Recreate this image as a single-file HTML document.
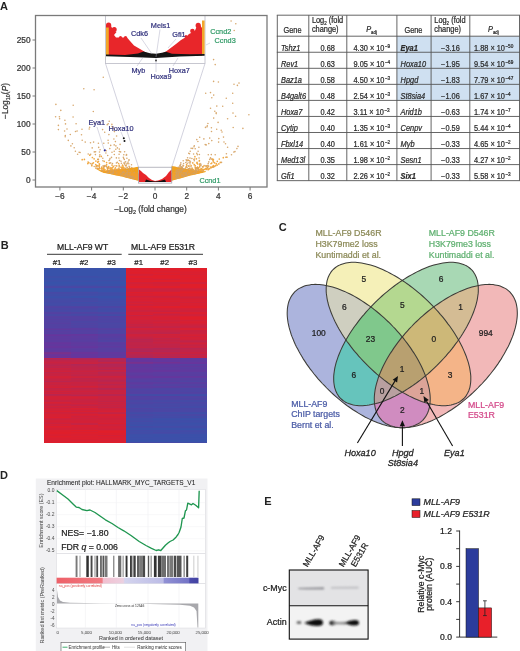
<!DOCTYPE html><html><head><meta charset="utf-8"><style>html,body{margin:0;padding:0;background:#fff;width:520px;height:651px;overflow:hidden}svg{display:block}#w{will-change:transform;width:520px;height:651px}text{font-family:"Liberation Sans",sans-serif}</style></head><body><div id="w"><svg width="520" height="651" viewBox="0 0 520 651"><text x="0.0" y="9.8" font-size="11" text-anchor="start" fill="#222" font-weight="bold">A</text>
<path d="M138.4 180.8L136.3 180.3L134.3 179.8L132.3 179.2L130.3 178.7L128.3 178.2L126.2 177.7L124.2 177.2L122.2 176.6L120.2 176.2L118.1 175.8L116.1 175.4L114.1 175.0L112.1 174.5L110.1 174.1L108.0 173.7L106.0 173.3L104.0 172.9L102.0 172.2L100.0 171.2L97.9 170.1L97.9 169.1L100.0 169.9L102.0 170.6L104.0 170.8L106.0 170.7L108.0 170.6L110.1 170.4L112.1 170.2L114.1 170.0L116.1 169.8L118.1 169.5L120.2 169.2L122.2 169.0L124.2 168.7L126.2 168.5L128.3 168.3L130.3 168.0L132.3 167.7L134.3 167.4L136.3 167.1L138.4 166.8ZM171.6 180.8L173.3 180.3L175.1 179.8L176.8 179.3L178.5 178.8L180.2 178.4L181.9 177.9L183.6 177.4L185.3 176.9L187.0 176.4L188.7 176.0L190.4 175.6L192.1 175.2L193.8 174.8L195.5 174.4L197.2 174.1L198.9 173.7L200.6 173.3L202.3 172.9L204.0 172.5L205.7 172.1L205.7 171.1L204.0 171.2L202.3 171.2L200.6 171.1L198.9 170.9L197.2 170.7L195.5 170.5L193.8 170.2L192.1 170.0L190.4 169.6L188.7 169.3L187.0 169.0L185.3 168.7L183.6 168.4L181.9 168.1L180.2 167.7L178.5 167.4L176.8 167.0L175.1 166.6L173.3 166.2L171.6 165.8Z" fill="#f0a21c"/>
<path d="M182.2 175.7h0M136.5 174.9h0M103.5 169.7h0M132.3 177.7h0M125.5 172.6h0M205.7 168.5h0M127.9 177.0h0M123.6 174.3h0M176.1 177.7h0M132.5 178.2h0M126.3 175.4h0M139.0 179.0h0M134.6 174.4h0M213.0 160.4h0M172.5 179.2h0M183.6 173.9h0M175.1 177.3h0M137.9 178.6h0M105.0 169.6h0M179.3 176.0h0M107.5 169.6h0M138.8 178.7h0M125.7 175.4h0M188.3 173.5h0M189.7 173.1h0M172.1 179.4h0M178.9 177.7h0M176.3 174.0h0M126.8 176.0h0M172.5 176.2h0M128.3 177.0h0M119.0 168.2h0M120.7 172.7h0M110.9 167.5h0M130.0 175.6h0M171.8 173.5h0M121.3 172.4h0M130.5 177.1h0M128.9 175.2h0M220.3 162.4h0M131.7 177.7h0M103.7 167.0h0M129.7 167.1h0M124.8 172.3h0M184.3 172.8h0M177.6 175.9h0M111.1 173.0h0M134.8 177.3h0M93.4 162.8h0M189.6 171.9h0M131.6 177.5h0M137.7 176.8h0M174.2 177.3h0M127.5 172.2h0M128.0 176.9h0M177.8 177.6h0M134.8 176.4h0M177.0 177.9h0M185.9 167.1h0M195.0 173.4h0M138.8 179.8h0M138.4 178.0h0M132.8 178.0h0M171.2 179.3h0M183.3 175.7h0M178.7 177.5h0M171.7 177.9h0M181.9 176.2h0M137.7 179.1h0M181.7 175.3h0M179.4 177.2h0M187.5 175.0h0M202.1 169.1h0M135.5 178.5h0M223.3 157.7h0M191.9 171.7h0M138.8 179.6h0M120.2 174.3h0M127.3 174.7h0M171.1 178.9h0M127.7 174.0h0M135.0 177.0h0M136.2 178.6h0M137.9 178.6h0M176.2 178.4h0M173.4 179.2h0M138.9 179.4h0M135.7 177.2h0M175.0 177.8h0M174.6 178.1h0M135.1 172.8h0M178.4 173.6h0M115.4 167.9h0M121.2 170.7h0M182.6 176.5h0M95.9 161.1h0M180.7 174.2h0M123.6 175.1h0M172.2 176.7h0M131.4 177.0h0M103.3 169.5h0M134.6 176.4h0M135.7 174.1h0M136.4 177.5h0M173.2 178.7h0M226.9 157.2h0M99.9 168.5h0M110.9 171.0h0M176.1 176.0h0M115.6 173.6h0M138.7 177.7h0M110.5 172.2h0M117.0 173.2h0M133.0 177.6h0M119.5 174.1h0M124.2 174.7h0M115.8 173.2h0M174.1 177.3h0M187.1 174.2h0M182.3 176.4h0M136.9 177.3h0M177.0 175.6h0M128.6 172.9h0M171.2 179.5h0M172.8 179.0h0M123.6 174.5h0M195.7 171.7h0M174.9 178.6h0M138.4 179.0h0M131.5 176.6h0M116.7 172.9h0M172.7 178.4h0M194.8 173.3h0M185.7 171.6h0M182.9 174.9h0M186.1 174.8h0M175.4 177.0h0M174.8 178.3h0M114.4 172.2h0M131.1 175.7h0M175.5 177.1h0M197.6 172.7h0M128.2 174.8h0M134.7 178.6h0M112.5 173.0h0M110.1 170.1h0M199.7 167.0h0M192.0 172.5h0M182.9 173.4h0M123.1 174.0h0M114.4 173.4h0M123.9 174.3h0M181.7 172.8h0M171.3 178.6h0M176.7 173.3h0M177.8 177.1h0M137.3 178.8h0M133.6 176.9h0M113.1 170.1h0M177.2 177.4h0M188.9 165.9h0M120.8 174.6h0M124.4 175.1h0M192.7 173.0h0M181.0 172.4h0M181.6 175.8h0M191.6 173.9h0M175.9 177.3h0M96.4 165.8h0M195.4 171.0h0M134.7 176.1h0M173.6 176.6h0M120.8 174.4h0M112.0 165.1h0M177.0 178.1h0M132.2 175.3h0M175.6 178.1h0M184.0 175.2h0M134.1 176.0h0M127.3 176.8h0M136.6 179.0h0M121.6 175.3h0M133.5 176.9h0M129.4 176.6h0M116.1 173.8h0M176.1 176.8h0M176.2 175.2h0M174.2 179.0h0M187.4 173.0h0M125.5 175.5h0M126.4 176.7h0M181.5 175.9h0M174.8 176.7h0M175.5 177.1h0M131.9 177.3h0M134.5 178.7h0M136.5 178.1h0M136.9 178.1h0M185.6 175.3h0M128.9 175.2h0M124.3 169.0h0M130.4 175.9h0M127.0 176.3h0M173.0 179.0h0M125.7 175.6h0M128.3 176.4h0M178.6 173.5h0M117.2 172.9h0M179.6 173.6h0M135.0 174.3h0M138.4 176.6h0M174.5 175.0h0M116.7 172.6h0M127.8 176.9h0M136.1 178.4h0M135.3 176.4h0M104.2 161.3h0M133.4 177.7h0M134.2 174.2h0M124.3 175.6h0M190.5 171.9h0M132.2 177.5h0M174.6 177.9h0M178.1 177.3h0M177.2 177.8h0M135.8 178.9h0M181.2 175.5h0M179.6 175.6h0M179.8 176.6h0M171.4 179.2h0M130.7 175.6h0M177.2 177.2h0M180.8 176.4h0M118.2 169.5h0M171.5 177.8h0M172.8 179.0h0M138.1 179.0h0M133.9 177.3h0M136.2 178.9h0M192.4 171.8h0M125.8 174.1h0M171.9 178.2h0M87.8 163.6h0M174.0 177.5h0M179.4 177.2h0M136.1 179.2h0M135.6 177.8h0M135.7 178.6h0M124.9 175.2h0M135.5 178.5h0M131.9 174.2h0M127.4 175.7h0M123.3 172.2h0M174.5 176.1h0M138.3 177.5h0M173.8 178.1h0M131.5 175.9h0M171.3 177.8h0M171.5 178.6h0M134.0 175.7h0M188.4 160.3h0M109.4 163.1h0M173.1 178.4h0M179.1 175.1h0M178.2 175.1h0M179.4 176.2h0M138.4 179.5h0M111.5 171.2h0M179.8 176.4h0M131.5 176.2h0M173.9 178.6h0M174.2 178.9h0M210.6 167.1h0M171.5 178.9h0M172.9 179.3h0M186.1 175.4h0M171.8 174.7h0M134.7 178.6h0M178.5 176.9h0M184.7 175.8h0M188.0 174.1h0M138.5 179.8h0M136.5 179.2h0M122.1 175.3h0M97.7 162.2h0M127.0 176.8h0M107.9 170.0h0M138.8 179.7h0M138.5 179.5h0M137.0 177.1h0M126.7 176.4h0M183.5 175.4h0M172.4 179.3h0M195.4 171.2h0M123.6 175.8h0M111.9 171.4h0M172.0 179.1h0M131.4 176.2h0M102.3 170.4h0M125.8 176.5h0M132.7 177.1h0M200.3 169.4h0M132.8 177.9h0M171.0 179.7h0M190.1 174.5h0M173.6 177.3h0M185.6 175.1h0M128.1 174.1h0M195.1 167.1h0M103.7 171.8h0M175.5 178.5h0M196.0 172.9h0M125.7 176.5h0M137.4 176.5h0M137.8 179.1h0M177.6 176.6h0M180.8 175.8h0M179.3 173.1h0M107.6 168.7h0M197.4 172.8h0M183.0 175.4h0M138.9 178.8h0M178.4 177.4h0M182.1 174.2h0M176.3 175.2h0M112.6 171.8h0M183.5 176.3h0M177.6 177.7h0M108.7 166.6h0M138.2 178.4h0M127.6 173.6h0M123.7 175.4h0M180.2 173.4h0M117.6 172.6h0M175.8 170.5h0M127.2 175.9h0M177.3 177.8h0M171.9 178.0h0M171.0 179.5h0M137.4 177.0h0M176.2 178.4h0M198.1 171.3h0M129.9 176.7h0M117.6 172.7h0M175.8 178.4h0M185.0 175.7h0M183.9 175.2h0M131.6 177.3h0M190.5 172.3h0M180.6 173.5h0M123.0 174.4h0M175.0 177.3h0M171.6 177.1h0M122.9 175.4h0M171.3 179.0h0M133.5 174.7h0M175.9 176.5h0M127.9 176.2h0M131.4 177.2h0M137.8 175.1h0M135.3 174.2h0M137.3 177.4h0M107.4 168.3h0M172.4 177.0h0M198.8 169.9h0M101.8 167.2h0M171.2 176.8h0M136.0 178.2h0M181.9 167.7h0M134.3 174.2h0M187.8 174.1h0M136.5 177.4h0M196.2 173.2h0M123.0 172.9h0M214.6 162.8h0M132.3 176.4h0M179.8 168.2h0M123.9 175.4h0M99.8 168.6h0M173.4 177.1h0M134.1 178.6h0M176.5 175.8h0M127.5 175.1h0M134.3 177.4h0M127.5 176.4h0M172.3 178.8h0M111.5 172.7h0M173.3 178.6h0M126.5 176.5h0M173.0 179.1h0M195.9 172.3h0M132.6 178.2h0M173.2 175.3h0M175.1 178.4h0M173.1 178.9h0M214.0 166.4h0M175.4 178.3h0M136.8 177.9h0M138.9 175.4h0M184.0 175.4h0M138.0 179.0h0M114.7 169.0h0M201.5 171.9h0M118.7 173.5h0M172.8 178.7h0M131.9 177.3h0M206.4 166.1h0M137.2 177.0h0M171.1 178.9h0M121.8 174.5h0M191.5 169.1h0M136.4 177.4h0M109.1 170.8h0M132.3 178.0h0M133.8 176.8h0M184.8 175.1h0M171.1 179.7h0M186.1 174.7h0M208.2 169.7h0M183.1 175.6h0M181.4 175.6h0M177.6 178.0h0M177.3 175.6h0M128.9 176.8h0M191.1 172.7h0M136.8 178.7h0M128.4 176.8h0M117.4 169.4h0M192.6 173.9h0M174.3 178.4h0M136.8 177.9h0M206.0 168.4h0M186.8 172.5h0M116.5 171.7h0M170.9 176.4h0M133.0 178.2h0M189.9 170.6h0M113.8 173.7h0M171.9 178.5h0M135.0 178.7h0M126.1 174.5h0M131.1 175.9h0M119.4 169.7h0M185.3 171.3h0M177.6 177.0h0M136.8 175.9h0M177.6 177.6h0M127.8 175.3h0M182.3 176.4h0M196.9 172.7h0M138.5 179.7h0M131.6 176.3h0M177.8 175.8h0M174.7 174.9h0M188.0 173.8h0M182.6 174.0h0M176.5 177.5h0M128.9 177.0h0M117.3 173.1h0M206.1 169.5h0M172.4 178.9h0M173.3 178.9h0M204.1 165.7h0M130.7 177.3h0M129.7 176.9h0M176.6 177.6h0M175.2 176.0h0M183.9 174.9h0M133.3 178.3h0M122.5 165.2h0M173.4 178.4h0M139.1 178.9h0M134.0 178.4h0M198.1 172.8h0M172.2 177.8h0M128.0 175.9h0M183.8 175.5h0M127.4 176.6h0M137.4 179.0h0M196.8 162.9h0M178.2 176.1h0M129.8 177.4h0M171.3 179.6h0M98.5 161.5h0M176.0 178.2h0M134.8 177.3h0M180.9 176.8h0M106.6 162.5h0M173.5 178.8h0M173.3 179.1h0M139.0 179.7h0M181.8 176.1h0M125.3 170.4h0M134.9 174.2h0M181.2 177.0h0M180.0 176.8h0M172.4 178.9h0M131.0 177.7h0M137.8 179.5h0M171.1 179.5h0M186.2 172.2h0M118.7 173.5h0M181.8 175.1h0M123.9 175.9h0M194.7 172.5h0M199.7 164.5h0M134.6 177.5h0M110.7 170.0h0M134.3 178.1h0M97.2 165.7h0M207.1 168.0h0M106.4 172.3h0M175.7 178.4h0M132.9 177.9h0M129.7 176.8h0M177.0 175.2h0M136.1 178.7h0M131.1 176.0h0M112.5 169.6h0M114.5 173.4h0M132.7 177.8h0M131.8 177.6h0M123.5 173.0h0M197.8 168.4h0M171.5 177.9h0M136.1 178.8h0M138.9 176.3h0M212.4 167.1h0M193.3 173.6h0M134.1 178.4h0M133.7 178.0h0M194.9 156.7h0M124.3 175.1h0M174.9 177.8h0M180.4 176.1h0M182.8 174.8h0M124.3 174.4h0M138.9 178.7h0M139.1 178.8h0M130.2 177.0h0M107.2 167.5h0M135.1 178.7h0M118.6 163.5h0M194.1 173.7h0M126.4 176.0h0M123.1 166.0h0M137.1 179.0h0M175.3 178.5h0M133.2 178.0h0M172.8 178.8h0M132.8 177.9h0M183.8 175.9h0M133.4 177.7h0M131.0 176.5h0M133.9 175.1h0M136.3 178.7h0M136.4 177.3h0M133.4 177.8h0M132.0 177.8h0M193.7 172.1h0M137.4 178.8h0M171.3 178.9h0M190.6 173.2h0M172.8 178.7h0M138.0 178.6h0M178.0 176.6h0M137.7 179.6h0M171.3 178.8h0M139.0 176.5h0M128.4 176.7h0M137.1 175.8h0M131.6 176.9h0M176.2 168.1h0M173.6 179.1h0M212.6 166.9h0M182.5 173.1h0M133.3 178.4h0M109.3 172.8h0M113.5 173.8h0M107.9 172.0h0M215.6 165.7h0M195.3 168.9h0M123.3 175.2h0M137.3 176.2h0M175.1 177.0h0M128.0 177.0h0M182.2 175.3h0M175.0 172.4h0M112.2 171.6h0M197.1 162.4h0M173.3 178.5h0M138.1 178.4h0M175.9 178.5h0M172.1 178.7h0M188.8 173.0h0M128.3 170.9h0M130.9 176.0h0M125.8 174.2h0M177.1 177.1h0M175.2 176.1h0M138.7 178.4h0M171.6 178.3h0M130.8 172.6h0M172.0 178.7h0M204.4 169.3h0M212.2 166.9h0M136.0 179.2h0M134.4 178.6h0M183.3 174.3h0M134.3 175.8h0M125.7 173.7h0M191.0 173.2h0M174.5 178.8h0M185.7 173.4h0M200.0 169.3h0M172.9 178.9h0M187.0 174.1h0M179.4 176.5h0M201.2 171.5h0M196.0 173.1h0M178.3 177.0h0M129.3 177.2h0M136.4 177.8h0M176.6 174.4h0M133.7 178.2h0M178.4 175.5h0M129.3 177.0h0M116.5 169.6h0M122.1 175.4h0M117.6 173.5h0M187.2 175.2h0M199.0 172.4h0M129.2 175.8h0M183.6 176.0h0M132.1 176.4h0M137.7 179.3h0M120.5 173.8h0M187.2 173.1h0M195.6 170.5h0M192.8 172.3h0M211.7 163.1h0M171.6 177.5h0M127.1 176.8h0M123.6 175.9h0M120.0 172.2h0M174.7 178.4h0M173.9 179.1h0M136.8 178.5h0M175.3 176.8h0M174.7 178.5h0M136.3 177.6h0M181.0 177.0h0M178.1 170.1h0M173.5 178.3h0M185.3 175.8h0M178.3 177.4h0M124.8 174.4h0M171.6 179.8h0M178.9 176.8h0M135.4 178.6h0M171.4 177.6h0M175.1 176.9h0M128.4 176.6h0M170.9 178.2h0M170.9 179.8h0M186.4 174.4h0M181.3 174.3h0M113.0 172.9h0M125.0 175.4h0M183.2 173.1h0M125.3 175.9h0M135.2 178.6h0M138.3 179.2h0M135.5 177.9h0M179.0 177.7h0M211.0 163.6h0M174.9 178.4h0M211.2 167.7h0M138.7 175.2h0M171.0 178.4h0M170.9 178.2h0M126.6 175.1h0M180.9 177.1h0M88.1 162.1h0M178.9 176.7h0M189.5 173.9h0M134.9 177.6h0M139.0 179.8h0M123.4 174.1h0M135.2 177.9h0M216.3 163.7h0M128.3 174.7h0M134.7 176.9h0M129.6 177.1h0M175.5 178.2h0M179.9 176.4h0M107.5 169.7h0M212.6 159.2h0M181.2 173.2h0M91.8 165.7h0M125.9 173.7h0M115.9 171.6h0M174.8 177.9h0M136.6 179.3h0M190.6 172.1h0M97.6 165.8h0M193.3 169.5h0M197.5 167.2h0M123.3 173.5h0M126.6 176.5h0M132.2 177.9h0M137.7 179.3h0M97.9 169.0h0M132.4 178.2h0M101.4 170.3h0M182.1 176.3h0M138.4 177.4h0M173.3 179.2h0M175.5 177.6h0M131.5 177.1h0M137.9 175.2h0M121.4 170.7h0M134.0 177.7h0M182.7 175.5h0M105.8 166.0h0M174.6 177.8h0M176.6 172.4h0M123.8 175.9h0M172.0 179.2h0M172.2 178.6h0M109.2 172.5h0M116.7 173.6h0M219.3 159.0h0M186.1 173.6h0M136.7 178.1h0M183.9 176.3h0M174.7 178.4h0M112.7 172.5h0M137.6 179.3h0M172.4 178.2h0M183.4 173.2h0M135.9 177.6h0M136.1 177.7h0M137.1 179.4h0M135.9 177.8h0M131.6 177.9h0M112.8 167.4h0M182.7 175.4h0M135.5 178.1h0M138.9 178.6h0M180.9 176.7h0M180.5 176.8h0M200.9 170.5h0M179.6 176.8h0M173.5 177.5h0M139.1 178.8h0M111.2 169.4h0M196.4 172.4h0M196.4 158.8h0M138.0 179.5h0M134.0 176.5h0M135.3 177.9h0M132.3 177.7h0M134.8 177.4h0M192.3 173.7h0M181.2 174.7h0M137.2 179.5h0M128.2 175.2h0M201.8 171.2h0M130.4 175.0h0M195.7 171.8h0M134.2 178.3h0M92.2 163.5h0M178.2 177.0h0M176.4 176.9h0M129.1 170.1h0M186.4 170.8h0M128.0 176.4h0M184.5 175.8h0M123.9 167.7h0M118.2 173.7h0M131.3 176.3h0M136.4 179.2h0M173.9 177.6h0M133.8 173.4h0M115.5 173.6h0M190.7 171.7h0M107.8 171.0h0M172.8 178.9h0M183.5 172.4h0M120.4 170.2h0M183.2 175.7h0M191.6 172.1h0M103.5 171.2h0M176.5 178.1h0M192.8 173.4h0M182.0 176.0h0M128.1 175.5h0M179.8 176.3h0M171.8 179.7h0M189.5 173.0h0M137.6 179.5h0M133.7 178.5h0M138.2 177.1h0M177.0 177.4h0M171.8 179.0h0M181.9 176.2h0M132.5 173.7h0M181.6 173.9h0M173.6 177.9h0M176.2 177.8h0M89.8 155.2h0M122.9 169.9h0M171.6 179.1h0M177.8 177.7h0M171.6 176.0h0M173.4 178.3h0M173.0 179.0h0M136.7 178.2h0M139.1 179.2h0M178.4 174.4h0M175.6 178.2h0M137.8 178.0h0M117.8 174.0h0M173.1 177.3h0M123.9 174.9h0M178.3 177.7h0M181.7 176.3h0M183.6 175.6h0M180.5 175.0h0M131.8 171.2h0M181.9 175.4h0M213.3 165.6h0M196.2 172.5h0M132.0 177.9h0M131.1 177.0h0M137.5 178.8h0M136.8 177.3h0M194.7 171.4h0M171.6 177.7h0M176.4 174.3h0M138.2 178.1h0M131.6 176.8h0M113.2 171.0h0M135.7 175.8h0M132.3 178.2h0M138.6 179.0h0M183.3 176.0h0M171.0 177.8h0M172.0 176.3h0M135.7 179.1h0M133.4 177.6h0M119.5 172.2h0M134.3 177.8h0M133.6 174.9h0M183.7 173.0h0M191.3 173.5h0M138.5 178.5h0M137.2 178.9h0M183.1 176.4h0M137.2 179.4h0M183.4 176.3h0M178.6 176.6h0M117.3 173.2h0M177.9 177.2h0M131.8 178.1h0M136.5 179.0h0M118.5 174.4h0M130.3 177.2h0M198.2 169.3h0M176.5 178.1h0M135.5 179.0h0M176.6 177.4h0M174.8 177.2h0M133.7 178.1h0M94.1 158.8h0M176.7 177.5h0M179.4 177.3h0M133.4 178.3h0M181.1 173.8h0M116.7 165.9h0M114.7 173.1h0M136.0 178.5h0M134.8 173.5h0M171.7 179.7h0M124.6 175.8h0M181.2 174.8h0M128.3 177.2h0M181.5 175.9h0M128.5 175.8h0M134.5 177.2h0M179.7 171.6h0M186.5 173.4h0M181.8 173.7h0M135.6 174.1h0M137.1 177.5h0M172.4 177.7h0M174.6 175.9h0M137.0 179.3h0M138.7 179.4h0M132.0 175.3h0M191.8 171.9h0M137.4 175.4h0M174.2 178.5h0M121.9 174.9h0M135.0 178.7h0M178.3 177.1h0M179.9 177.0h0M172.4 178.2h0M180.9 175.9h0M171.5 178.8h0M130.1 177.3h0M174.7 177.2h0M130.2 176.8h0M185.4 170.6h0M174.0 174.8h0M202.9 166.9h0M124.7 171.6h0M127.3 176.7h0M131.0 177.7h0M133.9 176.4h0M119.2 173.9h0M173.6 179.2h0M172.7 179.0h0M192.4 172.6h0M181.9 176.7h0M133.0 177.4h0M136.6 178.6h0M218.8 163.9h0M188.5 174.3h0M178.2 174.5h0M134.4 175.6h0M174.6 175.4h0M138.8 179.3h0M121.1 175.0h0M199.7 166.6h0M176.0 178.4h0M137.2 179.2h0M125.8 172.9h0M183.5 171.2h0M184.5 173.2h0M181.8 174.1h0M136.2 179.0h0M99.3 166.1h0M117.5 174.5h0M182.7 174.6h0M116.6 174.4h0M132.2 177.7h0M128.0 177.0h0M203.4 171.0h0M209.2 168.8h0M209.7 168.5h0M133.2 176.5h0M172.6 177.9h0M101.5 170.7h0M134.7 178.0h0M98.1 168.6h0M120.6 175.2h0M134.6 178.3h0M138.1 179.6h0M198.8 172.2h0M138.9 179.3h0M188.1 171.0h0M95.8 164.5h0M177.1 177.1h0M189.1 168.5h0M172.5 178.9h0M110.2 173.0h0M126.1 165.7h0M172.7 178.8h0M172.5 177.5h0M130.3 173.6h0M128.1 175.0h0M174.7 178.1h0M137.4 178.2h0M129.2 177.3h0M124.6 171.6h0M214.6 166.3h0M131.0 176.9h0M199.2 169.8h0M178.2 176.9h0M131.0 172.8h0M193.9 172.2h0M184.0 175.0h0M179.9 177.1h0M183.0 172.4h0M99.2 163.8h0M137.6 177.1h0M137.1 173.5h0M111.7 168.6h0M179.4 177.1h0M181.3 173.2h0M188.7 172.6h0M184.2 176.1h0M134.8 178.0h0M136.1 178.9h0M181.7 175.8h0M181.0 171.0h0M121.5 175.3h0M118.9 174.7h0M135.5 178.8h0M114.5 172.4h0M132.5 177.7h0M123.6 174.1h0M189.7 174.6h0M104.7 171.1h0M114.2 173.5h0M171.6 179.7h0M139.0 179.9h0M179.2 177.6h0M173.0 178.6h0M172.5 178.6h0M191.6 173.7h0M177.1 176.3h0M174.1 178.5h0M174.9 176.5h0M178.3 176.9h0M189.3 174.6h0M101.7 168.3h0M130.5 177.1h0M135.4 178.8h0M171.7 179.3h0M132.8 178.2h0M177.8 177.5h0M189.6 168.3h0M172.9 179.0h0M117.9 172.6h0M97.8 159.4h0M173.2 178.9h0M181.4 175.2h0M129.9 177.4h0M171.0 178.8h0M172.8 177.9h0M174.4 177.5h0M130.2 173.5h0M175.5 177.7h0M171.0 179.4h0M132.7 178.2h0M184.4 174.9h0M178.6 175.0h0M170.9 178.9h0M132.5 176.9h0M191.9 173.0h0M198.9 171.3h0M137.5 179.6h0M179.8 176.6h0M138.5 177.9h0M84.4 159.4h0M199.2 172.4h0M174.5 178.1h0M181.3 177.0h0M172.0 179.7h0M134.9 177.2h0M137.5 176.0h0M175.6 177.3h0M172.5 178.8h0M170.9 177.3h0M174.9 178.0h0M199.4 160.6h0M185.8 172.9h0M176.1 176.8h0M99.4 168.7h0M112.4 171.6h0M173.6 178.7h0M110.8 172.8h0M133.1 177.9h0M132.7 177.6h0M134.5 177.8h0M116.4 174.2h0M179.5 174.5h0M176.4 173.4h0M192.8 162.9h0M136.3 178.9h0M185.7 175.5h0M123.3 175.6h0M200.0 165.2h0M177.5 177.5h0M132.6 178.1h0M176.7 176.3h0M130.3 174.7h0M206.6 168.9h0M172.9 179.3h0M197.7 164.0h0M195.2 165.6h0M172.6 178.8h0M113.9 172.0h0M186.7 171.2h0M196.2 171.1h0M181.5 170.7h0M137.2 178.9h0M184.8 172.1h0M196.8 172.8h0M120.6 172.4h0M173.9 174.4h0M121.6 167.9h0M97.5 168.9h0M175.1 177.3h0M137.2 173.7h0M138.2 179.3h0M188.5 168.9h0M171.0 179.6h0M187.8 174.2h0M137.2 177.5h0M137.4 178.5h0M184.9 174.2h0M135.8 175.8h0M175.4 177.7h0M132.0 172.9h0M112.4 173.5h0M132.2 177.2h0M203.2 170.8h0M177.5 178.0h0M133.2 177.5h0M170.9 179.8h0M181.3 176.1h0M111.0 171.8h0M172.0 178.1h0M136.0 177.5h0M183.4 175.8h0M137.2 178.7h0M110.6 170.3h0M136.7 178.3h0M131.1 177.1h0M176.7 178.1h0M175.2 178.2h0M186.6 164.7h0M121.0 167.2h0M116.9 174.4h0M175.1 178.6h0M99.5 168.7h0M173.5 177.8h0M119.0 174.4h0M175.4 177.5h0M174.8 177.2h0M127.5 177.0h0M179.9 176.3h0M97.6 168.3h0M138.8 179.6h0M118.5 173.2h0M88.8 162.6h0M132.3 177.3h0M171.4 179.7h0M131.5 170.6h0M129.9 176.8h0M174.5 176.8h0M172.6 179.3h0M184.8 175.3h0M98.8 165.9h0M177.8 176.1h0M178.6 172.0h0M178.3 175.1h0M137.4 179.2h0M173.3 178.9h0M132.4 177.6h0M135.9 175.8h0M130.7 177.0h0M203.3 169.7h0M175.0 178.7h0M213.4 161.8h0M137.1 178.9h0M172.6 178.9h0M108.6 172.5h0M194.8 171.7h0M175.1 178.1h0M137.0 173.2h0M179.0 175.5h0M177.5 176.9h0M192.3 171.7h0M135.9 177.6h0M187.1 173.9h0M129.3 176.7h0M125.4 173.2h0M176.1 178.4h0M172.3 179.3h0M118.9 174.6h0M131.6 176.6h0M171.1 177.4h0M135.1 177.3h0M178.9 175.8h0M187.5 174.4h0M133.9 177.7h0M180.5 175.4h0M186.2 174.9h0M107.2 170.9h0M173.9 176.7h0M182.5 174.1h0M172.8 179.2h0M173.1 177.7h0M175.5 178.4h0M132.2 176.2h0M132.2 176.8h0M171.5 179.8h0M174.0 172.7h0M127.0 175.1h0M134.1 178.0h0M138.0 178.8h0M116.5 172.8h0M132.9 176.5h0M95.9 168.1h0M138.1 174.5h0M134.2 176.5h0M130.5 177.3h0M128.2 176.8h0M188.4 173.0h0M175.2 176.7h0M129.8 177.2h0M101.8 169.9h0M117.0 170.8h0M131.0 176.2h0M134.4 176.2h0M174.1 177.4h0M172.4 179.3h0M180.0 176.5h0M195.1 170.5h0M192.5 172.1h0M179.3 177.1h0M173.7 174.4h0M199.1 171.5h0M172.1 179.6h0M129.0 176.5h0M137.8 178.8h0M134.6 176.8h0M182.1 176.2h0M135.2 177.7h0M137.8 178.4h0M137.0 175.5h0M174.1 178.8h0M129.1 176.0h0M138.2 179.1h0M92.4 157.5h0M185.1 173.8h0M115.3 170.0h0M131.8 177.2h0M176.6 177.5h0M132.1 177.1h0M124.9 175.2h0M133.6 176.4h0M125.8 172.7h0M175.1 178.7h0M179.9 177.4h0M171.0 177.4h0M125.0 170.5h0M172.7 179.4h0M131.2 177.7h0M110.6 170.1h0M175.8 176.6h0M171.9 179.2h0M116.0 174.2h0M173.1 178.5h0M135.8 175.9h0M126.8 176.0h0M135.4 179.0h0M171.0 179.6h0M116.0 172.1h0M136.6 178.7h0M188.2 174.9h0M196.3 170.9h0M101.8 171.0h0M113.3 166.3h0M138.9 179.9h0M175.9 177.0h0M172.4 177.9h0M124.5 175.8h0M132.6 178.3h0M134.3 177.9h0M137.7 177.6h0M181.2 169.3h0M171.2 179.9h0M173.6 178.9h0M196.9 171.7h0M174.3 178.6h0M120.6 172.9h0M132.1 178.0h0M137.5 178.3h0M127.2 174.9h0M88.6 162.7h0M181.0 176.5h0M120.0 171.0h0M128.6 176.4h0M174.6 175.0h0M172.5 178.7h0M208.6 166.1h0M138.3 179.3h0M132.9 177.6h0M181.3 168.5h0M127.5 175.4h0M130.9 177.4h0M134.1 172.8h0M119.0 171.4h0M133.3 177.8h0M126.8 173.8h0M180.1 177.2h0M184.7 170.7h0M136.1 177.5h0M137.9 179.4h0M172.3 179.1h0M181.7 174.4h0M173.1 178.1h0M172.5 179.4h0M137.1 177.5h0M172.2 177.5h0M172.4 179.1h0M133.2 178.2h0M119.2 165.3h0M176.3 177.9h0M118.6 174.9h0M111.4 172.1h0M178.9 177.2h0M130.0 174.5h0M126.5 176.5h0M171.6 179.5h0M186.6 174.8h0M174.6 177.3h0M133.4 173.1h0M138.9 178.4h0M107.8 171.3h0M137.1 178.6h0M177.3 177.9h0M203.3 171.0h0M137.0 179.4h0M130.0 172.5h0M127.7 174.7h0M121.8 175.1h0M138.1 178.1h0M138.3 177.6h0M133.1 178.3h0M118.7 174.0h0M132.2 177.8h0M173.6 178.5h0M180.6 176.4h0M132.5 176.1h0M129.1 175.4h0M136.8 179.1h0M184.8 169.7h0M177.5 177.1h0M134.4 177.7h0M110.7 169.4h0M175.8 177.9h0M130.9 177.9h0M132.2 177.9h0M186.8 172.6h0M134.1 175.2h0M137.6 178.9h0M107.8 167.9h0M191.1 165.5h0M129.2 176.2h0M136.8 179.4h0M136.4 176.6h0M134.6 178.6h0M113.0 173.3h0M174.3 177.7h0M192.6 172.0h0M136.6 179.3h0M183.5 175.9h0M120.9 175.2h0M119.7 172.7h0M137.2 178.8h0M171.1 179.4h0M188.8 174.8h0M126.0 176.0h0M132.2 178.1h0M171.3 179.6h0M135.3 175.3h0M183.0 174.6h0M130.6 177.1h0M172.4 174.4h0M171.9 178.7h0M127.1 176.9h0M116.3 174.4h0M125.7 176.5h0M186.7 171.9h0M196.2 168.3h0M130.5 176.7h0M133.7 178.0h0M189.4 173.5h0M187.6 174.5h0M172.3 178.9h0M129.1 173.7h0M102.9 170.1h0M136.3 178.7h0M174.1 178.7h0M174.9 177.9h0M128.2 176.4h0M171.6 177.6h0M131.5 174.9h0M129.1 172.8h0M133.3 177.7h0M110.3 168.8h0M180.7 176.0h0M101.3 156.4h0M193.0 170.8h0M108.8 172.2h0M134.0 178.2h0M175.7 178.4h0M192.1 168.2h0M181.3 175.8h0M136.0 178.3h0M185.7 175.0h0M122.9 172.0h0M122.5 167.1h0M176.6 177.4h0M134.1 174.9h0M135.7 178.2h0M136.9 174.1h0M122.0 169.1h0M217.2 165.1h0M133.5 177.2h0M127.1 171.2h0M173.7 177.1h0M176.7 177.5h0M136.3 175.3h0M135.4 177.8h0M172.4 178.0h0M196.9 172.5h0M138.1 179.2h0M114.4 173.8h0M129.6 174.3h0M179.4 177.5h0M175.0 177.2h0M138.8 174.0h0M190.2 172.6h0M172.1 179.4h0M134.4 178.2h0M128.1 176.0h0M125.7 175.3h0M131.9 177.4h0M138.8 179.8h0M138.4 179.0h0M115.1 171.2h0M108.5 171.2h0M136.0 179.0h0M117.3 173.2h0M119.6 170.8h0M132.3 173.2h0M173.6 177.1h0M122.0 174.4h0M129.8 176.2h0M176.6 177.9h0M132.6 177.5h0M129.3 174.0h0M178.4 175.8h0M136.1 178.3h0M138.4 179.0h0M134.3 176.3h0M174.5 178.4h0M125.0 175.8h0M117.7 174.7h0M180.2 176.5h0M126.6 176.4h0M137.9 179.4h0M130.9 175.3h0M201.5 170.6h0M178.2 177.0h0M137.1 179.0h0M138.2 177.0h0M119.7 174.8h0M183.1 176.1h0M172.9 179.2h0M179.4 176.2h0M131.3 177.6h0M186.5 173.7h0M175.7 177.3h0M134.0 178.0h0M135.7 178.5h0M176.7 177.2h0M178.9 176.7h0M139.1 179.8h0M188.6 168.8h0M199.6 171.1h0M175.9 177.8h0M138.6 176.3h0M110.2 172.6h0M109.2 170.9h0M177.5 176.7h0M190.7 173.3h0M178.2 176.0h0M207.8 167.8h0M187.3 170.4h0M171.1 179.9h0M177.4 174.7h0M132.8 176.7h0M179.6 173.5h0M123.0 174.3h0M128.5 175.1h0M176.6 172.0h0M171.7 179.1h0M190.6 174.2h0M175.8 177.1h0M134.4 174.5h0M197.9 170.9h0M138.5 179.4h0M130.7 176.8h0M186.2 175.1h0M172.5 179.1h0M178.9 174.7h0M173.2 179.1h0M185.8 175.2h0M138.6 179.1h0M132.0 177.9h0M131.3 177.8h0M133.2 176.4h0M176.4 177.6h0M126.4 175.5h0M174.6 177.7h0M172.0 179.0h0M132.7 175.0h0M138.4 178.4h0M128.8 174.1h0M179.6 175.0h0M134.7 178.5h0M104.3 169.1h0M124.0 170.5h0M125.1 175.3h0M131.9 177.4h0M178.9 175.3h0M130.8 177.8h0M178.5 177.6h0M183.8 175.2h0M106.3 171.1h0M178.1 175.6h0M136.1 178.2h0M173.8 178.9h0M177.7 176.1h0M119.3 170.1h0M128.4 177.0h0M137.4 179.5h0M129.3 177.3h0M172.7 179.4h0M173.2 178.9h0M174.4 177.4h0M178.7 177.0h0M134.0 178.5h0M99.5 164.6h0M130.2 176.0h0M138.4 177.0h0M175.8 177.0h0M136.6 179.3h0M124.7 173.8h0M199.3 161.0h0M173.1 178.6h0M174.7 177.6h0M107.6 171.0h0M176.3 177.8h0M174.4 177.7h0M130.7 176.6h0M126.2 176.1h0M190.8 171.4h0M182.8 176.3h0M130.7 174.3h0M123.1 174.3h0M113.1 171.3h0M183.4 171.7h0M129.6 175.2h0M118.4 173.3h0M217.3 161.3h0M181.7 176.2h0M135.1 178.2h0M177.6 174.5h0M138.5 179.7h0M174.8 177.5h0M122.3 168.4h0M126.4 174.6h0M109.4 171.9h0M178.6 175.5h0M131.2 175.8h0M122.7 174.2h0M201.5 168.6h0M116.7 170.8h0M175.2 176.1h0M124.0 175.4h0M183.7 176.1h0M178.0 177.1h0M117.9 171.6h0M170.9 179.1h0M135.2 178.5h0M133.2 177.4h0M177.9 177.7h0M125.4 176.0h0M125.8 173.6h0M138.2 176.6h0M178.8 177.2h0M82.2 159.7h0M176.6 177.7h0M130.6 174.8h0M178.0 177.4h0M124.4 169.7h0M129.3 177.2h0M173.7 179.1h0M174.2 176.7h0M203.0 167.0h0M132.0 177.0h0M175.7 177.5h0M179.6 173.2h0M137.6 178.9h0M182.5 176.2h0M136.1 177.9h0M182.2 176.2h0M186.6 166.9h0M124.9 175.5h0M172.1 179.4h0M139.1 179.9h0M175.2 177.9h0M128.0 174.0h0M137.7 178.3h0M174.0 178.8h0M192.7 173.6h0M173.6 178.1h0M192.1 173.8h0M123.2 173.4h0M176.1 178.0h0M138.5 178.3h0M124.9 172.5h0M136.0 178.0h0M183.8 176.1h0M136.3 179.1h0M172.3 178.6h0M104.2 170.0h0M184.7 175.8h0M173.9 175.4h0M138.6 178.8h0M198.4 167.9h0M181.3 176.5h0M137.7 177.8h0M174.9 178.1h0M171.7 179.3h0M201.4 172.0h0M172.6 177.4h0M171.8 177.5h0M119.2 170.1h0M133.7 173.8h0M125.8 176.3h0M133.6 176.3h0M175.4 175.4h0M104.3 166.2h0M201.1 170.1h0M180.8 173.6h0M171.8 176.3h0M179.6 177.5h0M185.4 170.0h0M109.0 167.8h0M172.2 178.1h0M179.8 174.7h0M139.1 179.6h0M131.4 175.0h0M134.4 177.6h0M194.2 164.7h0M112.3 173.5h0M174.3 177.5h0M172.7 178.0h0M138.5 178.6h0M132.9 177.6h0M138.4 178.6h0M139.1 179.4h0M128.2 176.4h0M134.0 178.1h0M133.5 177.1h0M127.2 174.0h0M177.3 177.2h0M183.6 174.3h0M135.3 178.2h0M194.8 172.7h0M171.4 179.6h0M198.2 172.5h0M184.5 175.9h0M123.5 175.8h0M171.1 179.1h0M138.4 175.4h0M180.5 176.5h0M187.1 172.9h0M174.4 179.0h0M192.4 169.9h0M137.1 178.1h0M138.5 179.8h0M128.2 176.4h0M191.5 170.3h0M114.2 171.0h0M171.9 179.2h0M131.2 175.3h0M178.7 175.8h0M174.8 178.5h0M206.2 165.8h0M172.5 178.2h0M111.0 173.1h0M171.6 179.8h0M172.9 178.0h0M121.2 175.4h0M178.7 176.0h0M138.3 179.6h0M177.2 171.4h0M188.3 173.5h0M106.6 164.7h0M127.8 171.5h0M137.2 176.3h0M176.5 178.2h0M136.6 177.2h0M131.0 177.3h0M178.1 172.2h0M185.5 175.6h0M133.2 174.6h0M188.2 174.8h0M134.4 176.7h0M182.4 176.5h0M186.3 171.4h0M126.7 173.3h0M175.5 175.8h0M135.3 177.1h0M183.5 175.5h0M174.6 178.6h0M175.1 178.6h0M175.8 178.2h0M123.6 169.0h0M172.1 178.4h0M184.8 174.0h0M135.1 177.8h0M111.2 172.4h0M127.6 174.4h0M180.5 173.5h0M176.8 175.7h0M175.5 177.8h0M129.5 176.6h0M180.1 175.8h0M186.8 173.5h0M182.4 176.5h0M203.1 170.1h0M175.1 177.9h0M139.1 179.7h0M103.3 168.4h0M172.7 178.7h0M181.8 176.3h0M171.0 179.1h0M128.4 176.5h0M116.7 172.3h0M173.0 177.6h0M128.3 175.6h0M111.2 173.3h0M177.2 178.2h0M113.7 170.1h0M131.5 176.3h0M134.1 178.5h0M188.5 173.4h0M135.8 178.1h0M132.3 175.7h0M179.5 177.5h0M133.5 176.6h0M138.1 175.5h0M175.5 177.4h0M130.3 175.0h0M180.1 172.2h0M136.4 179.2h0M176.1 175.9h0M103.9 170.1h0M172.5 179.1h0M128.9 174.9h0M129.8 177.2h0M175.7 177.6h0M178.2 176.1h0M117.3 173.3h0M127.0 171.8h0M195.8 171.9h0M177.2 170.2h0M176.4 176.9h0M175.7 178.4h0M171.1 176.9h0M124.7 176.2h0M108.1 171.7h0M175.4 178.3h0M172.5 176.6h0M190.5 172.5h0M135.4 178.8h0M111.2 172.8h0M134.8 178.8h0M173.0 177.4h0M184.4 174.5h0M213.4 159.7h0M174.8 176.2h0M125.9 175.6h0M178.9 175.1h0M137.8 176.3h0M172.4 179.5h0" stroke="#f0a030" stroke-width="1.7" stroke-linecap="round" opacity="0.9"/>
<path d="M70.9 145.9h0M248.9 114.8h0M95.4 154.6h0M236.9 148.6h0M89.2 129.0h0M90.7 154.2h0M242.9 128.4h0M231.5 154.8h0M100.1 149.7h0M235.0 151.6h0M233.9 152.1h0M55.6 116.7h0M58.4 129.6h0M82.2 140.2h0M64.9 120.3h0M226.4 153.7h0M90.5 142.8h0M80.1 152.5h0M211.3 154.6h0M132.9 178.3h0M120.4 175.2h0M132.9 176.3h0M208.8 143.6h0M108.2 172.5h0M181.5 166.7h0M208.2 163.5h0M114.4 131.6h0M182.1 176.5h0M132.7 178.0h0M188.8 166.3h0M74.2 147.8h0M110.0 158.5h0M116.7 173.0h0M178.8 176.5h0M130.1 176.5h0M125.5 168.4h0M115.8 149.3h0M121.0 161.2h0M131.1 177.9h0M186.4 174.3h0M183.0 165.4h0M128.2 177.0h0M75.5 131.5h0M125.6 161.8h0M175.8 175.4h0M125.7 176.2h0M183.8 168.8h0M124.6 164.1h0M194.7 171.0h0M125.8 173.6h0M192.4 169.2h0M181.2 174.8h0M113.1 172.8h0M191.0 172.1h0M190.7 169.8h0M128.3 176.8h0M120.1 144.4h0M123.3 175.9h0M177.9 175.7h0M128.7 160.1h0M134.2 178.5h0M178.2 177.9h0M123.9 163.0h0M111.9 124.4h0M180.9 162.8h0M207.3 125.8h0M195.9 167.9h0M134.2 178.0h0M207.9 123.5h0M198.9 147.2h0M116.4 163.0h0M102.2 170.8h0M189.9 168.6h0M113.4 170.7h0M191.0 166.7h0M195.2 148.7h0M211.8 97.7h0M218.6 142.1h0M128.8 163.7h0M113.1 172.0h0M177.8 171.8h0M113.5 172.3h0M102.6 129.6h0M227.6 118.7h0M238.0 146.4h0M134.3 178.6h0M127.3 167.8h0M193.7 172.7h0M191.1 148.2h0M59.6 118.8h0M180.4 165.5h0M178.7 176.0h0M181.1 167.8h0M122.2 172.3h0M65.3 135.5h0M208.2 163.8h0M130.8 176.7h0M182.4 167.7h0M128.0 176.0h0M199.4 154.5h0M100.3 122.7h0M180.8 173.0h0M104.5 166.8h0M94.2 166.5h0M184.4 172.8h0M183.6 176.2h0M110.7 173.3h0M125.4 165.6h0M183.0 166.2h0M205.2 144.6h0M121.4 163.2h0M112.0 152.2h0M221.2 130.2h0M129.3 160.0h0M90.4 163.6h0M183.5 165.6h0M198.0 168.4h0M109.0 160.5h0M218.1 122.4h0M176.0 177.9h0M178.3 177.5h0M225.8 157.2h0M99.9 154.9h0M77.1 131.0h0M176.8 172.4h0M127.5 170.9h0M133.0 178.2h0M127.3 163.3h0M108.2 123.7h0M190.1 164.0h0M119.3 151.5h0M202.6 166.7h0M128.4 176.3h0M124.8 175.3h0M124.3 159.5h0M206.2 144.9h0M126.8 170.3h0M179.1 172.2h0M196.6 172.4h0M124.8 163.9h0M210.5 157.9h0M176.5 170.3h0M176.7 175.0h0M195.0 173.5h0M97.3 168.8h0M108.3 172.5h0M183.7 173.1h0M131.8 167.5h0M187.8 174.7h0M176.5 176.9h0M91.9 164.8h0M125.1 162.1h0M189.1 162.8h0M123.4 171.9h0M115.0 165.8h0M133.4 169.7h0M185.5 173.9h0M116.4 157.9h0M196.8 139.6h0M180.9 173.0h0M176.7 178.3h0M134.3 172.4h0M193.6 154.0h0M112.5 163.6h0M222.0 132.0h0M180.9 171.5h0M213.7 118.1h0M183.7 169.0h0M122.0 174.3h0M233.0 113.1h0M124.5 175.4h0M196.9 169.8h0M95.6 151.8h0M196.5 171.0h0M196.2 172.0h0M189.5 153.8h0M190.2 151.2h0M102.8 158.3h0M108.1 140.2h0M129.8 172.2h0M107.9 168.1h0M198.1 151.2h0M223.5 137.1h0M123.3 157.3h0M205.5 127.4h0M183.6 163.5h0M237.4 85.4h0M127.2 174.5h0M73.2 105.3h0M207.1 126.8h0M207.6 165.8h0M76.1 123.7h0M190.5 162.1h0M193.8 159.3h0M129.3 169.6h0M189.1 174.3h0M187.8 160.0h0M58.4 125.4h0M186.0 175.0h0M185.7 172.7h0M68.3 140.4h0M104.9 165.5h0M60.8 110.4h0M113.2 173.4h0M186.5 173.1h0M178.1 169.5h0M106.7 166.6h0M222.7 106.2h0M129.7 172.8h0M175.9 172.0h0M119.3 149.1h0M177.4 178.1h0M119.1 154.2h0M92.2 147.9h0M225.5 143.8h0M99.6 156.6h0M107.2 124.8h0M183.2 172.9h0M131.5 164.7h0M177.0 174.9h0M125.8 174.2h0M88.2 154.0h0M211.8 140.6h0M118.9 158.0h0M184.6 175.6h0M178.1 172.0h0M192.8 173.6h0M208.8 161.9h0M211.4 127.7h0M180.5 166.8h0M187.5 171.4h0M113.6 128.3h0M115.9 145.9h0M129.0 166.3h0M120.6 151.9h0M177.5 177.5h0M235.6 116.3h0M215.2 154.7h0M176.4 176.6h0M179.4 171.8h0M177.9 169.9h0M72.4 143.7h0M185.6 174.8h0M191.1 174.2h0M107.7 155.5h0M64.6 131.0h0M213.5 167.1h0M126.3 155.3h0M126.5 154.6h0M93.3 111.5h0M178.2 175.1h0M130.8 176.4h0M103.1 165.9h0M126.6 172.8h0M110.7 145.4h0M119.1 169.5h0M126.9 158.3h0M123.8 154.7h0M131.8 176.8h0M180.7 164.4h0M123.7 158.3h0M200.0 163.6h0M65.5 123.9h0M207.8 165.6h0M70.3 134.5h0M185.8 162.5h0M221.5 162.4h0M178.1 169.6h0M81.5 134.7h0M98.7 147.4h0M106.2 150.8h0M77.6 154.3h0M108.3 170.7h0M203.9 138.9h0M93.6 142.1h0M109.8 148.6h0M104.7 132.3h0M102.9 160.8h0M211.5 159.1h0M181.8 168.6h0M180.8 172.0h0M192.5 170.8h0M96.1 166.6h0M209.7 159.4h0M178.8 176.8h0M98.4 143.2h0M65.2 136.8h0M216.7 129.3h0M183.2 160.7h0M129.7 175.9h0M199.1 158.0h0M184.7 176.1h0M183.2 169.3h0M175.7 177.7h0M128.2 162.0h0M227.6 147.2h0M120.8 174.0h0M110.9 170.9h0M89.6 127.2h0M218.8 138.6h0M129.6 175.4h0M181.9 169.0h0M105.9 153.0h0M198.4 170.4h0M108.3 143.0h0M112.0 173.3h0M117.4 147.9h0M199.7 137.3h0M110.7 162.9h0M187.0 175.4h0M213.7 95.1h0M108.9 134.6h0M179.9 165.4h0M188.4 169.4h0M117.3 162.3h0M209.7 138.1h0M194.3 160.7h0M109.6 159.8h0M187.6 157.7h0M176.4 173.4h0M99.5 152.0h0M181.9 169.9h0M129.1 168.4h0M179.4 167.0h0M122.5 172.9h0M186.9 161.0h0M114.3 154.5h0M119.5 160.5h0M187.3 163.3h0M119.2 166.6h0M94.3 151.9h0M115.7 170.3h0M114.2 151.2h0M186.2 159.9h0M196.0 169.9h0M127.5 177.0h0M197.4 154.7h0M194.5 173.4h0M189.7 160.9h0M196.8 153.4h0M126.6 155.1h0M201.0 164.3h0M188.9 173.4h0M211.5 131.5h0M178.2 167.4h0M197.9 141.5h0M99.4 167.5h0M192.6 148.4h0M67.0 129.0h0M111.5 157.4h0M103.8 143.2h0M184.0 169.2h0M107.3 172.5h0M179.5 170.0h0M224.0 142.0h0M130.8 177.6h0M85.2 142.1h0M234.0 84.3h0M178.6 173.8h0M180.5 169.9h0M187.1 167.7h0M194.3 145.7h0M186.9 165.7h0M197.3 167.6h0M127.0 167.4h0M207.4 167.3h0M79.1 152.2h0M188.7 153.3h0M59.4 116.8h0M108.9 170.9h0M177.9 171.4h0M98.4 159.4h0M191.9 158.5h0M176.6 173.3h0M115.4 141.6h0M116.6 136.0h0M124.2 172.5h0M208.3 154.8h0M94.6 123.3h0M112.0 126.5h0M124.6 151.8h0M113.9 139.0h0M104.4 166.0h0M214.8 111.3h0M188.2 169.7h0M185.4 168.3h0M181.2 172.1h0M178.6 174.6h0M176.7 178.3h0M194.0 146.7h0M201.0 165.6h0M202.4 171.3h0M194.4 159.1h0M182.3 170.6h0M190.0 158.1h0M114.2 144.9h0M179.2 177.6h0M130.1 172.9h0M75.4 151.3h0M233.2 127.5h0M182.7 174.9h0M130.6 177.7h0M216.2 113.6h0M82.0 129.2h0M126.8 164.1h0M127.5 175.1h0M127.7 172.6h0M216.2 112.9h0M205.7 166.0h0M178.4 173.5h0M181.8 176.0h0M55.9 104.4h0M73.1 117.0h0M83.8 88.7h0M94.1 89.8h0M103.3 77.2h0M109.2 121.2h0M231.1 21.0h0M235.8 23.8h0M234.2 30.5h0M213.6 59.6h0M215.2 64.6h0M213.6 81.4h0M218.4 82.0h0M239.0 83.1h0M205.7 93.2h0M210.5 92.6h0M232.7 93.2h0M226.3 98.2h0M232.7 103.3h0M210.5 108.3h0M216.8 106.1h0" stroke="#d4a060" stroke-width="1.6" stroke-linecap="round" opacity="0.9"/>
<path d="M139 169.5 L141 171 L143 173 L146 175 L149 178 L152 180 L155 181 L158 180.5 L162 179 L166 176 L169 172 L171.5 169.5 L171.5 182 L139 182 Z" fill="#e8262a"/>
<path d="M146 179.5 Q155 183.5 165 179.5 L166 182 L145 182 Z" fill="#111"/>
<rect x="138.5" y="167.2" width="33.3" height="15.9" fill="none" stroke="#9a9aa6" stroke-width="0.7"/>
<path d="M105.5 63.5 L138.5 167.2 M205 63.5 L171.8 167.2" stroke="#b4b4c8" stroke-width="0.6" fill="none"/>
<rect x="105.5" y="15.5" width="99.5" height="48" fill="#fff" stroke="#b0b0bc" stroke-width="0.7"/>
<path d="M106 26 L111 26 L113 30 L116.5 32 L114 35 L116 37.5 L127 37.5 L130 41 L134 45.5 L140 49 L145 52 L148 53.5 L156 55 L162 53.5 L166 51.5 L170 48.5 L176 44 L181 40 L186 37 L189 34 L192 32.5 L195 30.5 L197 26 L200 25 L202 28 L202 55.5 L106 55.5 Z" fill="#e8262a"/>
<circle cx="108.6" cy="25.2" r="2.6" fill="#e8262a"/>
<circle cx="114.2" cy="29.6" r="2.5" fill="#e8262a"/>
<circle cx="120.5" cy="37.6" r="1.6" fill="#e8262a"/>
<circle cx="125.5" cy="37.8" r="1.7" fill="#e8262a"/>
<circle cx="192.4" cy="31.0" r="2.3" fill="#e8262a"/>
<circle cx="198.2" cy="25.4" r="2.6" fill="#e8262a"/>
<circle cx="186" cy="36.5" r="1.5" fill="#e8262a"/>
<path d="M106 27.5 L108.8 27.5 L108.8 55 L106 55 Z" fill="#f2a62a"/>
<path d="M202 20.5 L204.6 20.5 L204.6 54 L202 54 Z" fill="#f2a62a"/>
<path d="M106 54.6 L125 55 L138 53.6 L143.5 51.6 L150 53.2 L156 53.8 L162 52.8 L166 51.8 L172 53.8 L190 54.3 L204.6 53.9 L204.6 55.7 L180 56.6 L156 58.0 L130 57.1 L106 56.3 Z" fill="#141414"/>
<rect x="35.5" y="15.5" width="231.5" height="171.5" fill="none" stroke="#7a7a7a" stroke-width="1.3"/>
<path d="M32.5 180.0H35.5" stroke="#7a7a7a" stroke-width="1"/>
<text x="30.5" y="182.9" font-size="8.3" text-anchor="end" fill="#333" stroke="#333" stroke-width="0.232" >0</text>
<path d="M32.5 152.0H35.5" stroke="#7a7a7a" stroke-width="1"/>
<text x="30.5" y="154.9" font-size="8.3" text-anchor="end" fill="#333" stroke="#333" stroke-width="0.232" >50</text>
<path d="M32.5 124.0H35.5" stroke="#7a7a7a" stroke-width="1"/>
<text x="30.5" y="126.9" font-size="8.3" text-anchor="end" fill="#333" stroke="#333" stroke-width="0.232" >100</text>
<path d="M32.5 96.0H35.5" stroke="#7a7a7a" stroke-width="1"/>
<text x="30.5" y="98.9" font-size="8.3" text-anchor="end" fill="#333" stroke="#333" stroke-width="0.232" >150</text>
<path d="M32.5 68.0H35.5" stroke="#7a7a7a" stroke-width="1"/>
<text x="30.5" y="70.9" font-size="8.3" text-anchor="end" fill="#333" stroke="#333" stroke-width="0.232" >200</text>
<path d="M32.5 40.0H35.5" stroke="#7a7a7a" stroke-width="1"/>
<text x="30.5" y="42.9" font-size="8.3" text-anchor="end" fill="#333" stroke="#333" stroke-width="0.232" >250</text>
<path d="M59.9 187V190.5" stroke="#7a7a7a" stroke-width="1"/>
<text x="59.9" y="198.5" font-size="8.3" text-anchor="middle" fill="#333" stroke="#333" stroke-width="0.232" >&#8722;6</text>
<path d="M91.6 187V190.5" stroke="#7a7a7a" stroke-width="1"/>
<text x="91.6" y="198.5" font-size="8.3" text-anchor="middle" fill="#333" stroke="#333" stroke-width="0.232" >&#8722;4</text>
<path d="M123.3 187V190.5" stroke="#7a7a7a" stroke-width="1"/>
<text x="123.3" y="198.5" font-size="8.3" text-anchor="middle" fill="#333" stroke="#333" stroke-width="0.232" >&#8722;2</text>
<path d="M155.0 187V190.5" stroke="#7a7a7a" stroke-width="1"/>
<text x="155.0" y="198.5" font-size="8.3" text-anchor="middle" fill="#333" stroke="#333" stroke-width="0.232" >0</text>
<path d="M186.7 187V190.5" stroke="#7a7a7a" stroke-width="1"/>
<text x="186.7" y="198.5" font-size="8.3" text-anchor="middle" fill="#333" stroke="#333" stroke-width="0.232" >2</text>
<path d="M218.4 187V190.5" stroke="#7a7a7a" stroke-width="1"/>
<text x="218.4" y="198.5" font-size="8.3" text-anchor="middle" fill="#333" stroke="#333" stroke-width="0.232" >4</text>
<path d="M250.1 187V190.5" stroke="#7a7a7a" stroke-width="1"/>
<text x="250.1" y="198.5" font-size="8.3" text-anchor="middle" fill="#333" stroke="#333" stroke-width="0.232" >6</text>
<text x="150.5" y="212.4" font-size="8.3" text-anchor="middle" fill="#333" stroke="#333" stroke-width="0.232" >&#8722;Log<tspan font-size="5.5" dy="2">2</tspan><tspan dy="-2"> (fold change)</tspan></text>
<g transform="translate(8,101) rotate(-90)"><text x="0.0" y="0.0" font-size="8.3" text-anchor="middle" fill="#333" stroke="#333" stroke-width="0.232" >&#8722;Log<tspan font-size="5.5" dy="2">10</tspan><tspan dy="-2">(</tspan><tspan font-style="italic">P</tspan>)</text></g>
<text x="131.0" y="36.1" font-size="7.3" text-anchor="start" fill="#30307c" stroke="#30307c" stroke-width="0.204" >Cdk6</text>
<text x="150.8" y="28.0" font-size="7.3" text-anchor="start" fill="#30307c" stroke="#30307c" stroke-width="0.204" >Meis1</text>
<text x="172.3" y="36.7" font-size="7.3" text-anchor="start" fill="#30307c" stroke="#30307c" stroke-width="0.204" >Gfi1</text>
<text x="131.5" y="72.7" font-size="7.3" text-anchor="start" fill="#30307c" stroke="#30307c" stroke-width="0.204" >Myb</text>
<text x="168.7" y="72.7" font-size="7.3" text-anchor="start" fill="#30307c" stroke="#30307c" stroke-width="0.204" >Hoxa7</text>
<text x="150.4" y="79.4" font-size="7.3" text-anchor="start" fill="#30307c" stroke="#30307c" stroke-width="0.204" >Hoxa9</text>
<text x="88.4" y="125.3" font-size="7.3" text-anchor="start" fill="#30307c" stroke="#30307c" stroke-width="0.204" >Eya1</text>
<text x="108.5" y="130.7" font-size="7.3" text-anchor="start" fill="#30307c" stroke="#30307c" stroke-width="0.204" >Hoxa10</text>
<text x="210.2" y="34.3" font-size="7.3" text-anchor="start" fill="#2f9a66" stroke="#2f9a66" stroke-width="0.204" >Ccnd2</text>
<text x="214.6" y="43.0" font-size="7.3" text-anchor="start" fill="#2f9a66" stroke="#2f9a66" stroke-width="0.204" >Ccnd3</text>
<text x="199.4" y="182.7" font-size="7.3" text-anchor="start" fill="#2f9a66" stroke="#2f9a66" stroke-width="0.204" >Ccnd1</text>
<path d="M141 38 L152 54 M160 29.5 L156 57 M176 39 L168 48 M137 66 L143 57.5 M156 72 L156 58 M173 66 L178 58 M97 127 L104 149 M121 132 L124 139 M210 43 L206 45" stroke="#a8a8c0" stroke-width="0.45" fill="none"/>
<circle cx="104.8" cy="150.3" r="1.1" fill="#2a2a9a"/><circle cx="123.8" cy="138.2" r="1" fill="#111"/><circle cx="124.5" cy="141" r="1" fill="#111"/><circle cx="156" cy="60.5" r="0.9" fill="#333"/>
<rect x="396.9" y="36.2" width="122.60000000000002" height="64.20" fill="#cfe0f1"/>
<path d="M276.8 15.20H520.0" stroke="#555" stroke-width="0.9"/>
<path d="M276.8 36.20H520.0" stroke="#555" stroke-width="0.9"/>
<path d="M276.8 52.25H520.0" stroke="#555" stroke-width="0.9"/>
<path d="M276.8 68.30H520.0" stroke="#555" stroke-width="0.9"/>
<path d="M276.8 84.35H520.0" stroke="#555" stroke-width="0.9"/>
<path d="M276.8 100.40H520.0" stroke="#555" stroke-width="0.9"/>
<path d="M276.8 116.45H520.0" stroke="#555" stroke-width="0.9"/>
<path d="M276.8 132.50H520.0" stroke="#555" stroke-width="0.9"/>
<path d="M276.8 148.55H520.0" stroke="#555" stroke-width="0.9"/>
<path d="M276.8 164.60H520.0" stroke="#555" stroke-width="0.9"/>
<path d="M276.8 180.65H520.0" stroke="#555" stroke-width="0.9"/>
<path d="M277.3 15.2V180.65" stroke="#555" stroke-width="0.9"/>
<path d="M308.8 15.2V180.65" stroke="#555" stroke-width="0.9"/>
<path d="M346.8 15.2V180.65" stroke="#555" stroke-width="0.9"/>
<path d="M396.9 15.2V180.65" stroke="#555" stroke-width="0.9"/>
<path d="M431.1 15.2V180.65" stroke="#555" stroke-width="0.9"/>
<path d="M469.8 15.2V180.65" stroke="#555" stroke-width="0.9"/>
<path d="M519.5 15.2V180.65" stroke="#555" stroke-width="0.9"/>
<g transform="translate(283.50,32.55) scale(0.9,1)"><text x="0.0" y="0.0" font-size="8.22" text-anchor="start" fill="#2a2a2a" stroke="#2a2a2a" stroke-width="0.23" >Gene</text></g>
<g transform="translate(404.40,32.55) scale(0.9,1)"><text x="0.0" y="0.0" font-size="8.22" text-anchor="start" fill="#2a2a2a" stroke="#2a2a2a" stroke-width="0.23" >Gene</text></g>
<g transform="translate(311.90,23.35) scale(0.9,1)"><text x="0.0" y="0.0" font-size="8.22" text-anchor="start" fill="#2a2a2a" stroke="#2a2a2a" stroke-width="0.23" >Log<tspan font-size="5" dy="1.5">2</tspan><tspan dy="-1.5"> (fold</tspan></text></g>
<g transform="translate(311.90,31.75) scale(0.9,1)"><text x="0.0" y="0.0" font-size="8.22" text-anchor="start" fill="#2a2a2a" stroke="#2a2a2a" stroke-width="0.23" >change)</text></g>
<g transform="translate(434.30,23.35) scale(0.9,1)"><text x="0.0" y="0.0" font-size="8.22" text-anchor="start" fill="#2a2a2a" stroke="#2a2a2a" stroke-width="0.23" >Log<tspan font-size="5" dy="1.5">2</tspan><tspan dy="-1.5"> (fold</tspan></text></g>
<g transform="translate(434.30,31.75) scale(0.9,1)"><text x="0.0" y="0.0" font-size="8.22" text-anchor="start" fill="#2a2a2a" stroke="#2a2a2a" stroke-width="0.23" >change)</text></g>
<g transform="translate(366.20,31.75) scale(0.9,1)"><text x="0.0" y="0.0" font-size="8.22" text-anchor="start" fill="#2a2a2a" stroke="#2a2a2a" stroke-width="0.23" ><tspan font-style="italic">P</tspan><tspan font-size="4.8" dy="2">adj</tspan></text></g>
<g transform="translate(488.00,31.75) scale(0.9,1)"><text x="0.0" y="0.0" font-size="8.22" text-anchor="start" fill="#2a2a2a" stroke="#2a2a2a" stroke-width="0.23" ><tspan font-style="italic">P</tspan><tspan font-size="4.8" dy="2">adj</tspan></text></g>
<g transform="translate(281.00,51.05) scale(0.9,1)"><text x="0.0" y="0.0" font-size="8.22" text-anchor="start" fill="#2a2a2a" stroke="#2a2a2a" stroke-width="0.23" font-style="italic">Tshz1</text></g>
<g transform="translate(327.70,51.05) scale(0.9,1)"><text x="0.0" y="0.0" font-size="8.22" text-anchor="middle" fill="#2a2a2a" stroke="#2a2a2a" stroke-width="0.23" >0.68</text></g>
<g transform="translate(353.50,51.05) scale(0.9,1)"><text x="0.0" y="0.0" font-size="8.22" text-anchor="start" fill="#2a2a2a" stroke="#2a2a2a" stroke-width="0.23" >4.30 &#215; 10<tspan font-size="5.2" dx="0.4" dy="-3">&#8722;9</tspan></text></g>
<g transform="translate(400.60,51.05) scale(0.9,1)"><text x="0.0" y="0.0" font-size="8.22" text-anchor="start" fill="#2a2a2a" stroke="#2a2a2a" stroke-width="0.23" font-weight="bold" font-style="italic">Eya1</text></g>
<g transform="translate(450.40,51.05) scale(0.9,1)"><text x="0.0" y="0.0" font-size="8.22" text-anchor="middle" fill="#2a2a2a" stroke="#2a2a2a" stroke-width="0.23" >&#8722;3.16</text></g>
<g transform="translate(474.00,51.05) scale(0.9,1)"><text x="0.0" y="0.0" font-size="8.22" text-anchor="start" fill="#2a2a2a" stroke="#2a2a2a" stroke-width="0.23" >1.88 &#215; 10<tspan font-size="5.2" dx="0.4" dy="-3">&#8722;50</tspan></text></g>
<g transform="translate(281.00,67.10) scale(0.9,1)"><text x="0.0" y="0.0" font-size="8.22" text-anchor="start" fill="#2a2a2a" stroke="#2a2a2a" stroke-width="0.23" font-style="italic">Rev1</text></g>
<g transform="translate(327.70,67.10) scale(0.9,1)"><text x="0.0" y="0.0" font-size="8.22" text-anchor="middle" fill="#2a2a2a" stroke="#2a2a2a" stroke-width="0.23" >0.63</text></g>
<g transform="translate(353.50,67.10) scale(0.9,1)"><text x="0.0" y="0.0" font-size="8.22" text-anchor="start" fill="#2a2a2a" stroke="#2a2a2a" stroke-width="0.23" >9.05 &#215; 10<tspan font-size="5.2" dx="0.4" dy="-3">&#8722;4</tspan></text></g>
<g transform="translate(400.60,67.10) scale(0.9,1)"><text x="0.0" y="0.0" font-size="8.22" text-anchor="start" fill="#2a2a2a" stroke="#2a2a2a" stroke-width="0.23" font-style="italic">Hoxa10</text></g>
<g transform="translate(450.40,67.10) scale(0.9,1)"><text x="0.0" y="0.0" font-size="8.22" text-anchor="middle" fill="#2a2a2a" stroke="#2a2a2a" stroke-width="0.23" >&#8722;1.95</text></g>
<g transform="translate(474.00,67.10) scale(0.9,1)"><text x="0.0" y="0.0" font-size="8.22" text-anchor="start" fill="#2a2a2a" stroke="#2a2a2a" stroke-width="0.23" >9.54 &#215; 10<tspan font-size="5.2" dx="0.4" dy="-3">&#8722;69</tspan></text></g>
<g transform="translate(281.00,83.15) scale(0.9,1)"><text x="0.0" y="0.0" font-size="8.22" text-anchor="start" fill="#2a2a2a" stroke="#2a2a2a" stroke-width="0.23" font-style="italic">Baz1a</text></g>
<g transform="translate(327.70,83.15) scale(0.9,1)"><text x="0.0" y="0.0" font-size="8.22" text-anchor="middle" fill="#2a2a2a" stroke="#2a2a2a" stroke-width="0.23" >0.58</text></g>
<g transform="translate(353.50,83.15) scale(0.9,1)"><text x="0.0" y="0.0" font-size="8.22" text-anchor="start" fill="#2a2a2a" stroke="#2a2a2a" stroke-width="0.23" >4.50 &#215; 10<tspan font-size="5.2" dx="0.4" dy="-3">&#8722;3</tspan></text></g>
<g transform="translate(400.60,83.15) scale(0.9,1)"><text x="0.0" y="0.0" font-size="8.22" text-anchor="start" fill="#2a2a2a" stroke="#2a2a2a" stroke-width="0.23" font-style="italic">Hpgd</text></g>
<g transform="translate(450.40,83.15) scale(0.9,1)"><text x="0.0" y="0.0" font-size="8.22" text-anchor="middle" fill="#2a2a2a" stroke="#2a2a2a" stroke-width="0.23" >&#8722;1.83</text></g>
<g transform="translate(474.00,83.15) scale(0.9,1)"><text x="0.0" y="0.0" font-size="8.22" text-anchor="start" fill="#2a2a2a" stroke="#2a2a2a" stroke-width="0.23" >7.79 &#215; 10<tspan font-size="5.2" dx="0.4" dy="-3">&#8722;47</tspan></text></g>
<g transform="translate(281.00,99.20) scale(0.9,1)"><text x="0.0" y="0.0" font-size="8.22" text-anchor="start" fill="#2a2a2a" stroke="#2a2a2a" stroke-width="0.23" font-style="italic">B4galt6</text></g>
<g transform="translate(327.70,99.20) scale(0.9,1)"><text x="0.0" y="0.0" font-size="8.22" text-anchor="middle" fill="#2a2a2a" stroke="#2a2a2a" stroke-width="0.23" >0.48</text></g>
<g transform="translate(353.50,99.20) scale(0.9,1)"><text x="0.0" y="0.0" font-size="8.22" text-anchor="start" fill="#2a2a2a" stroke="#2a2a2a" stroke-width="0.23" >2.54 &#215; 10<tspan font-size="5.2" dx="0.4" dy="-3">&#8722;3</tspan></text></g>
<g transform="translate(400.60,99.20) scale(0.9,1)"><text x="0.0" y="0.0" font-size="8.22" text-anchor="start" fill="#2a2a2a" stroke="#2a2a2a" stroke-width="0.23" font-style="italic">St8sia4</text></g>
<g transform="translate(450.40,99.20) scale(0.9,1)"><text x="0.0" y="0.0" font-size="8.22" text-anchor="middle" fill="#2a2a2a" stroke="#2a2a2a" stroke-width="0.23" >&#8722;1.06</text></g>
<g transform="translate(474.00,99.20) scale(0.9,1)"><text x="0.0" y="0.0" font-size="8.22" text-anchor="start" fill="#2a2a2a" stroke="#2a2a2a" stroke-width="0.23" >1.67 &#215; 10<tspan font-size="5.2" dx="0.4" dy="-3">&#8722;4</tspan></text></g>
<g transform="translate(281.00,115.25) scale(0.9,1)"><text x="0.0" y="0.0" font-size="8.22" text-anchor="start" fill="#2a2a2a" stroke="#2a2a2a" stroke-width="0.23" font-style="italic">Hoxa7</text></g>
<g transform="translate(327.70,115.25) scale(0.9,1)"><text x="0.0" y="0.0" font-size="8.22" text-anchor="middle" fill="#2a2a2a" stroke="#2a2a2a" stroke-width="0.23" >0.42</text></g>
<g transform="translate(353.50,115.25) scale(0.9,1)"><text x="0.0" y="0.0" font-size="8.22" text-anchor="start" fill="#2a2a2a" stroke="#2a2a2a" stroke-width="0.23" >3.11 &#215; 10<tspan font-size="5.2" dx="0.4" dy="-3">&#8722;3</tspan></text></g>
<g transform="translate(400.60,115.25) scale(0.9,1)"><text x="0.0" y="0.0" font-size="8.22" text-anchor="start" fill="#2a2a2a" stroke="#2a2a2a" stroke-width="0.23" font-style="italic">Arid1b</text></g>
<g transform="translate(450.40,115.25) scale(0.9,1)"><text x="0.0" y="0.0" font-size="8.22" text-anchor="middle" fill="#2a2a2a" stroke="#2a2a2a" stroke-width="0.23" >&#8722;0.63</text></g>
<g transform="translate(474.00,115.25) scale(0.9,1)"><text x="0.0" y="0.0" font-size="8.22" text-anchor="start" fill="#2a2a2a" stroke="#2a2a2a" stroke-width="0.23" >1.74 &#215; 10<tspan font-size="5.2" dx="0.4" dy="-3">&#8722;7</tspan></text></g>
<g transform="translate(281.00,131.30) scale(0.9,1)"><text x="0.0" y="0.0" font-size="8.22" text-anchor="start" fill="#2a2a2a" stroke="#2a2a2a" stroke-width="0.23" font-style="italic">Cytip</text></g>
<g transform="translate(327.70,131.30) scale(0.9,1)"><text x="0.0" y="0.0" font-size="8.22" text-anchor="middle" fill="#2a2a2a" stroke="#2a2a2a" stroke-width="0.23" >0.40</text></g>
<g transform="translate(353.50,131.30) scale(0.9,1)"><text x="0.0" y="0.0" font-size="8.22" text-anchor="start" fill="#2a2a2a" stroke="#2a2a2a" stroke-width="0.23" >1.35 &#215; 10<tspan font-size="5.2" dx="0.4" dy="-3">&#8722;3</tspan></text></g>
<g transform="translate(400.60,131.30) scale(0.9,1)"><text x="0.0" y="0.0" font-size="8.22" text-anchor="start" fill="#2a2a2a" stroke="#2a2a2a" stroke-width="0.23" font-style="italic">Cenpv</text></g>
<g transform="translate(450.40,131.30) scale(0.9,1)"><text x="0.0" y="0.0" font-size="8.22" text-anchor="middle" fill="#2a2a2a" stroke="#2a2a2a" stroke-width="0.23" >&#8722;0.59</text></g>
<g transform="translate(474.00,131.30) scale(0.9,1)"><text x="0.0" y="0.0" font-size="8.22" text-anchor="start" fill="#2a2a2a" stroke="#2a2a2a" stroke-width="0.23" >5.44 &#215; 10<tspan font-size="5.2" dx="0.4" dy="-3">&#8722;4</tspan></text></g>
<g transform="translate(281.00,147.35) scale(0.9,1)"><text x="0.0" y="0.0" font-size="8.22" text-anchor="start" fill="#2a2a2a" stroke="#2a2a2a" stroke-width="0.23" font-style="italic">Fbxl14</text></g>
<g transform="translate(327.70,147.35) scale(0.9,1)"><text x="0.0" y="0.0" font-size="8.22" text-anchor="middle" fill="#2a2a2a" stroke="#2a2a2a" stroke-width="0.23" >0.40</text></g>
<g transform="translate(353.50,147.35) scale(0.9,1)"><text x="0.0" y="0.0" font-size="8.22" text-anchor="start" fill="#2a2a2a" stroke="#2a2a2a" stroke-width="0.23" >1.61 &#215; 10<tspan font-size="5.2" dx="0.4" dy="-3">&#8722;2</tspan></text></g>
<g transform="translate(400.60,147.35) scale(0.9,1)"><text x="0.0" y="0.0" font-size="8.22" text-anchor="start" fill="#2a2a2a" stroke="#2a2a2a" stroke-width="0.23" font-style="italic">Myb</text></g>
<g transform="translate(450.40,147.35) scale(0.9,1)"><text x="0.0" y="0.0" font-size="8.22" text-anchor="middle" fill="#2a2a2a" stroke="#2a2a2a" stroke-width="0.23" >&#8722;0.33</text></g>
<g transform="translate(474.00,147.35) scale(0.9,1)"><text x="0.0" y="0.0" font-size="8.22" text-anchor="start" fill="#2a2a2a" stroke="#2a2a2a" stroke-width="0.23" >4.65 &#215; 10<tspan font-size="5.2" dx="0.4" dy="-3">&#8722;2</tspan></text></g>
<g transform="translate(281.00,163.40) scale(0.9,1)"><text x="0.0" y="0.0" font-size="8.22" text-anchor="start" fill="#2a2a2a" stroke="#2a2a2a" stroke-width="0.23" font-style="italic">Med13l</text></g>
<g transform="translate(327.70,163.40) scale(0.9,1)"><text x="0.0" y="0.0" font-size="8.22" text-anchor="middle" fill="#2a2a2a" stroke="#2a2a2a" stroke-width="0.23" >0.35</text></g>
<g transform="translate(353.50,163.40) scale(0.9,1)"><text x="0.0" y="0.0" font-size="8.22" text-anchor="start" fill="#2a2a2a" stroke="#2a2a2a" stroke-width="0.23" >1.98 &#215; 10<tspan font-size="5.2" dx="0.4" dy="-3">&#8722;2</tspan></text></g>
<g transform="translate(400.60,163.40) scale(0.9,1)"><text x="0.0" y="0.0" font-size="8.22" text-anchor="start" fill="#2a2a2a" stroke="#2a2a2a" stroke-width="0.23" font-style="italic">Sesn1</text></g>
<g transform="translate(450.40,163.40) scale(0.9,1)"><text x="0.0" y="0.0" font-size="8.22" text-anchor="middle" fill="#2a2a2a" stroke="#2a2a2a" stroke-width="0.23" >&#8722;0.33</text></g>
<g transform="translate(474.00,163.40) scale(0.9,1)"><text x="0.0" y="0.0" font-size="8.22" text-anchor="start" fill="#2a2a2a" stroke="#2a2a2a" stroke-width="0.23" >4.27 &#215; 10<tspan font-size="5.2" dx="0.4" dy="-3">&#8722;2</tspan></text></g>
<g transform="translate(281.00,179.45) scale(0.9,1)"><text x="0.0" y="0.0" font-size="8.22" text-anchor="start" fill="#2a2a2a" stroke="#2a2a2a" stroke-width="0.23" font-style="italic">Gfi1</text></g>
<g transform="translate(327.70,179.45) scale(0.9,1)"><text x="0.0" y="0.0" font-size="8.22" text-anchor="middle" fill="#2a2a2a" stroke="#2a2a2a" stroke-width="0.23" >0.32</text></g>
<g transform="translate(353.50,179.45) scale(0.9,1)"><text x="0.0" y="0.0" font-size="8.22" text-anchor="start" fill="#2a2a2a" stroke="#2a2a2a" stroke-width="0.23" >2.26 &#215; 10<tspan font-size="5.2" dx="0.4" dy="-3">&#8722;2</tspan></text></g>
<g transform="translate(400.60,179.45) scale(0.9,1)"><text x="0.0" y="0.0" font-size="8.22" text-anchor="start" fill="#2a2a2a" stroke="#2a2a2a" stroke-width="0.23" font-weight="bold" font-style="italic">Six1</text></g>
<g transform="translate(450.40,179.45) scale(0.9,1)"><text x="0.0" y="0.0" font-size="8.22" text-anchor="middle" fill="#2a2a2a" stroke="#2a2a2a" stroke-width="0.23" >&#8722;0.33</text></g>
<g transform="translate(474.00,179.45) scale(0.9,1)"><text x="0.0" y="0.0" font-size="8.22" text-anchor="start" fill="#2a2a2a" stroke="#2a2a2a" stroke-width="0.23" >5.58 &#215; 10<tspan font-size="5.2" dx="0.4" dy="-3">&#8722;3</tspan></text></g>
<text x="0.8" y="248.9" font-size="11" text-anchor="start" fill="#222" font-weight="bold">B</text>
<text x="57.1" y="250.2" font-size="8.6" text-anchor="start" fill="#222" stroke="#222" stroke-width="0.241" >MLL-AF9 WT</text>
<text x="131.0" y="250.3" font-size="8.6" text-anchor="start" fill="#222" stroke="#222" stroke-width="0.241" >MLL-AF9 E531R</text>
<path d="M47 254.3H121.7M128.3 254.3H203" stroke="#222" stroke-width="0.9"/>
<text x="57.0" y="264.5" font-size="7.8" text-anchor="middle" fill="#222" stroke="#222" stroke-width="0.218" >#1</text>
<text x="84.0" y="264.5" font-size="7.8" text-anchor="middle" fill="#222" stroke="#222" stroke-width="0.218" >#2</text>
<text x="111.6" y="264.5" font-size="7.8" text-anchor="middle" fill="#222" stroke="#222" stroke-width="0.218" >#3</text>
<text x="138.7" y="264.5" font-size="7.8" text-anchor="middle" fill="#222" stroke="#222" stroke-width="0.218" >#1</text>
<text x="164.7" y="264.5" font-size="7.8" text-anchor="middle" fill="#222" stroke="#222" stroke-width="0.218" >#2</text>
<text x="192.9" y="264.5" font-size="7.8" text-anchor="middle" fill="#222" stroke="#222" stroke-width="0.218" >#3</text>
<g shape-rendering="crispEdges">
<rect x="44" y="268" width="27.0" height="1" fill="#3a51a9"/>
<rect x="71" y="268" width="27.0" height="1" fill="#3a51a9"/>
<rect x="98" y="268" width="27.6" height="1" fill="#3852aa"/>
<rect x="125.6" y="268" width="27.4" height="1" fill="#df1e2b"/>
<rect x="153" y="268" width="27.0" height="1" fill="#de1e2c"/>
<rect x="180" y="268" width="26.5" height="1" fill="#e01e2a"/>
<rect x="44" y="269" width="27.0" height="1" fill="#3852aa"/>
<rect x="71" y="269" width="27.0" height="1" fill="#3951aa"/>
<rect x="98" y="269" width="27.6" height="1" fill="#3852aa"/>
<rect x="125.6" y="269" width="27.4" height="1" fill="#e01e2a"/>
<rect x="153" y="269" width="27.0" height="1" fill="#e01e2a"/>
<rect x="180" y="269" width="26.5" height="1" fill="#e01e2a"/>
<rect x="44" y="270" width="27.0" height="1" fill="#3852aa"/>
<rect x="71" y="270" width="27.0" height="1" fill="#3852aa"/>
<rect x="98" y="270" width="27.6" height="1" fill="#3952aa"/>
<rect x="125.6" y="270" width="27.4" height="1" fill="#de1e2c"/>
<rect x="153" y="270" width="27.0" height="1" fill="#de1e2c"/>
<rect x="180" y="270" width="26.5" height="1" fill="#e01e2a"/>
<rect x="44" y="271" width="27.0" height="1" fill="#3852aa"/>
<rect x="71" y="271" width="27.0" height="1" fill="#3852aa"/>
<rect x="98" y="271" width="27.6" height="1" fill="#3852aa"/>
<rect x="125.6" y="271" width="27.4" height="1" fill="#dc1f2e"/>
<rect x="153" y="271" width="27.0" height="1" fill="#d82032"/>
<rect x="180" y="271" width="26.5" height="1" fill="#dc1f2e"/>
<rect x="44" y="272" width="27.0" height="1" fill="#3852aa"/>
<rect x="71" y="272" width="27.0" height="1" fill="#3852aa"/>
<rect x="98" y="272" width="27.6" height="1" fill="#3852aa"/>
<rect x="125.6" y="272" width="27.4" height="1" fill="#df1e2a"/>
<rect x="153" y="272" width="27.0" height="1" fill="#dc1f2e"/>
<rect x="180" y="272" width="26.5" height="1" fill="#da1f30"/>
<rect x="44" y="273" width="27.0" height="1" fill="#3852aa"/>
<rect x="71" y="273" width="27.0" height="1" fill="#3852aa"/>
<rect x="98" y="273" width="27.6" height="1" fill="#3852aa"/>
<rect x="125.6" y="273" width="27.4" height="1" fill="#de1e2c"/>
<rect x="153" y="273" width="27.0" height="1" fill="#e01e2a"/>
<rect x="180" y="273" width="26.5" height="1" fill="#dc1f2e"/>
<rect x="44" y="274" width="27.0" height="1" fill="#3852aa"/>
<rect x="71" y="274" width="27.0" height="1" fill="#3852aa"/>
<rect x="98" y="274" width="27.6" height="1" fill="#3852aa"/>
<rect x="125.6" y="274" width="27.4" height="1" fill="#d52034"/>
<rect x="153" y="274" width="27.0" height="1" fill="#d72032"/>
<rect x="180" y="274" width="26.5" height="1" fill="#d72032"/>
<rect x="44" y="275" width="27.0" height="1" fill="#3852aa"/>
<rect x="71" y="275" width="27.0" height="1" fill="#3852aa"/>
<rect x="98" y="275" width="27.6" height="1" fill="#3852aa"/>
<rect x="125.6" y="275" width="27.4" height="1" fill="#d72033"/>
<rect x="153" y="275" width="27.0" height="1" fill="#df1e2b"/>
<rect x="180" y="275" width="26.5" height="1" fill="#dd1f2d"/>
<rect x="44" y="276" width="27.0" height="1" fill="#3d4fa8"/>
<rect x="71" y="276" width="27.0" height="1" fill="#3e4ea8"/>
<rect x="98" y="276" width="27.6" height="1" fill="#3a51a9"/>
<rect x="125.6" y="276" width="27.4" height="1" fill="#e01e2a"/>
<rect x="153" y="276" width="27.0" height="1" fill="#e01e2a"/>
<rect x="180" y="276" width="26.5" height="1" fill="#dc1f2e"/>
<rect x="44" y="277" width="27.0" height="1" fill="#3e4fa8"/>
<rect x="71" y="277" width="27.0" height="1" fill="#3c4fa9"/>
<rect x="98" y="277" width="27.6" height="1" fill="#3d4fa9"/>
<rect x="125.6" y="277" width="27.4" height="1" fill="#e01e2a"/>
<rect x="153" y="277" width="27.0" height="1" fill="#e01e2a"/>
<rect x="180" y="277" width="26.5" height="1" fill="#e01e2a"/>
<rect x="44" y="278" width="27.0" height="1" fill="#3852aa"/>
<rect x="71" y="278" width="27.0" height="1" fill="#3852aa"/>
<rect x="98" y="278" width="27.6" height="1" fill="#3852aa"/>
<rect x="125.6" y="278" width="27.4" height="1" fill="#d62033"/>
<rect x="153" y="278" width="27.0" height="1" fill="#dc1f2e"/>
<rect x="180" y="278" width="26.5" height="1" fill="#db1f2f"/>
<rect x="44" y="279" width="27.0" height="1" fill="#3852aa"/>
<rect x="71" y="279" width="27.0" height="1" fill="#3852aa"/>
<rect x="98" y="279" width="27.6" height="1" fill="#3852aa"/>
<rect x="125.6" y="279" width="27.4" height="1" fill="#de1e2c"/>
<rect x="153" y="279" width="27.0" height="1" fill="#d22137"/>
<rect x="180" y="279" width="26.5" height="1" fill="#dc1f2e"/>
<rect x="44" y="280" width="27.0" height="1" fill="#3d4fa9"/>
<rect x="71" y="280" width="27.0" height="1" fill="#3b50a9"/>
<rect x="98" y="280" width="27.6" height="1" fill="#3e4ea8"/>
<rect x="125.6" y="280" width="27.4" height="1" fill="#db1f2f"/>
<rect x="153" y="280" width="27.0" height="1" fill="#e01e2a"/>
<rect x="180" y="280" width="26.5" height="1" fill="#e01e2a"/>
<rect x="44" y="281" width="27.0" height="1" fill="#3b50a9"/>
<rect x="71" y="281" width="27.0" height="1" fill="#3d4fa9"/>
<rect x="98" y="281" width="27.6" height="1" fill="#3a51a9"/>
<rect x="125.6" y="281" width="27.4" height="1" fill="#e01e2a"/>
<rect x="153" y="281" width="27.0" height="1" fill="#e01e2a"/>
<rect x="180" y="281" width="26.5" height="1" fill="#e01e2a"/>
<rect x="44" y="282" width="27.0" height="1" fill="#3852aa"/>
<rect x="71" y="282" width="27.0" height="1" fill="#3852aa"/>
<rect x="98" y="282" width="27.6" height="1" fill="#3852aa"/>
<rect x="125.6" y="282" width="27.4" height="1" fill="#d32037"/>
<rect x="153" y="282" width="27.0" height="1" fill="#cf213a"/>
<rect x="180" y="282" width="26.5" height="1" fill="#d42036"/>
<rect x="44" y="283" width="27.0" height="1" fill="#3852aa"/>
<rect x="71" y="283" width="27.0" height="1" fill="#3852aa"/>
<rect x="98" y="283" width="27.6" height="1" fill="#3852aa"/>
<rect x="125.6" y="283" width="27.4" height="1" fill="#d22137"/>
<rect x="153" y="283" width="27.0" height="1" fill="#d22037"/>
<rect x="180" y="283" width="26.5" height="1" fill="#d22137"/>
<rect x="44" y="284" width="27.0" height="1" fill="#3a51aa"/>
<rect x="71" y="284" width="27.0" height="1" fill="#3a51a9"/>
<rect x="98" y="284" width="27.6" height="1" fill="#3b50a9"/>
<rect x="125.6" y="284" width="27.4" height="1" fill="#d91f31"/>
<rect x="153" y="284" width="27.0" height="1" fill="#d52034"/>
<rect x="180" y="284" width="26.5" height="1" fill="#e01e2a"/>
<rect x="44" y="285" width="27.0" height="1" fill="#3d4fa9"/>
<rect x="71" y="285" width="27.0" height="1" fill="#3e4ea8"/>
<rect x="98" y="285" width="27.6" height="1" fill="#3a51a9"/>
<rect x="125.6" y="285" width="27.4" height="1" fill="#d82032"/>
<rect x="153" y="285" width="27.0" height="1" fill="#d52035"/>
<rect x="180" y="285" width="26.5" height="1" fill="#e01e2a"/>
<rect x="44" y="286" width="27.0" height="1" fill="#4848a5"/>
<rect x="71" y="286" width="27.0" height="1" fill="#4848a5"/>
<rect x="98" y="286" width="27.6" height="1" fill="#4848a5"/>
<rect x="125.6" y="286" width="27.4" height="1" fill="#e01e2a"/>
<rect x="153" y="286" width="27.0" height="1" fill="#e01e2a"/>
<rect x="180" y="286" width="26.5" height="1" fill="#e01e2a"/>
<rect x="44" y="287" width="27.0" height="1" fill="#4a47a5"/>
<rect x="71" y="287" width="27.0" height="1" fill="#4b46a5"/>
<rect x="98" y="287" width="27.6" height="1" fill="#4848a5"/>
<rect x="125.6" y="287" width="27.4" height="1" fill="#e01e2a"/>
<rect x="153" y="287" width="27.0" height="1" fill="#e01e2a"/>
<rect x="180" y="287" width="26.5" height="1" fill="#e01e2a"/>
<rect x="44" y="288" width="27.0" height="1" fill="#3852aa"/>
<rect x="71" y="288" width="27.0" height="1" fill="#3852aa"/>
<rect x="98" y="288" width="27.6" height="1" fill="#3852aa"/>
<rect x="125.6" y="288" width="27.4" height="1" fill="#cf213b"/>
<rect x="153" y="288" width="27.0" height="1" fill="#cf213a"/>
<rect x="180" y="288" width="26.5" height="1" fill="#d42036"/>
<rect x="44" y="289" width="27.0" height="1" fill="#3852aa"/>
<rect x="71" y="289" width="27.0" height="1" fill="#3852aa"/>
<rect x="98" y="289" width="27.6" height="1" fill="#3852aa"/>
<rect x="125.6" y="289" width="27.4" height="1" fill="#ca223f"/>
<rect x="153" y="289" width="27.0" height="1" fill="#ca223f"/>
<rect x="180" y="289" width="26.5" height="1" fill="#cd223c"/>
<rect x="44" y="290" width="27.0" height="1" fill="#3952aa"/>
<rect x="71" y="290" width="27.0" height="1" fill="#3852aa"/>
<rect x="98" y="290" width="27.6" height="1" fill="#3852aa"/>
<rect x="125.6" y="290" width="27.4" height="1" fill="#d02139"/>
<rect x="153" y="290" width="27.0" height="1" fill="#cc223d"/>
<rect x="180" y="290" width="26.5" height="1" fill="#d42035"/>
<rect x="44" y="291" width="27.0" height="1" fill="#3a51a9"/>
<rect x="71" y="291" width="27.0" height="1" fill="#3b50a9"/>
<rect x="98" y="291" width="27.6" height="1" fill="#3852aa"/>
<rect x="125.6" y="291" width="27.4" height="1" fill="#cf213a"/>
<rect x="153" y="291" width="27.0" height="1" fill="#d0213a"/>
<rect x="180" y="291" width="26.5" height="1" fill="#db1f2f"/>
<rect x="44" y="292" width="27.0" height="1" fill="#4649a6"/>
<rect x="71" y="292" width="27.0" height="1" fill="#464aa6"/>
<rect x="98" y="292" width="27.6" height="1" fill="#404da8"/>
<rect x="125.6" y="292" width="27.4" height="1" fill="#de1e2c"/>
<rect x="153" y="292" width="27.0" height="1" fill="#df1e2b"/>
<rect x="180" y="292" width="26.5" height="1" fill="#e01e2a"/>
<rect x="44" y="293" width="27.0" height="1" fill="#454aa6"/>
<rect x="71" y="293" width="27.0" height="1" fill="#434ba7"/>
<rect x="98" y="293" width="27.6" height="1" fill="#414ca7"/>
<rect x="125.6" y="293" width="27.4" height="1" fill="#d62033"/>
<rect x="153" y="293" width="27.0" height="1" fill="#dc1f2e"/>
<rect x="180" y="293" width="26.5" height="1" fill="#dc1f2e"/>
<rect x="44" y="294" width="27.0" height="1" fill="#414da7"/>
<rect x="71" y="294" width="27.0" height="1" fill="#414ca7"/>
<rect x="98" y="294" width="27.6" height="1" fill="#404da8"/>
<rect x="125.6" y="294" width="27.4" height="1" fill="#d91f31"/>
<rect x="153" y="294" width="27.0" height="1" fill="#da1f30"/>
<rect x="180" y="294" width="26.5" height="1" fill="#db1f2f"/>
<rect x="44" y="295" width="27.0" height="1" fill="#414ca7"/>
<rect x="71" y="295" width="27.0" height="1" fill="#414da8"/>
<rect x="98" y="295" width="27.6" height="1" fill="#3e4ea8"/>
<rect x="125.6" y="295" width="27.4" height="1" fill="#d81f31"/>
<rect x="153" y="295" width="27.0" height="1" fill="#d81f31"/>
<rect x="180" y="295" width="26.5" height="1" fill="#dc1f2e"/>
<rect x="44" y="296" width="27.0" height="1" fill="#3d4fa9"/>
<rect x="71" y="296" width="27.0" height="1" fill="#3951aa"/>
<rect x="98" y="296" width="27.6" height="1" fill="#3852aa"/>
<rect x="125.6" y="296" width="27.4" height="1" fill="#cd213c"/>
<rect x="153" y="296" width="27.0" height="1" fill="#cd213c"/>
<rect x="180" y="296" width="26.5" height="1" fill="#d22137"/>
<rect x="44" y="297" width="27.0" height="1" fill="#3b50a9"/>
<rect x="71" y="297" width="27.0" height="1" fill="#3951aa"/>
<rect x="98" y="297" width="27.6" height="1" fill="#3852aa"/>
<rect x="125.6" y="297" width="27.4" height="1" fill="#d22137"/>
<rect x="153" y="297" width="27.0" height="1" fill="#cf213a"/>
<rect x="180" y="297" width="26.5" height="1" fill="#cd223c"/>
<rect x="44" y="298" width="27.0" height="1" fill="#414da7"/>
<rect x="71" y="298" width="27.0" height="1" fill="#444aa6"/>
<rect x="98" y="298" width="27.6" height="1" fill="#3d4fa9"/>
<rect x="125.6" y="298" width="27.4" height="1" fill="#d72033"/>
<rect x="153" y="298" width="27.0" height="1" fill="#d81f31"/>
<rect x="180" y="298" width="26.5" height="1" fill="#d32036"/>
<rect x="44" y="299" width="27.0" height="1" fill="#444ba7"/>
<rect x="71" y="299" width="27.0" height="1" fill="#434ba7"/>
<rect x="98" y="299" width="27.6" height="1" fill="#404da8"/>
<rect x="125.6" y="299" width="27.4" height="1" fill="#d52034"/>
<rect x="153" y="299" width="27.0" height="1" fill="#d91f30"/>
<rect x="180" y="299" width="26.5" height="1" fill="#d91f31"/>
<rect x="44" y="300" width="27.0" height="1" fill="#454aa6"/>
<rect x="71" y="300" width="27.0" height="1" fill="#454aa6"/>
<rect x="98" y="300" width="27.6" height="1" fill="#404da8"/>
<rect x="125.6" y="300" width="27.4" height="1" fill="#d91f31"/>
<rect x="153" y="300" width="27.0" height="1" fill="#d62034"/>
<rect x="180" y="300" width="26.5" height="1" fill="#d62034"/>
<rect x="44" y="301" width="27.0" height="1" fill="#4649a6"/>
<rect x="71" y="301" width="27.0" height="1" fill="#4749a6"/>
<rect x="98" y="301" width="27.6" height="1" fill="#434ba7"/>
<rect x="125.6" y="301" width="27.4" height="1" fill="#d42036"/>
<rect x="153" y="301" width="27.0" height="1" fill="#d91f30"/>
<rect x="180" y="301" width="26.5" height="1" fill="#d82032"/>
<rect x="44" y="302" width="27.0" height="1" fill="#444aa6"/>
<rect x="71" y="302" width="27.0" height="1" fill="#3f4da8"/>
<rect x="98" y="302" width="27.6" height="1" fill="#414da8"/>
<rect x="125.6" y="302" width="27.4" height="1" fill="#cf213b"/>
<rect x="153" y="302" width="27.0" height="1" fill="#d12138"/>
<rect x="180" y="302" width="26.5" height="1" fill="#d12138"/>
<rect x="44" y="303" width="27.0" height="1" fill="#434ba7"/>
<rect x="71" y="303" width="27.0" height="1" fill="#424ca7"/>
<rect x="98" y="303" width="27.6" height="1" fill="#424ca7"/>
<rect x="125.6" y="303" width="27.4" height="1" fill="#d82032"/>
<rect x="153" y="303" width="27.0" height="1" fill="#d32036"/>
<rect x="180" y="303" width="26.5" height="1" fill="#da1f30"/>
<rect x="44" y="304" width="27.0" height="1" fill="#424ca7"/>
<rect x="71" y="304" width="27.0" height="1" fill="#434ba7"/>
<rect x="98" y="304" width="27.6" height="1" fill="#414ca7"/>
<rect x="125.6" y="304" width="27.4" height="1" fill="#cf213a"/>
<rect x="153" y="304" width="27.0" height="1" fill="#d32036"/>
<rect x="180" y="304" width="26.5" height="1" fill="#d72033"/>
<rect x="44" y="305" width="27.0" height="1" fill="#444aa6"/>
<rect x="71" y="305" width="27.0" height="1" fill="#424ca7"/>
<rect x="98" y="305" width="27.6" height="1" fill="#414da7"/>
<rect x="125.6" y="305" width="27.4" height="1" fill="#cf213a"/>
<rect x="153" y="305" width="27.0" height="1" fill="#d02139"/>
<rect x="180" y="305" width="26.5" height="1" fill="#d81f32"/>
<rect x="44" y="306" width="27.0" height="1" fill="#4f44a3"/>
<rect x="71" y="306" width="27.0" height="1" fill="#4f44a3"/>
<rect x="98" y="306" width="27.6" height="1" fill="#4c45a4"/>
<rect x="125.6" y="306" width="27.4" height="1" fill="#de1e2c"/>
<rect x="153" y="306" width="27.0" height="1" fill="#e01e2a"/>
<rect x="180" y="306" width="26.5" height="1" fill="#de1e2b"/>
<rect x="44" y="307" width="27.0" height="1" fill="#5142a3"/>
<rect x="71" y="307" width="27.0" height="1" fill="#5142a3"/>
<rect x="98" y="307" width="27.6" height="1" fill="#4d45a4"/>
<rect x="125.6" y="307" width="27.4" height="1" fill="#d91f31"/>
<rect x="153" y="307" width="27.0" height="1" fill="#df1e2b"/>
<rect x="180" y="307" width="26.5" height="1" fill="#e01e2a"/>
<rect x="44" y="308" width="27.0" height="1" fill="#4947a5"/>
<rect x="71" y="308" width="27.0" height="1" fill="#4a46a5"/>
<rect x="98" y="308" width="27.6" height="1" fill="#434ba7"/>
<rect x="125.6" y="308" width="27.4" height="1" fill="#d42035"/>
<rect x="153" y="308" width="27.0" height="1" fill="#d42035"/>
<rect x="180" y="308" width="26.5" height="1" fill="#d32037"/>
<rect x="44" y="309" width="27.0" height="1" fill="#4c45a4"/>
<rect x="71" y="309" width="27.0" height="1" fill="#4947a5"/>
<rect x="98" y="309" width="27.6" height="1" fill="#444aa6"/>
<rect x="125.6" y="309" width="27.4" height="1" fill="#d42035"/>
<rect x="153" y="309" width="27.0" height="1" fill="#d22137"/>
<rect x="180" y="309" width="26.5" height="1" fill="#d02139"/>
<rect x="44" y="310" width="27.0" height="1" fill="#4649a6"/>
<rect x="71" y="310" width="27.0" height="1" fill="#454aa6"/>
<rect x="98" y="310" width="27.6" height="1" fill="#414ca7"/>
<rect x="125.6" y="310" width="27.4" height="1" fill="#cb223e"/>
<rect x="153" y="310" width="27.0" height="1" fill="#ce213b"/>
<rect x="180" y="310" width="26.5" height="1" fill="#cf213a"/>
<rect x="44" y="311" width="27.0" height="1" fill="#4848a5"/>
<rect x="71" y="311" width="27.0" height="1" fill="#454aa6"/>
<rect x="98" y="311" width="27.6" height="1" fill="#424ca7"/>
<rect x="125.6" y="311" width="27.4" height="1" fill="#cc223d"/>
<rect x="153" y="311" width="27.0" height="1" fill="#c82240"/>
<rect x="180" y="311" width="26.5" height="1" fill="#cd223c"/>
<rect x="44" y="312" width="27.0" height="1" fill="#5242a2"/>
<rect x="71" y="312" width="27.0" height="1" fill="#5043a3"/>
<rect x="98" y="312" width="27.6" height="1" fill="#4d45a4"/>
<rect x="125.6" y="312" width="27.4" height="1" fill="#d52034"/>
<rect x="153" y="312" width="27.0" height="1" fill="#da1f30"/>
<rect x="180" y="312" width="26.5" height="1" fill="#da1f30"/>
<rect x="44" y="313" width="27.0" height="1" fill="#5341a2"/>
<rect x="71" y="313" width="27.0" height="1" fill="#4e44a3"/>
<rect x="98" y="313" width="27.6" height="1" fill="#4f44a3"/>
<rect x="125.6" y="313" width="27.4" height="1" fill="#d52035"/>
<rect x="153" y="313" width="27.0" height="1" fill="#d32036"/>
<rect x="180" y="313" width="26.5" height="1" fill="#db1f2f"/>
<rect x="44" y="314" width="27.0" height="1" fill="#4a47a5"/>
<rect x="71" y="314" width="27.0" height="1" fill="#4649a6"/>
<rect x="98" y="314" width="27.6" height="1" fill="#454aa6"/>
<rect x="125.6" y="314" width="27.4" height="1" fill="#d81f32"/>
<rect x="153" y="314" width="27.0" height="1" fill="#c82241"/>
<rect x="180" y="314" width="26.5" height="1" fill="#d12138"/>
<rect x="44" y="315" width="27.0" height="1" fill="#4a47a5"/>
<rect x="71" y="315" width="27.0" height="1" fill="#4947a5"/>
<rect x="98" y="315" width="27.6" height="1" fill="#424ba7"/>
<rect x="125.6" y="315" width="27.4" height="1" fill="#c62343"/>
<rect x="153" y="315" width="27.0" height="1" fill="#ce213b"/>
<rect x="180" y="315" width="26.5" height="1" fill="#d0213a"/>
<rect x="44" y="316" width="27.0" height="1" fill="#5441a2"/>
<rect x="71" y="316" width="27.0" height="1" fill="#5341a2"/>
<rect x="98" y="316" width="27.6" height="1" fill="#5341a2"/>
<rect x="125.6" y="316" width="27.4" height="1" fill="#d32036"/>
<rect x="153" y="316" width="27.0" height="1" fill="#d52035"/>
<rect x="180" y="316" width="26.5" height="1" fill="#db1f2e"/>
<rect x="44" y="317" width="27.0" height="1" fill="#5540a1"/>
<rect x="71" y="317" width="27.0" height="1" fill="#5540a2"/>
<rect x="98" y="317" width="27.6" height="1" fill="#5043a3"/>
<rect x="125.6" y="317" width="27.4" height="1" fill="#d32037"/>
<rect x="153" y="317" width="27.0" height="1" fill="#d81f31"/>
<rect x="180" y="317" width="26.5" height="1" fill="#e01e2a"/>
<rect x="44" y="318" width="27.0" height="1" fill="#5043a3"/>
<rect x="71" y="318" width="27.0" height="1" fill="#5242a2"/>
<rect x="98" y="318" width="27.6" height="1" fill="#4d45a4"/>
<rect x="125.6" y="318" width="27.4" height="1" fill="#d52035"/>
<rect x="153" y="318" width="27.0" height="1" fill="#d42035"/>
<rect x="180" y="318" width="26.5" height="1" fill="#df1e2b"/>
<rect x="44" y="319" width="27.0" height="1" fill="#563fa1"/>
<rect x="71" y="319" width="27.0" height="1" fill="#5440a2"/>
<rect x="98" y="319" width="27.6" height="1" fill="#4f43a3"/>
<rect x="125.6" y="319" width="27.4" height="1" fill="#d22137"/>
<rect x="153" y="319" width="27.0" height="1" fill="#d52034"/>
<rect x="180" y="319" width="26.5" height="1" fill="#dd1f2d"/>
<rect x="44" y="320" width="27.0" height="1" fill="#5242a3"/>
<rect x="71" y="320" width="27.0" height="1" fill="#5242a2"/>
<rect x="98" y="320" width="27.6" height="1" fill="#4c45a4"/>
<rect x="125.6" y="320" width="27.4" height="1" fill="#cd223c"/>
<rect x="153" y="320" width="27.0" height="1" fill="#cc223d"/>
<rect x="180" y="320" width="26.5" height="1" fill="#d12138"/>
<rect x="44" y="321" width="27.0" height="1" fill="#5242a2"/>
<rect x="71" y="321" width="27.0" height="1" fill="#4c45a4"/>
<rect x="98" y="321" width="27.6" height="1" fill="#4e44a4"/>
<rect x="125.6" y="321" width="27.4" height="1" fill="#cf213b"/>
<rect x="153" y="321" width="27.0" height="1" fill="#ce213b"/>
<rect x="180" y="321" width="26.5" height="1" fill="#d72033"/>
<rect x="44" y="322" width="27.0" height="1" fill="#5441a2"/>
<rect x="71" y="322" width="27.0" height="1" fill="#4d45a4"/>
<rect x="98" y="322" width="27.6" height="1" fill="#4c45a4"/>
<rect x="125.6" y="322" width="27.4" height="1" fill="#cd213c"/>
<rect x="153" y="322" width="27.0" height="1" fill="#d42036"/>
<rect x="180" y="322" width="26.5" height="1" fill="#d81f31"/>
<rect x="44" y="323" width="27.0" height="1" fill="#563fa1"/>
<rect x="71" y="323" width="27.0" height="1" fill="#5043a3"/>
<rect x="98" y="323" width="27.6" height="1" fill="#4a47a5"/>
<rect x="125.6" y="323" width="27.4" height="1" fill="#cd213c"/>
<rect x="153" y="323" width="27.0" height="1" fill="#cd213c"/>
<rect x="180" y="323" width="26.5" height="1" fill="#d52035"/>
<rect x="44" y="324" width="27.0" height="1" fill="#5242a2"/>
<rect x="71" y="324" width="27.0" height="1" fill="#4d45a4"/>
<rect x="98" y="324" width="27.6" height="1" fill="#4c46a4"/>
<rect x="125.6" y="324" width="27.4" height="1" fill="#c52343"/>
<rect x="153" y="324" width="27.0" height="1" fill="#cb223e"/>
<rect x="180" y="324" width="26.5" height="1" fill="#cf213a"/>
<rect x="44" y="325" width="27.0" height="1" fill="#5242a2"/>
<rect x="71" y="325" width="27.0" height="1" fill="#5043a3"/>
<rect x="98" y="325" width="27.6" height="1" fill="#4c46a4"/>
<rect x="125.6" y="325" width="27.4" height="1" fill="#c92240"/>
<rect x="153" y="325" width="27.0" height="1" fill="#cb223e"/>
<rect x="180" y="325" width="26.5" height="1" fill="#cb223e"/>
<rect x="44" y="326" width="27.0" height="1" fill="#5341a2"/>
<rect x="71" y="326" width="27.0" height="1" fill="#4e44a4"/>
<rect x="98" y="326" width="27.6" height="1" fill="#4b46a4"/>
<rect x="125.6" y="326" width="27.4" height="1" fill="#c42344"/>
<rect x="153" y="326" width="27.0" height="1" fill="#c42345"/>
<rect x="180" y="326" width="26.5" height="1" fill="#c72342"/>
<rect x="44" y="327" width="27.0" height="1" fill="#5242a3"/>
<rect x="71" y="327" width="27.0" height="1" fill="#4f43a3"/>
<rect x="98" y="327" width="27.6" height="1" fill="#4b46a4"/>
<rect x="125.6" y="327" width="27.4" height="1" fill="#be244a"/>
<rect x="153" y="327" width="27.0" height="1" fill="#c32346"/>
<rect x="180" y="327" width="26.5" height="1" fill="#c92240"/>
<rect x="44" y="328" width="27.0" height="1" fill="#593da0"/>
<rect x="71" y="328" width="27.0" height="1" fill="#5b3ca0"/>
<rect x="98" y="328" width="27.6" height="1" fill="#5540a2"/>
<rect x="125.6" y="328" width="27.4" height="1" fill="#d12139"/>
<rect x="153" y="328" width="27.0" height="1" fill="#d02139"/>
<rect x="180" y="328" width="26.5" height="1" fill="#d72032"/>
<rect x="44" y="329" width="27.0" height="1" fill="#60399e"/>
<rect x="71" y="329" width="27.0" height="1" fill="#5b3ca0"/>
<rect x="98" y="329" width="27.6" height="1" fill="#573fa1"/>
<rect x="125.6" y="329" width="27.4" height="1" fill="#d02139"/>
<rect x="153" y="329" width="27.0" height="1" fill="#ce213b"/>
<rect x="180" y="329" width="26.5" height="1" fill="#d82032"/>
<rect x="44" y="330" width="27.0" height="1" fill="#5440a2"/>
<rect x="71" y="330" width="27.0" height="1" fill="#5341a2"/>
<rect x="98" y="330" width="27.6" height="1" fill="#4e44a4"/>
<rect x="125.6" y="330" width="27.4" height="1" fill="#c62343"/>
<rect x="153" y="330" width="27.0" height="1" fill="#c62343"/>
<rect x="180" y="330" width="26.5" height="1" fill="#c82240"/>
<rect x="44" y="331" width="27.0" height="1" fill="#583ea1"/>
<rect x="71" y="331" width="27.0" height="1" fill="#5540a2"/>
<rect x="98" y="331" width="27.6" height="1" fill="#5043a3"/>
<rect x="125.6" y="331" width="27.4" height="1" fill="#c52344"/>
<rect x="153" y="331" width="27.0" height="1" fill="#c52344"/>
<rect x="180" y="331" width="26.5" height="1" fill="#c82240"/>
<rect x="44" y="332" width="27.0" height="1" fill="#583ea1"/>
<rect x="71" y="332" width="27.0" height="1" fill="#5441a2"/>
<rect x="98" y="332" width="27.6" height="1" fill="#4d45a4"/>
<rect x="125.6" y="332" width="27.4" height="1" fill="#c12447"/>
<rect x="153" y="332" width="27.0" height="1" fill="#bf2449"/>
<rect x="180" y="332" width="26.5" height="1" fill="#ca223f"/>
<rect x="44" y="333" width="27.0" height="1" fill="#5540a1"/>
<rect x="71" y="333" width="27.0" height="1" fill="#5341a2"/>
<rect x="98" y="333" width="27.6" height="1" fill="#5043a3"/>
<rect x="125.6" y="333" width="27.4" height="1" fill="#c12448"/>
<rect x="153" y="333" width="27.0" height="1" fill="#be244a"/>
<rect x="180" y="333" width="26.5" height="1" fill="#cb223e"/>
<rect x="44" y="334" width="27.0" height="1" fill="#61389e"/>
<rect x="71" y="334" width="27.0" height="1" fill="#63379d"/>
<rect x="98" y="334" width="27.6" height="1" fill="#5b3ca0"/>
<rect x="125.6" y="334" width="27.4" height="1" fill="#cd213c"/>
<rect x="153" y="334" width="27.0" height="1" fill="#d12138"/>
<rect x="180" y="334" width="26.5" height="1" fill="#d22138"/>
<rect x="44" y="335" width="27.0" height="1" fill="#66359d"/>
<rect x="71" y="335" width="27.0" height="1" fill="#62389e"/>
<rect x="98" y="335" width="27.6" height="1" fill="#5b3ca0"/>
<rect x="125.6" y="335" width="27.4" height="1" fill="#ce213c"/>
<rect x="153" y="335" width="27.0" height="1" fill="#cc223d"/>
<rect x="180" y="335" width="26.5" height="1" fill="#d52034"/>
<rect x="44" y="336" width="27.0" height="1" fill="#5d3b9f"/>
<rect x="71" y="336" width="27.0" height="1" fill="#5c3ca0"/>
<rect x="98" y="336" width="27.6" height="1" fill="#573ea1"/>
<rect x="125.6" y="336" width="27.4" height="1" fill="#ca223f"/>
<rect x="153" y="336" width="27.0" height="1" fill="#ce213b"/>
<rect x="180" y="336" width="26.5" height="1" fill="#cd213c"/>
<rect x="44" y="337" width="27.0" height="1" fill="#5f3a9f"/>
<rect x="71" y="337" width="27.0" height="1" fill="#5e3b9f"/>
<rect x="98" y="337" width="27.6" height="1" fill="#573ea1"/>
<rect x="125.6" y="337" width="27.4" height="1" fill="#c52344"/>
<rect x="153" y="337" width="27.0" height="1" fill="#cd223c"/>
<rect x="180" y="337" width="26.5" height="1" fill="#d42035"/>
<rect x="44" y="338" width="27.0" height="1" fill="#5d3b9f"/>
<rect x="71" y="338" width="27.0" height="1" fill="#5b3ca0"/>
<rect x="98" y="338" width="27.6" height="1" fill="#5241a2"/>
<rect x="125.6" y="338" width="27.4" height="1" fill="#c12447"/>
<rect x="153" y="338" width="27.0" height="1" fill="#c12448"/>
<rect x="180" y="338" width="26.5" height="1" fill="#d22137"/>
<rect x="44" y="339" width="27.0" height="1" fill="#5f3a9f"/>
<rect x="71" y="339" width="27.0" height="1" fill="#5b3ca0"/>
<rect x="98" y="339" width="27.6" height="1" fill="#5540a1"/>
<rect x="125.6" y="339" width="27.4" height="1" fill="#b82550"/>
<rect x="153" y="339" width="27.0" height="1" fill="#c62342"/>
<rect x="180" y="339" width="26.5" height="1" fill="#cf213a"/>
<rect x="44" y="340" width="27.0" height="1" fill="#5b3ca0"/>
<rect x="71" y="340" width="27.0" height="1" fill="#583ea1"/>
<rect x="98" y="340" width="27.6" height="1" fill="#4f43a3"/>
<rect x="125.6" y="340" width="27.4" height="1" fill="#be244b"/>
<rect x="153" y="340" width="27.0" height="1" fill="#c22346"/>
<rect x="180" y="340" width="26.5" height="1" fill="#c42345"/>
<rect x="44" y="341" width="27.0" height="1" fill="#5b3ca0"/>
<rect x="71" y="341" width="27.0" height="1" fill="#593da0"/>
<rect x="98" y="341" width="27.6" height="1" fill="#5043a3"/>
<rect x="125.6" y="341" width="27.4" height="1" fill="#ba254e"/>
<rect x="153" y="341" width="27.0" height="1" fill="#c12448"/>
<rect x="180" y="341" width="26.5" height="1" fill="#be244a"/>
<rect x="44" y="342" width="27.0" height="1" fill="#63379d"/>
<rect x="71" y="342" width="27.0" height="1" fill="#5e3a9f"/>
<rect x="98" y="342" width="27.6" height="1" fill="#5b3ca0"/>
<rect x="125.6" y="342" width="27.4" height="1" fill="#c02448"/>
<rect x="153" y="342" width="27.0" height="1" fill="#c82241"/>
<rect x="180" y="342" width="26.5" height="1" fill="#c82241"/>
<rect x="44" y="343" width="27.0" height="1" fill="#66359d"/>
<rect x="71" y="343" width="27.0" height="1" fill="#60399e"/>
<rect x="98" y="343" width="27.6" height="1" fill="#5c3b9f"/>
<rect x="125.6" y="343" width="27.4" height="1" fill="#c12448"/>
<rect x="153" y="343" width="27.0" height="1" fill="#c52344"/>
<rect x="180" y="343" width="26.5" height="1" fill="#d02139"/>
<rect x="44" y="344" width="27.0" height="1" fill="#61389e"/>
<rect x="71" y="344" width="27.0" height="1" fill="#5d3b9f"/>
<rect x="98" y="344" width="27.6" height="1" fill="#5a3ca0"/>
<rect x="125.6" y="344" width="27.4" height="1" fill="#c02448"/>
<rect x="153" y="344" width="27.0" height="1" fill="#c02449"/>
<rect x="180" y="344" width="26.5" height="1" fill="#c72341"/>
<rect x="44" y="345" width="27.0" height="1" fill="#61389e"/>
<rect x="71" y="345" width="27.0" height="1" fill="#5e3a9f"/>
<rect x="98" y="345" width="27.6" height="1" fill="#583ea1"/>
<rect x="125.6" y="345" width="27.4" height="1" fill="#be244a"/>
<rect x="153" y="345" width="27.0" height="1" fill="#c12447"/>
<rect x="180" y="345" width="26.5" height="1" fill="#c32345"/>
<rect x="44" y="346" width="27.0" height="1" fill="#67359c"/>
<rect x="71" y="346" width="27.0" height="1" fill="#63379e"/>
<rect x="98" y="346" width="27.6" height="1" fill="#5e3a9f"/>
<rect x="125.6" y="346" width="27.4" height="1" fill="#bf244a"/>
<rect x="153" y="346" width="27.0" height="1" fill="#c22346"/>
<rect x="180" y="346" width="26.5" height="1" fill="#ca223f"/>
<rect x="44" y="347" width="27.0" height="1" fill="#66359c"/>
<rect x="71" y="347" width="27.0" height="1" fill="#64369d"/>
<rect x="98" y="347" width="27.6" height="1" fill="#5b3ca0"/>
<rect x="125.6" y="347" width="27.4" height="1" fill="#c42345"/>
<rect x="153" y="347" width="27.0" height="1" fill="#c02449"/>
<rect x="180" y="347" width="26.5" height="1" fill="#c82241"/>
<rect x="44" y="348" width="27.0" height="1" fill="#5e3a9f"/>
<rect x="71" y="348" width="27.0" height="1" fill="#5c3ca0"/>
<rect x="98" y="348" width="27.6" height="1" fill="#5540a1"/>
<rect x="125.6" y="348" width="27.4" height="1" fill="#b52653"/>
<rect x="153" y="348" width="27.0" height="1" fill="#af2758"/>
<rect x="180" y="348" width="26.5" height="1" fill="#b82550"/>
<rect x="44" y="349" width="27.0" height="1" fill="#5d3b9f"/>
<rect x="71" y="349" width="27.0" height="1" fill="#593da0"/>
<rect x="98" y="349" width="27.6" height="1" fill="#563fa1"/>
<rect x="125.6" y="349" width="27.4" height="1" fill="#b22656"/>
<rect x="153" y="349" width="27.0" height="1" fill="#b42653"/>
<rect x="180" y="349" width="26.5" height="1" fill="#bc254c"/>
<rect x="44" y="350" width="27.0" height="1" fill="#5f399e"/>
<rect x="71" y="350" width="27.0" height="1" fill="#5c3ca0"/>
<rect x="98" y="350" width="27.6" height="1" fill="#583ea1"/>
<rect x="125.6" y="350" width="27.4" height="1" fill="#b42654"/>
<rect x="153" y="350" width="27.0" height="1" fill="#b9254f"/>
<rect x="180" y="350" width="26.5" height="1" fill="#c12448"/>
<rect x="44" y="351" width="27.0" height="1" fill="#60399e"/>
<rect x="71" y="351" width="27.0" height="1" fill="#5d3b9f"/>
<rect x="98" y="351" width="27.6" height="1" fill="#583ea1"/>
<rect x="125.6" y="351" width="27.4" height="1" fill="#ae275a"/>
<rect x="153" y="351" width="27.0" height="1" fill="#b42654"/>
<rect x="180" y="351" width="26.5" height="1" fill="#c02449"/>
<rect x="44" y="352" width="27.0" height="1" fill="#76318e"/>
<rect x="71" y="352" width="27.0" height="1" fill="#6a349a"/>
<rect x="98" y="352" width="27.6" height="1" fill="#62389e"/>
<rect x="125.6" y="352" width="27.4" height="1" fill="#c22346"/>
<rect x="153" y="352" width="27.0" height="1" fill="#c02448"/>
<rect x="180" y="352" width="26.5" height="1" fill="#c92240"/>
<rect x="44" y="353" width="27.0" height="1" fill="#79318c"/>
<rect x="71" y="353" width="27.0" height="1" fill="#6a349a"/>
<rect x="98" y="353" width="27.6" height="1" fill="#62389e"/>
<rect x="125.6" y="353" width="27.4" height="1" fill="#bd244b"/>
<rect x="153" y="353" width="27.0" height="1" fill="#c32345"/>
<rect x="180" y="353" width="26.5" height="1" fill="#c92240"/>
<rect x="44" y="354" width="27.0" height="1" fill="#6d3397"/>
<rect x="71" y="354" width="27.0" height="1" fill="#63379d"/>
<rect x="98" y="354" width="27.6" height="1" fill="#5e3a9f"/>
<rect x="125.6" y="354" width="27.4" height="1" fill="#b82550"/>
<rect x="153" y="354" width="27.0" height="1" fill="#b82550"/>
<rect x="180" y="354" width="26.5" height="1" fill="#bc254c"/>
<rect x="44" y="355" width="27.0" height="1" fill="#69349b"/>
<rect x="71" y="355" width="27.0" height="1" fill="#65369d"/>
<rect x="98" y="355" width="27.6" height="1" fill="#60399e"/>
<rect x="125.6" y="355" width="27.4" height="1" fill="#b32655"/>
<rect x="153" y="355" width="27.0" height="1" fill="#bb254d"/>
<rect x="180" y="355" width="26.5" height="1" fill="#c72342"/>
<rect x="44" y="356" width="27.0" height="1" fill="#703294"/>
<rect x="71" y="356" width="27.0" height="1" fill="#66359d"/>
<rect x="98" y="356" width="27.6" height="1" fill="#5e3b9f"/>
<rect x="125.6" y="356" width="27.4" height="1" fill="#b32654"/>
<rect x="153" y="356" width="27.0" height="1" fill="#b42653"/>
<rect x="180" y="356" width="26.5" height="1" fill="#c12447"/>
<rect x="44" y="357" width="27.0" height="1" fill="#6a349a"/>
<rect x="71" y="357" width="27.0" height="1" fill="#69349b"/>
<rect x="98" y="357" width="27.6" height="1" fill="#61399e"/>
<rect x="125.6" y="357" width="27.4" height="1" fill="#ac275b"/>
<rect x="153" y="357" width="27.0" height="1" fill="#ba254e"/>
<rect x="180" y="357" width="26.5" height="1" fill="#c42345"/>
<rect x="44" y="358" width="27.0" height="1" fill="#bd244c"/>
<rect x="71" y="358" width="27.0" height="1" fill="#b02758"/>
<rect x="98" y="358" width="27.6" height="1" fill="#b22656"/>
<rect x="125.6" y="358" width="27.4" height="1" fill="#62389e"/>
<rect x="153" y="358" width="27.0" height="1" fill="#63379d"/>
<rect x="180" y="358" width="26.5" height="1" fill="#5c3b9f"/>
<rect x="44" y="359" width="27.0" height="1" fill="#b02758"/>
<rect x="71" y="359" width="27.0" height="1" fill="#b82550"/>
<rect x="98" y="359" width="27.6" height="1" fill="#ba254e"/>
<rect x="125.6" y="359" width="27.4" height="1" fill="#63379e"/>
<rect x="153" y="359" width="27.0" height="1" fill="#63379e"/>
<rect x="180" y="359" width="26.5" height="1" fill="#5e3a9f"/>
<rect x="44" y="360" width="27.0" height="1" fill="#bf2449"/>
<rect x="71" y="360" width="27.0" height="1" fill="#c02449"/>
<rect x="98" y="360" width="27.6" height="1" fill="#b12757"/>
<rect x="125.6" y="360" width="27.4" height="1" fill="#66359d"/>
<rect x="153" y="360" width="27.0" height="1" fill="#64379d"/>
<rect x="180" y="360" width="26.5" height="1" fill="#5e3a9f"/>
<rect x="44" y="361" width="27.0" height="1" fill="#c32346"/>
<rect x="71" y="361" width="27.0" height="1" fill="#c12447"/>
<rect x="98" y="361" width="27.6" height="1" fill="#b22656"/>
<rect x="125.6" y="361" width="27.4" height="1" fill="#67359c"/>
<rect x="153" y="361" width="27.0" height="1" fill="#63379e"/>
<rect x="180" y="361" width="26.5" height="1" fill="#5f3a9f"/>
<rect x="44" y="362" width="27.0" height="1" fill="#c92240"/>
<rect x="71" y="362" width="27.0" height="1" fill="#c72342"/>
<rect x="98" y="362" width="27.6" height="1" fill="#c62342"/>
<rect x="125.6" y="362" width="27.4" height="1" fill="#78318d"/>
<rect x="153" y="362" width="27.0" height="1" fill="#723292"/>
<rect x="180" y="362" width="26.5" height="1" fill="#66369d"/>
<rect x="44" y="363" width="27.0" height="1" fill="#c32345"/>
<rect x="71" y="363" width="27.0" height="1" fill="#ca223f"/>
<rect x="98" y="363" width="27.6" height="1" fill="#be244a"/>
<rect x="125.6" y="363" width="27.4" height="1" fill="#733292"/>
<rect x="153" y="363" width="27.0" height="1" fill="#6a349a"/>
<rect x="180" y="363" width="26.5" height="1" fill="#67359c"/>
<rect x="44" y="364" width="27.0" height="1" fill="#bf244a"/>
<rect x="71" y="364" width="27.0" height="1" fill="#b22655"/>
<rect x="98" y="364" width="27.6" height="1" fill="#b12757"/>
<rect x="125.6" y="364" width="27.4" height="1" fill="#5e3a9f"/>
<rect x="153" y="364" width="27.0" height="1" fill="#5e3a9f"/>
<rect x="180" y="364" width="26.5" height="1" fill="#573fa1"/>
<rect x="44" y="365" width="27.0" height="1" fill="#b9254f"/>
<rect x="71" y="365" width="27.0" height="1" fill="#b62652"/>
<rect x="98" y="365" width="27.6" height="1" fill="#b42654"/>
<rect x="125.6" y="365" width="27.4" height="1" fill="#5e3a9f"/>
<rect x="153" y="365" width="27.0" height="1" fill="#5b3ca0"/>
<rect x="180" y="365" width="26.5" height="1" fill="#593da0"/>
<rect x="44" y="366" width="27.0" height="1" fill="#c12448"/>
<rect x="71" y="366" width="27.0" height="1" fill="#bc254c"/>
<rect x="98" y="366" width="27.6" height="1" fill="#b52653"/>
<rect x="125.6" y="366" width="27.4" height="1" fill="#61389e"/>
<rect x="153" y="366" width="27.0" height="1" fill="#60399e"/>
<rect x="180" y="366" width="26.5" height="1" fill="#60399e"/>
<rect x="44" y="367" width="27.0" height="1" fill="#be244b"/>
<rect x="71" y="367" width="27.0" height="1" fill="#be244a"/>
<rect x="98" y="367" width="27.6" height="1" fill="#bd244b"/>
<rect x="125.6" y="367" width="27.4" height="1" fill="#5d3b9f"/>
<rect x="153" y="367" width="27.0" height="1" fill="#5c3b9f"/>
<rect x="180" y="367" width="26.5" height="1" fill="#5a3da0"/>
<rect x="44" y="368" width="27.0" height="1" fill="#ca223f"/>
<rect x="71" y="368" width="27.0" height="1" fill="#c02448"/>
<rect x="98" y="368" width="27.6" height="1" fill="#bf244a"/>
<rect x="125.6" y="368" width="27.4" height="1" fill="#61399e"/>
<rect x="153" y="368" width="27.0" height="1" fill="#5c3ca0"/>
<rect x="180" y="368" width="26.5" height="1" fill="#593da0"/>
<rect x="44" y="369" width="27.0" height="1" fill="#c52343"/>
<rect x="71" y="369" width="27.0" height="1" fill="#c02449"/>
<rect x="98" y="369" width="27.6" height="1" fill="#b62652"/>
<rect x="125.6" y="369" width="27.4" height="1" fill="#62389e"/>
<rect x="153" y="369" width="27.0" height="1" fill="#5d3b9f"/>
<rect x="180" y="369" width="26.5" height="1" fill="#5d3b9f"/>
<rect x="44" y="370" width="27.0" height="1" fill="#c92240"/>
<rect x="71" y="370" width="27.0" height="1" fill="#c52344"/>
<rect x="98" y="370" width="27.6" height="1" fill="#c82241"/>
<rect x="125.6" y="370" width="27.4" height="1" fill="#66359d"/>
<rect x="153" y="370" width="27.0" height="1" fill="#67359c"/>
<rect x="180" y="370" width="26.5" height="1" fill="#61389e"/>
<rect x="44" y="371" width="27.0" height="1" fill="#cf213a"/>
<rect x="71" y="371" width="27.0" height="1" fill="#ca223f"/>
<rect x="98" y="371" width="27.6" height="1" fill="#c42345"/>
<rect x="125.6" y="371" width="27.4" height="1" fill="#65369d"/>
<rect x="153" y="371" width="27.0" height="1" fill="#65369d"/>
<rect x="180" y="371" width="26.5" height="1" fill="#60399e"/>
<rect x="44" y="372" width="27.0" height="1" fill="#c02448"/>
<rect x="71" y="372" width="27.0" height="1" fill="#c22447"/>
<rect x="98" y="372" width="27.6" height="1" fill="#b72651"/>
<rect x="125.6" y="372" width="27.4" height="1" fill="#60399e"/>
<rect x="153" y="372" width="27.0" height="1" fill="#5c3ca0"/>
<rect x="180" y="372" width="26.5" height="1" fill="#583ea1"/>
<rect x="44" y="373" width="27.0" height="1" fill="#c72341"/>
<rect x="71" y="373" width="27.0" height="1" fill="#c62343"/>
<rect x="98" y="373" width="27.6" height="1" fill="#bb254d"/>
<rect x="125.6" y="373" width="27.4" height="1" fill="#5c3ca0"/>
<rect x="153" y="373" width="27.0" height="1" fill="#5c3ca0"/>
<rect x="180" y="373" width="26.5" height="1" fill="#583ea1"/>
<rect x="44" y="374" width="27.0" height="1" fill="#c82241"/>
<rect x="71" y="374" width="27.0" height="1" fill="#c22447"/>
<rect x="98" y="374" width="27.6" height="1" fill="#bd244c"/>
<rect x="125.6" y="374" width="27.4" height="1" fill="#5d3b9f"/>
<rect x="153" y="374" width="27.0" height="1" fill="#5b3ca0"/>
<rect x="180" y="374" width="26.5" height="1" fill="#593da0"/>
<rect x="44" y="375" width="27.0" height="1" fill="#c62343"/>
<rect x="71" y="375" width="27.0" height="1" fill="#bf2449"/>
<rect x="98" y="375" width="27.6" height="1" fill="#bd244b"/>
<rect x="125.6" y="375" width="27.4" height="1" fill="#5f399f"/>
<rect x="153" y="375" width="27.0" height="1" fill="#5b3ca0"/>
<rect x="180" y="375" width="26.5" height="1" fill="#573ea1"/>
<rect x="44" y="376" width="27.0" height="1" fill="#d12138"/>
<rect x="71" y="376" width="27.0" height="1" fill="#cb223e"/>
<rect x="98" y="376" width="27.6" height="1" fill="#ce213b"/>
<rect x="125.6" y="376" width="27.4" height="1" fill="#65369d"/>
<rect x="153" y="376" width="27.0" height="1" fill="#64369d"/>
<rect x="180" y="376" width="26.5" height="1" fill="#63379e"/>
<rect x="44" y="377" width="27.0" height="1" fill="#d12138"/>
<rect x="71" y="377" width="27.0" height="1" fill="#cd223c"/>
<rect x="98" y="377" width="27.6" height="1" fill="#ca223f"/>
<rect x="125.6" y="377" width="27.4" height="1" fill="#65369d"/>
<rect x="153" y="377" width="27.0" height="1" fill="#66359d"/>
<rect x="180" y="377" width="26.5" height="1" fill="#61399e"/>
<rect x="44" y="378" width="27.0" height="1" fill="#ca223f"/>
<rect x="71" y="378" width="27.0" height="1" fill="#be244a"/>
<rect x="98" y="378" width="27.6" height="1" fill="#c22447"/>
<rect x="125.6" y="378" width="27.4" height="1" fill="#5b3ca0"/>
<rect x="153" y="378" width="27.0" height="1" fill="#573fa1"/>
<rect x="180" y="378" width="26.5" height="1" fill="#5341a2"/>
<rect x="44" y="379" width="27.0" height="1" fill="#c52344"/>
<rect x="71" y="379" width="27.0" height="1" fill="#c32345"/>
<rect x="98" y="379" width="27.6" height="1" fill="#c02448"/>
<rect x="125.6" y="379" width="27.4" height="1" fill="#583ea1"/>
<rect x="153" y="379" width="27.0" height="1" fill="#583ea1"/>
<rect x="180" y="379" width="26.5" height="1" fill="#563fa1"/>
<rect x="44" y="380" width="27.0" height="1" fill="#c62343"/>
<rect x="71" y="380" width="27.0" height="1" fill="#bf2449"/>
<rect x="98" y="380" width="27.6" height="1" fill="#b92550"/>
<rect x="125.6" y="380" width="27.4" height="1" fill="#5540a2"/>
<rect x="153" y="380" width="27.0" height="1" fill="#563fa1"/>
<rect x="180" y="380" width="26.5" height="1" fill="#5341a2"/>
<rect x="44" y="381" width="27.0" height="1" fill="#ba254e"/>
<rect x="71" y="381" width="27.0" height="1" fill="#bf2449"/>
<rect x="98" y="381" width="27.6" height="1" fill="#bb254e"/>
<rect x="125.6" y="381" width="27.4" height="1" fill="#5440a2"/>
<rect x="153" y="381" width="27.0" height="1" fill="#5241a2"/>
<rect x="180" y="381" width="26.5" height="1" fill="#4f44a3"/>
<rect x="44" y="382" width="27.0" height="1" fill="#c92240"/>
<rect x="71" y="382" width="27.0" height="1" fill="#c92240"/>
<rect x="98" y="382" width="27.6" height="1" fill="#c52344"/>
<rect x="125.6" y="382" width="27.4" height="1" fill="#5c3b9f"/>
<rect x="153" y="382" width="27.0" height="1" fill="#5d3b9f"/>
<rect x="180" y="382" width="26.5" height="1" fill="#5a3da0"/>
<rect x="44" y="383" width="27.0" height="1" fill="#cb223e"/>
<rect x="71" y="383" width="27.0" height="1" fill="#c82241"/>
<rect x="98" y="383" width="27.6" height="1" fill="#c62343"/>
<rect x="125.6" y="383" width="27.4" height="1" fill="#5e3a9f"/>
<rect x="153" y="383" width="27.0" height="1" fill="#5b3ca0"/>
<rect x="180" y="383" width="26.5" height="1" fill="#593da0"/>
<rect x="44" y="384" width="27.0" height="1" fill="#c52343"/>
<rect x="71" y="384" width="27.0" height="1" fill="#c52344"/>
<rect x="98" y="384" width="27.6" height="1" fill="#ba254e"/>
<rect x="125.6" y="384" width="27.4" height="1" fill="#593ea0"/>
<rect x="153" y="384" width="27.0" height="1" fill="#5441a2"/>
<rect x="180" y="384" width="26.5" height="1" fill="#5242a2"/>
<rect x="44" y="385" width="27.0" height="1" fill="#cc223d"/>
<rect x="71" y="385" width="27.0" height="1" fill="#c62343"/>
<rect x="98" y="385" width="27.6" height="1" fill="#c22447"/>
<rect x="125.6" y="385" width="27.4" height="1" fill="#5540a2"/>
<rect x="153" y="385" width="27.0" height="1" fill="#5242a2"/>
<rect x="180" y="385" width="26.5" height="1" fill="#5242a2"/>
<rect x="44" y="386" width="27.0" height="1" fill="#cd213c"/>
<rect x="71" y="386" width="27.0" height="1" fill="#d32036"/>
<rect x="98" y="386" width="27.6" height="1" fill="#c72342"/>
<rect x="125.6" y="386" width="27.4" height="1" fill="#5b3ca0"/>
<rect x="153" y="386" width="27.0" height="1" fill="#5c3ca0"/>
<rect x="180" y="386" width="26.5" height="1" fill="#593da0"/>
<rect x="44" y="387" width="27.0" height="1" fill="#d32036"/>
<rect x="71" y="387" width="27.0" height="1" fill="#cc223d"/>
<rect x="98" y="387" width="27.6" height="1" fill="#c82241"/>
<rect x="125.6" y="387" width="27.4" height="1" fill="#593da0"/>
<rect x="153" y="387" width="27.0" height="1" fill="#593da0"/>
<rect x="180" y="387" width="26.5" height="1" fill="#573fa1"/>
<rect x="44" y="388" width="27.0" height="1" fill="#c22346"/>
<rect x="71" y="388" width="27.0" height="1" fill="#bd244b"/>
<rect x="98" y="388" width="27.6" height="1" fill="#b52653"/>
<rect x="125.6" y="388" width="27.4" height="1" fill="#5242a2"/>
<rect x="153" y="388" width="27.0" height="1" fill="#4c45a4"/>
<rect x="180" y="388" width="26.5" height="1" fill="#4947a5"/>
<rect x="44" y="389" width="27.0" height="1" fill="#c62342"/>
<rect x="71" y="389" width="27.0" height="1" fill="#c42344"/>
<rect x="98" y="389" width="27.6" height="1" fill="#b9254f"/>
<rect x="125.6" y="389" width="27.4" height="1" fill="#4c45a4"/>
<rect x="153" y="389" width="27.0" height="1" fill="#4b46a4"/>
<rect x="180" y="389" width="26.5" height="1" fill="#4c45a4"/>
<rect x="44" y="390" width="27.0" height="1" fill="#c62343"/>
<rect x="71" y="390" width="27.0" height="1" fill="#c72342"/>
<rect x="98" y="390" width="27.6" height="1" fill="#c82241"/>
<rect x="125.6" y="390" width="27.4" height="1" fill="#5142a3"/>
<rect x="153" y="390" width="27.0" height="1" fill="#5142a3"/>
<rect x="180" y="390" width="26.5" height="1" fill="#4e44a4"/>
<rect x="44" y="391" width="27.0" height="1" fill="#d12138"/>
<rect x="71" y="391" width="27.0" height="1" fill="#ce213b"/>
<rect x="98" y="391" width="27.6" height="1" fill="#c82241"/>
<rect x="125.6" y="391" width="27.4" height="1" fill="#5242a2"/>
<rect x="153" y="391" width="27.0" height="1" fill="#5242a2"/>
<rect x="180" y="391" width="26.5" height="1" fill="#4c45a4"/>
<rect x="44" y="392" width="27.0" height="1" fill="#c82240"/>
<rect x="71" y="392" width="27.0" height="1" fill="#c72342"/>
<rect x="98" y="392" width="27.6" height="1" fill="#c62343"/>
<rect x="125.6" y="392" width="27.4" height="1" fill="#5440a2"/>
<rect x="153" y="392" width="27.0" height="1" fill="#5440a2"/>
<rect x="180" y="392" width="26.5" height="1" fill="#5241a2"/>
<rect x="44" y="393" width="27.0" height="1" fill="#cf213b"/>
<rect x="71" y="393" width="27.0" height="1" fill="#c92240"/>
<rect x="98" y="393" width="27.6" height="1" fill="#cb223e"/>
<rect x="125.6" y="393" width="27.4" height="1" fill="#5441a2"/>
<rect x="153" y="393" width="27.0" height="1" fill="#5540a2"/>
<rect x="180" y="393" width="26.5" height="1" fill="#5043a3"/>
<rect x="44" y="394" width="27.0" height="1" fill="#ba254e"/>
<rect x="71" y="394" width="27.0" height="1" fill="#c22447"/>
<rect x="98" y="394" width="27.6" height="1" fill="#b9254f"/>
<rect x="125.6" y="394" width="27.4" height="1" fill="#454aa6"/>
<rect x="153" y="394" width="27.0" height="1" fill="#454aa6"/>
<rect x="180" y="394" width="26.5" height="1" fill="#434ba7"/>
<rect x="44" y="395" width="27.0" height="1" fill="#be244a"/>
<rect x="71" y="395" width="27.0" height="1" fill="#b9254f"/>
<rect x="98" y="395" width="27.6" height="1" fill="#b82550"/>
<rect x="125.6" y="395" width="27.4" height="1" fill="#454aa6"/>
<rect x="153" y="395" width="27.0" height="1" fill="#424ca7"/>
<rect x="180" y="395" width="26.5" height="1" fill="#404da8"/>
<rect x="44" y="396" width="27.0" height="1" fill="#d12138"/>
<rect x="71" y="396" width="27.0" height="1" fill="#cf213a"/>
<rect x="98" y="396" width="27.6" height="1" fill="#cb223e"/>
<rect x="125.6" y="396" width="27.4" height="1" fill="#5241a2"/>
<rect x="153" y="396" width="27.0" height="1" fill="#5440a2"/>
<rect x="180" y="396" width="26.5" height="1" fill="#4f44a3"/>
<rect x="44" y="397" width="27.0" height="1" fill="#d22137"/>
<rect x="71" y="397" width="27.0" height="1" fill="#d42036"/>
<rect x="98" y="397" width="27.6" height="1" fill="#ca223f"/>
<rect x="125.6" y="397" width="27.4" height="1" fill="#5242a3"/>
<rect x="153" y="397" width="27.0" height="1" fill="#5242a3"/>
<rect x="180" y="397" width="26.5" height="1" fill="#5143a3"/>
<rect x="44" y="398" width="27.0" height="1" fill="#d12138"/>
<rect x="71" y="398" width="27.0" height="1" fill="#cf213a"/>
<rect x="98" y="398" width="27.6" height="1" fill="#c72341"/>
<rect x="125.6" y="398" width="27.4" height="1" fill="#5341a2"/>
<rect x="153" y="398" width="27.0" height="1" fill="#5043a3"/>
<rect x="180" y="398" width="26.5" height="1" fill="#4c45a4"/>
<rect x="44" y="399" width="27.0" height="1" fill="#d02139"/>
<rect x="71" y="399" width="27.0" height="1" fill="#c92240"/>
<rect x="98" y="399" width="27.6" height="1" fill="#c92240"/>
<rect x="125.6" y="399" width="27.4" height="1" fill="#5142a3"/>
<rect x="153" y="399" width="27.0" height="1" fill="#4f44a3"/>
<rect x="180" y="399" width="26.5" height="1" fill="#5043a3"/>
<rect x="44" y="400" width="27.0" height="1" fill="#c72342"/>
<rect x="71" y="400" width="27.0" height="1" fill="#c72342"/>
<rect x="98" y="400" width="27.6" height="1" fill="#c72342"/>
<rect x="125.6" y="400" width="27.4" height="1" fill="#4947a5"/>
<rect x="153" y="400" width="27.0" height="1" fill="#4748a6"/>
<rect x="180" y="400" width="26.5" height="1" fill="#454aa6"/>
<rect x="44" y="401" width="27.0" height="1" fill="#c62343"/>
<rect x="71" y="401" width="27.0" height="1" fill="#c92240"/>
<rect x="98" y="401" width="27.6" height="1" fill="#c02448"/>
<rect x="125.6" y="401" width="27.4" height="1" fill="#4848a5"/>
<rect x="153" y="401" width="27.0" height="1" fill="#4649a6"/>
<rect x="180" y="401" width="26.5" height="1" fill="#454aa6"/>
<rect x="44" y="402" width="27.0" height="1" fill="#d62034"/>
<rect x="71" y="402" width="27.0" height="1" fill="#ca223f"/>
<rect x="98" y="402" width="27.6" height="1" fill="#cb223e"/>
<rect x="125.6" y="402" width="27.4" height="1" fill="#4d45a4"/>
<rect x="153" y="402" width="27.0" height="1" fill="#4d45a4"/>
<rect x="180" y="402" width="26.5" height="1" fill="#4b46a5"/>
<rect x="44" y="403" width="27.0" height="1" fill="#d02139"/>
<rect x="71" y="403" width="27.0" height="1" fill="#d12139"/>
<rect x="98" y="403" width="27.6" height="1" fill="#c52343"/>
<rect x="125.6" y="403" width="27.4" height="1" fill="#4c45a4"/>
<rect x="153" y="403" width="27.0" height="1" fill="#4947a5"/>
<rect x="180" y="403" width="26.5" height="1" fill="#4a47a5"/>
<rect x="44" y="404" width="27.0" height="1" fill="#c62343"/>
<rect x="71" y="404" width="27.0" height="1" fill="#c82241"/>
<rect x="98" y="404" width="27.6" height="1" fill="#cb223e"/>
<rect x="125.6" y="404" width="27.4" height="1" fill="#4848a5"/>
<rect x="153" y="404" width="27.0" height="1" fill="#4749a6"/>
<rect x="180" y="404" width="26.5" height="1" fill="#4749a6"/>
<rect x="44" y="405" width="27.0" height="1" fill="#c62342"/>
<rect x="71" y="405" width="27.0" height="1" fill="#c12447"/>
<rect x="98" y="405" width="27.6" height="1" fill="#c52344"/>
<rect x="125.6" y="405" width="27.4" height="1" fill="#4649a6"/>
<rect x="153" y="405" width="27.0" height="1" fill="#4848a5"/>
<rect x="180" y="405" width="26.5" height="1" fill="#4748a6"/>
<rect x="44" y="406" width="27.0" height="1" fill="#d22137"/>
<rect x="71" y="406" width="27.0" height="1" fill="#ce213b"/>
<rect x="98" y="406" width="27.6" height="1" fill="#c92240"/>
<rect x="125.6" y="406" width="27.4" height="1" fill="#4649a6"/>
<rect x="153" y="406" width="27.0" height="1" fill="#4848a5"/>
<rect x="180" y="406" width="26.5" height="1" fill="#434ba7"/>
<rect x="44" y="407" width="27.0" height="1" fill="#c82241"/>
<rect x="71" y="407" width="27.0" height="1" fill="#c92240"/>
<rect x="98" y="407" width="27.6" height="1" fill="#c12447"/>
<rect x="125.6" y="407" width="27.4" height="1" fill="#464aa6"/>
<rect x="153" y="407" width="27.0" height="1" fill="#444ba7"/>
<rect x="180" y="407" width="26.5" height="1" fill="#434ba7"/>
<rect x="44" y="408" width="27.0" height="1" fill="#d02139"/>
<rect x="71" y="408" width="27.0" height="1" fill="#d82032"/>
<rect x="98" y="408" width="27.6" height="1" fill="#cd213c"/>
<rect x="125.6" y="408" width="27.4" height="1" fill="#4e44a4"/>
<rect x="153" y="408" width="27.0" height="1" fill="#4947a5"/>
<rect x="180" y="408" width="26.5" height="1" fill="#4b46a4"/>
<rect x="44" y="409" width="27.0" height="1" fill="#d22138"/>
<rect x="71" y="409" width="27.0" height="1" fill="#d42036"/>
<rect x="98" y="409" width="27.6" height="1" fill="#cf213a"/>
<rect x="125.6" y="409" width="27.4" height="1" fill="#4947a5"/>
<rect x="153" y="409" width="27.0" height="1" fill="#4a47a5"/>
<rect x="180" y="409" width="26.5" height="1" fill="#4a47a5"/>
<rect x="44" y="410" width="27.0" height="1" fill="#d12138"/>
<rect x="71" y="410" width="27.0" height="1" fill="#ce213b"/>
<rect x="98" y="410" width="27.6" height="1" fill="#d02139"/>
<rect x="125.6" y="410" width="27.4" height="1" fill="#4c45a4"/>
<rect x="153" y="410" width="27.0" height="1" fill="#4b46a4"/>
<rect x="180" y="410" width="26.5" height="1" fill="#4a47a5"/>
<rect x="44" y="411" width="27.0" height="1" fill="#da1f30"/>
<rect x="71" y="411" width="27.0" height="1" fill="#d91f30"/>
<rect x="98" y="411" width="27.6" height="1" fill="#d72033"/>
<rect x="125.6" y="411" width="27.4" height="1" fill="#4b46a4"/>
<rect x="153" y="411" width="27.0" height="1" fill="#4c46a4"/>
<rect x="180" y="411" width="26.5" height="1" fill="#4a47a5"/>
<rect x="44" y="412" width="27.0" height="1" fill="#ce213b"/>
<rect x="71" y="412" width="27.0" height="1" fill="#ca223f"/>
<rect x="98" y="412" width="27.6" height="1" fill="#c72342"/>
<rect x="125.6" y="412" width="27.4" height="1" fill="#444aa6"/>
<rect x="153" y="412" width="27.0" height="1" fill="#424ca7"/>
<rect x="180" y="412" width="26.5" height="1" fill="#414ca7"/>
<rect x="44" y="413" width="27.0" height="1" fill="#d02139"/>
<rect x="71" y="413" width="27.0" height="1" fill="#cd213c"/>
<rect x="98" y="413" width="27.6" height="1" fill="#c42344"/>
<rect x="125.6" y="413" width="27.4" height="1" fill="#414ca7"/>
<rect x="153" y="413" width="27.0" height="1" fill="#424ca7"/>
<rect x="180" y="413" width="26.5" height="1" fill="#3f4ea8"/>
<rect x="44" y="414" width="27.0" height="1" fill="#d62033"/>
<rect x="71" y="414" width="27.0" height="1" fill="#d91f31"/>
<rect x="98" y="414" width="27.6" height="1" fill="#d72033"/>
<rect x="125.6" y="414" width="27.4" height="1" fill="#4947a5"/>
<rect x="153" y="414" width="27.0" height="1" fill="#4749a6"/>
<rect x="180" y="414" width="26.5" height="1" fill="#4848a5"/>
<rect x="44" y="415" width="27.0" height="1" fill="#d72033"/>
<rect x="71" y="415" width="27.0" height="1" fill="#d42036"/>
<rect x="98" y="415" width="27.6" height="1" fill="#d72032"/>
<rect x="125.6" y="415" width="27.4" height="1" fill="#4848a5"/>
<rect x="153" y="415" width="27.0" height="1" fill="#4649a6"/>
<rect x="180" y="415" width="26.5" height="1" fill="#4848a5"/>
<rect x="44" y="416" width="27.0" height="1" fill="#d62034"/>
<rect x="71" y="416" width="27.0" height="1" fill="#cd213c"/>
<rect x="98" y="416" width="27.6" height="1" fill="#d12138"/>
<rect x="125.6" y="416" width="27.4" height="1" fill="#444aa6"/>
<rect x="153" y="416" width="27.0" height="1" fill="#444ba7"/>
<rect x="180" y="416" width="26.5" height="1" fill="#414ca7"/>
<rect x="44" y="417" width="27.0" height="1" fill="#dc1f2e"/>
<rect x="71" y="417" width="27.0" height="1" fill="#d32037"/>
<rect x="98" y="417" width="27.6" height="1" fill="#d32037"/>
<rect x="125.6" y="417" width="27.4" height="1" fill="#4749a6"/>
<rect x="153" y="417" width="27.0" height="1" fill="#444aa6"/>
<rect x="180" y="417" width="26.5" height="1" fill="#444aa6"/>
<rect x="44" y="418" width="27.0" height="1" fill="#cf213b"/>
<rect x="71" y="418" width="27.0" height="1" fill="#cc223d"/>
<rect x="98" y="418" width="27.6" height="1" fill="#cd213c"/>
<rect x="125.6" y="418" width="27.4" height="1" fill="#404da8"/>
<rect x="153" y="418" width="27.0" height="1" fill="#3d4fa9"/>
<rect x="180" y="418" width="26.5" height="1" fill="#3b50a9"/>
<rect x="44" y="419" width="27.0" height="1" fill="#cb223e"/>
<rect x="71" y="419" width="27.0" height="1" fill="#d02139"/>
<rect x="98" y="419" width="27.6" height="1" fill="#ce213b"/>
<rect x="125.6" y="419" width="27.4" height="1" fill="#404da8"/>
<rect x="153" y="419" width="27.0" height="1" fill="#3b50a9"/>
<rect x="180" y="419" width="26.5" height="1" fill="#3a51aa"/>
<rect x="44" y="420" width="27.0" height="1" fill="#d22137"/>
<rect x="71" y="420" width="27.0" height="1" fill="#d02139"/>
<rect x="98" y="420" width="27.6" height="1" fill="#d22137"/>
<rect x="125.6" y="420" width="27.4" height="1" fill="#424ca7"/>
<rect x="153" y="420" width="27.0" height="1" fill="#404da8"/>
<rect x="180" y="420" width="26.5" height="1" fill="#3f4da8"/>
<rect x="44" y="421" width="27.0" height="1" fill="#d42035"/>
<rect x="71" y="421" width="27.0" height="1" fill="#d32036"/>
<rect x="98" y="421" width="27.6" height="1" fill="#d12138"/>
<rect x="125.6" y="421" width="27.4" height="1" fill="#454aa6"/>
<rect x="153" y="421" width="27.0" height="1" fill="#414da7"/>
<rect x="180" y="421" width="26.5" height="1" fill="#404da8"/>
<rect x="44" y="422" width="27.0" height="1" fill="#d02139"/>
<rect x="71" y="422" width="27.0" height="1" fill="#d32037"/>
<rect x="98" y="422" width="27.6" height="1" fill="#d22138"/>
<rect x="125.6" y="422" width="27.4" height="1" fill="#3f4ea8"/>
<rect x="153" y="422" width="27.0" height="1" fill="#3f4da8"/>
<rect x="180" y="422" width="26.5" height="1" fill="#3e4ea8"/>
<rect x="44" y="423" width="27.0" height="1" fill="#cb223e"/>
<rect x="71" y="423" width="27.0" height="1" fill="#c62343"/>
<rect x="98" y="423" width="27.6" height="1" fill="#d81f31"/>
<rect x="125.6" y="423" width="27.4" height="1" fill="#404da8"/>
<rect x="153" y="423" width="27.0" height="1" fill="#3e4ea8"/>
<rect x="180" y="423" width="26.5" height="1" fill="#3b50a9"/>
<rect x="44" y="424" width="27.0" height="1" fill="#d62034"/>
<rect x="71" y="424" width="27.0" height="1" fill="#c62343"/>
<rect x="98" y="424" width="27.6" height="1" fill="#ce213b"/>
<rect x="125.6" y="424" width="27.4" height="1" fill="#3e4ea8"/>
<rect x="153" y="424" width="27.0" height="1" fill="#3d4fa9"/>
<rect x="180" y="424" width="26.5" height="1" fill="#3d4fa9"/>
<rect x="44" y="425" width="27.0" height="1" fill="#d12139"/>
<rect x="71" y="425" width="27.0" height="1" fill="#d91f31"/>
<rect x="98" y="425" width="27.6" height="1" fill="#cc223d"/>
<rect x="125.6" y="425" width="27.4" height="1" fill="#3b50a9"/>
<rect x="153" y="425" width="27.0" height="1" fill="#3d4fa9"/>
<rect x="180" y="425" width="26.5" height="1" fill="#3e4fa8"/>
<rect x="44" y="426" width="27.0" height="1" fill="#dd1f2d"/>
<rect x="71" y="426" width="27.0" height="1" fill="#d62033"/>
<rect x="98" y="426" width="27.6" height="1" fill="#d32036"/>
<rect x="125.6" y="426" width="27.4" height="1" fill="#444aa6"/>
<rect x="153" y="426" width="27.0" height="1" fill="#444ba7"/>
<rect x="180" y="426" width="26.5" height="1" fill="#434ba7"/>
<rect x="44" y="427" width="27.0" height="1" fill="#d82032"/>
<rect x="71" y="427" width="27.0" height="1" fill="#d52035"/>
<rect x="98" y="427" width="27.6" height="1" fill="#d42036"/>
<rect x="125.6" y="427" width="27.4" height="1" fill="#414ca7"/>
<rect x="153" y="427" width="27.0" height="1" fill="#424ca7"/>
<rect x="180" y="427" width="26.5" height="1" fill="#414ca7"/>
<rect x="44" y="428" width="27.0" height="1" fill="#d22137"/>
<rect x="71" y="428" width="27.0" height="1" fill="#d12138"/>
<rect x="98" y="428" width="27.6" height="1" fill="#d02139"/>
<rect x="125.6" y="428" width="27.4" height="1" fill="#3b50a9"/>
<rect x="153" y="428" width="27.0" height="1" fill="#3a51a9"/>
<rect x="180" y="428" width="26.5" height="1" fill="#3b50a9"/>
<rect x="44" y="429" width="27.0" height="1" fill="#d22137"/>
<rect x="71" y="429" width="27.0" height="1" fill="#d22137"/>
<rect x="98" y="429" width="27.6" height="1" fill="#ce213b"/>
<rect x="125.6" y="429" width="27.4" height="1" fill="#3b50a9"/>
<rect x="153" y="429" width="27.0" height="1" fill="#3a51a9"/>
<rect x="180" y="429" width="26.5" height="1" fill="#3852aa"/>
<rect x="44" y="430" width="27.0" height="1" fill="#dd1f2d"/>
<rect x="71" y="430" width="27.0" height="1" fill="#e01e2a"/>
<rect x="98" y="430" width="27.6" height="1" fill="#dc1f2e"/>
<rect x="125.6" y="430" width="27.4" height="1" fill="#434ba7"/>
<rect x="153" y="430" width="27.0" height="1" fill="#434ba7"/>
<rect x="180" y="430" width="26.5" height="1" fill="#424ca7"/>
<rect x="44" y="431" width="27.0" height="1" fill="#dc1f2d"/>
<rect x="71" y="431" width="27.0" height="1" fill="#d72032"/>
<rect x="98" y="431" width="27.6" height="1" fill="#e01e2a"/>
<rect x="125.6" y="431" width="27.4" height="1" fill="#404da8"/>
<rect x="153" y="431" width="27.0" height="1" fill="#424ca7"/>
<rect x="180" y="431" width="26.5" height="1" fill="#434ba7"/>
<rect x="44" y="432" width="27.0" height="1" fill="#e01e2a"/>
<rect x="71" y="432" width="27.0" height="1" fill="#e01e2a"/>
<rect x="98" y="432" width="27.6" height="1" fill="#e01e2a"/>
<rect x="125.6" y="432" width="27.4" height="1" fill="#424ca7"/>
<rect x="153" y="432" width="27.0" height="1" fill="#4649a6"/>
<rect x="180" y="432" width="26.5" height="1" fill="#404da8"/>
<rect x="44" y="433" width="27.0" height="1" fill="#df1e2b"/>
<rect x="71" y="433" width="27.0" height="1" fill="#dd1f2d"/>
<rect x="98" y="433" width="27.6" height="1" fill="#db1f2e"/>
<rect x="125.6" y="433" width="27.4" height="1" fill="#424ca7"/>
<rect x="153" y="433" width="27.0" height="1" fill="#434ba7"/>
<rect x="180" y="433" width="26.5" height="1" fill="#404da8"/>
<rect x="44" y="434" width="27.0" height="1" fill="#db1f2f"/>
<rect x="71" y="434" width="27.0" height="1" fill="#da1f30"/>
<rect x="98" y="434" width="27.6" height="1" fill="#de1e2c"/>
<rect x="125.6" y="434" width="27.4" height="1" fill="#3d4fa8"/>
<rect x="153" y="434" width="27.0" height="1" fill="#3c50a9"/>
<rect x="180" y="434" width="26.5" height="1" fill="#3b50a9"/>
<rect x="44" y="435" width="27.0" height="1" fill="#d91f30"/>
<rect x="71" y="435" width="27.0" height="1" fill="#d82032"/>
<rect x="98" y="435" width="27.6" height="1" fill="#d32036"/>
<rect x="125.6" y="435" width="27.4" height="1" fill="#3c50a9"/>
<rect x="153" y="435" width="27.0" height="1" fill="#3b50a9"/>
<rect x="180" y="435" width="26.5" height="1" fill="#3b50a9"/>
<rect x="44" y="436" width="27.0" height="1" fill="#e01e2a"/>
<rect x="71" y="436" width="27.0" height="1" fill="#dd1f2d"/>
<rect x="98" y="436" width="27.6" height="1" fill="#dd1e2d"/>
<rect x="125.6" y="436" width="27.4" height="1" fill="#3c50a9"/>
<rect x="153" y="436" width="27.0" height="1" fill="#3b50a9"/>
<rect x="180" y="436" width="26.5" height="1" fill="#3c50a9"/>
<rect x="44" y="437" width="27.0" height="1" fill="#dc1f2e"/>
<rect x="71" y="437" width="27.0" height="1" fill="#da1f30"/>
<rect x="98" y="437" width="27.6" height="1" fill="#da1f30"/>
<rect x="125.6" y="437" width="27.4" height="1" fill="#3e4ea8"/>
<rect x="153" y="437" width="27.0" height="1" fill="#3d4fa9"/>
<rect x="180" y="437" width="26.5" height="1" fill="#3a50a9"/>
<rect x="44" y="438" width="27.0" height="1" fill="#d91f31"/>
<rect x="71" y="438" width="27.0" height="1" fill="#dc1f2e"/>
<rect x="98" y="438" width="27.6" height="1" fill="#d72033"/>
<rect x="125.6" y="438" width="27.4" height="1" fill="#3c50a9"/>
<rect x="153" y="438" width="27.0" height="1" fill="#3d4fa9"/>
<rect x="180" y="438" width="26.5" height="1" fill="#3c50a9"/>
<rect x="44" y="439" width="27.0" height="1" fill="#d91f31"/>
<rect x="71" y="439" width="27.0" height="1" fill="#d91f30"/>
<rect x="98" y="439" width="27.6" height="1" fill="#dc1f2e"/>
<rect x="125.6" y="439" width="27.4" height="1" fill="#3c4fa9"/>
<rect x="153" y="439" width="27.0" height="1" fill="#3d4fa9"/>
<rect x="180" y="439" width="26.5" height="1" fill="#3b50a9"/>
<rect x="44" y="440" width="27.0" height="1" fill="#dc1f2e"/>
<rect x="71" y="440" width="27.0" height="1" fill="#d81f32"/>
<rect x="98" y="440" width="27.6" height="1" fill="#d81f32"/>
<rect x="125.6" y="440" width="27.4" height="1" fill="#3852aa"/>
<rect x="153" y="440" width="27.0" height="1" fill="#3852aa"/>
<rect x="180" y="440" width="26.5" height="1" fill="#3852aa"/>
<rect x="44" y="441" width="27.0" height="1" fill="#d81f31"/>
<rect x="71" y="441" width="27.0" height="1" fill="#db1f2f"/>
<rect x="98" y="441" width="27.6" height="1" fill="#d72032"/>
<rect x="125.6" y="441" width="27.4" height="1" fill="#3852aa"/>
<rect x="153" y="441" width="27.0" height="1" fill="#3852aa"/>
<rect x="180" y="441" width="26.5" height="1" fill="#3852aa"/>
<rect x="44" y="442" width="27.0" height="1" fill="#e01e2a"/>
<rect x="71" y="442" width="27.0" height="1" fill="#e01e2a"/>
<rect x="98" y="442" width="27.6" height="1" fill="#e01e2a"/>
<rect x="125.6" y="442" width="27.4" height="1" fill="#454aa6"/>
<rect x="153" y="442" width="27.0" height="1" fill="#454aa6"/>
<rect x="180" y="442" width="26.5" height="1" fill="#414ca7"/>
</g>
<text x="278.8" y="231.3" font-size="11" text-anchor="start" fill="#222" font-weight="bold">C</text>
<defs><clipPath id="clA"><path d="M422.7 420.3L421.5 421.3L420.3 422.3L419.0 423.3L417.6 424.1L416.1 424.8L414.6 425.5L413.0 426.1L411.3 426.6L409.6 427.0L407.8 427.3L406.0 427.6L404.1 427.7L402.1 427.8L400.1 427.7L398.1 427.6L396.0 427.4L393.8 427.1L391.6 426.8L389.4 426.3L387.1 425.8L384.8 425.1L382.5 424.4L380.1 423.6L377.7 422.8L375.3 421.8L372.8 420.8L370.4 419.6L367.9 418.4L365.4 417.2L362.9 415.8L360.5 414.4L358.0 412.9L355.5 411.3L353.0 409.7L350.5 408.0L348.0 406.3L345.6 404.5L343.1 402.6L340.7 400.7L338.3 398.7L335.9 396.6L333.5 394.5L331.2 392.4L328.9 390.2L326.7 388.0L324.5 385.7L322.3 383.5L320.2 381.1L318.1 378.8L316.1 376.4L314.1 374.0L312.2 371.5L310.3 369.1L308.5 366.6L306.7 364.1L305.1 361.6L303.4 359.1L301.9 356.6L300.4 354.1L299.0 351.6L297.7 349.1L296.4 346.7L295.2 344.2L294.1 341.7L293.1 339.3L292.1 336.9L291.2 334.5L290.5 332.1L289.8 329.8L289.1 327.4L288.6 325.2L288.1 322.9L287.8 320.7L287.5 318.6L287.3 316.5L287.2 314.4L287.2 312.4L287.3 310.4L287.4 308.5L287.7 306.7L288.0 304.9L288.4 303.2L288.9 301.5L289.5 300.0L290.2 298.4L290.9 297.0L291.8 295.6L292.7 294.3L293.7 293.1L294.7 291.9L295.9 290.9L297.1 289.9L298.4 288.9L299.8 288.1L301.3 287.4L302.8 286.7L304.4 286.1L306.1 285.6L307.8 285.2L309.6 284.9L311.4 284.6L313.3 284.5L315.3 284.4L317.3 284.5L319.3 284.6L321.4 284.8L323.6 285.1L325.8 285.4L328.0 285.9L330.3 286.4L332.6 287.1L334.9 287.8L337.3 288.6L339.7 289.4L342.1 290.4L344.6 291.4L347.0 292.6L349.5 293.8L352.0 295.0L354.5 296.4L356.9 297.8L359.4 299.3L361.9 300.9L364.4 302.5L366.9 304.2L369.4 305.9L371.8 307.7L374.3 309.6L376.7 311.5L379.1 313.5L381.5 315.6L383.9 317.7L386.2 319.8L388.5 322.0L390.7 324.2L392.9 326.5L395.1 328.7L397.2 331.1L399.3 333.4L401.3 335.8L403.3 338.2L405.2 340.7L407.1 343.1L408.9 345.6L410.7 348.1L412.3 350.6L414.0 353.1L415.5 355.6L417.0 358.1L418.4 360.6L419.7 363.1L421.0 365.5L422.2 368.0L423.3 370.5L424.3 372.9L425.3 375.3L426.2 377.7L426.9 380.1L427.6 382.4L428.3 384.8L428.8 387.0L429.3 389.3L429.6 391.5L429.9 393.6L430.1 395.7L430.2 397.8L430.2 399.8L430.1 401.8L430.0 403.7L429.7 405.5L429.4 407.3L429.0 409.0L428.5 410.7L427.9 412.2L427.2 413.8L426.5 415.2L425.6 416.6L424.7 417.9L423.7 419.1Z"/></clipPath><clipPath id="clB"><path d="M463.9 398.5L462.7 399.5L461.5 400.5L460.3 401.4L458.9 402.2L457.5 402.9L456.0 403.6L454.4 404.1L452.8 404.6L451.1 405.0L449.3 405.3L447.5 405.5L445.6 405.7L443.7 405.7L441.7 405.7L439.6 405.5L437.5 405.3L435.4 405.0L433.2 404.6L430.9 404.1L428.7 403.6L426.4 402.9L424.0 402.2L421.6 401.4L419.2 400.5L416.8 399.5L414.3 398.4L411.9 397.3L409.4 396.1L406.9 394.8L404.4 393.4L401.8 392.0L399.3 390.5L396.8 388.9L394.3 387.3L391.8 385.6L389.2 383.8L386.8 382.0L384.3 380.1L381.8 378.1L379.4 376.1L376.9 374.1L374.5 372.0L372.2 369.8L369.8 367.6L367.5 365.4L365.3 363.1L363.1 360.8L360.9 358.5L358.7 356.1L356.7 353.7L354.6 351.3L352.6 348.9L350.7 346.4L348.9 343.9L347.0 341.5L345.3 339.0L343.6 336.5L342.0 334.0L340.5 331.5L339.0 329.0L337.6 326.5L336.3 324.0L335.0 321.5L333.9 319.1L332.8 316.6L331.8 314.2L330.8 311.8L330.0 309.4L329.2 307.1L328.5 304.8L327.9 302.5L327.4 300.3L327.0 298.1L326.7 296.0L326.4 293.9L326.2 291.8L326.2 289.8L326.2 287.9L326.3 286.0L326.5 284.2L326.8 282.4L327.1 280.7L327.6 279.1L328.1 277.5L328.8 276.0L329.5 274.5L330.3 273.2L331.1 271.9L332.1 270.7L333.1 269.5L334.3 268.5L335.5 267.5L336.7 266.6L338.1 265.8L339.5 265.1L341.0 264.4L342.6 263.9L344.2 263.4L345.9 263.0L347.7 262.7L349.5 262.5L351.4 262.3L353.3 262.3L355.3 262.3L357.4 262.5L359.5 262.7L361.6 263.0L363.8 263.4L366.1 263.9L368.3 264.4L370.6 265.1L373.0 265.8L375.4 266.6L377.8 267.5L380.2 268.5L382.7 269.6L385.1 270.7L387.6 271.9L390.1 273.2L392.6 274.6L395.2 276.0L397.7 277.5L400.2 279.1L402.7 280.7L405.2 282.4L407.8 284.2L410.2 286.0L412.7 287.9L415.2 289.9L417.6 291.9L420.1 293.9L422.5 296.0L424.8 298.2L427.2 300.4L429.5 302.6L431.7 304.9L433.9 307.2L436.1 309.5L438.3 311.9L440.3 314.3L442.4 316.7L444.4 319.1L446.3 321.6L448.1 324.1L450.0 326.5L451.7 329.0L453.4 331.5L455.0 334.0L456.5 336.5L458.0 339.0L459.4 341.5L460.7 344.0L462.0 346.5L463.1 348.9L464.2 351.4L465.2 353.8L466.2 356.2L467.0 358.6L467.8 360.9L468.5 363.2L469.1 365.5L469.6 367.7L470.0 369.9L470.3 372.0L470.6 374.1L470.8 376.2L470.8 378.2L470.8 380.1L470.7 382.0L470.5 383.8L470.2 385.6L469.9 387.3L469.4 388.9L468.9 390.5L468.2 392.0L467.5 393.5L466.7 394.8L465.9 396.1L464.9 397.3Z"/></clipPath><clipPath id="clC"><path d="M471.4 269.5L472.4 270.7L473.4 271.9L474.2 273.2L475.0 274.5L475.7 276.0L476.4 277.5L476.9 279.1L477.4 280.7L477.7 282.4L478.0 284.2L478.2 286.0L478.3 287.9L478.3 289.8L478.3 291.8L478.1 293.9L477.8 296.0L477.5 298.1L477.1 300.3L476.6 302.5L476.0 304.8L475.3 307.1L474.5 309.4L473.7 311.8L472.7 314.2L471.7 316.6L470.6 319.1L469.5 321.5L468.2 324.0L466.9 326.5L465.5 329.0L464.0 331.5L462.5 334.0L460.9 336.5L459.2 339.0L457.5 341.5L455.6 343.9L453.8 346.4L451.9 348.9L449.9 351.3L447.8 353.7L445.8 356.1L443.6 358.5L441.4 360.8L439.2 363.1L437.0 365.4L434.7 367.6L432.3 369.8L430.0 372.0L427.6 374.1L425.1 376.1L422.7 378.1L420.2 380.1L417.7 382.0L415.3 383.8L412.7 385.6L410.2 387.3L407.7 388.9L405.2 390.5L402.7 392.0L400.1 393.4L397.6 394.8L395.1 396.1L392.6 397.3L390.2 398.4L387.7 399.5L385.3 400.5L382.9 401.4L380.5 402.2L378.1 402.9L375.8 403.6L373.6 404.1L371.3 404.6L369.1 405.0L367.0 405.3L364.9 405.5L362.8 405.7L360.8 405.7L358.9 405.7L357.0 405.5L355.2 405.3L353.4 405.0L351.7 404.6L350.1 404.1L348.5 403.6L347.0 402.9L345.6 402.2L344.2 401.4L343.0 400.5L341.8 399.5L340.6 398.5L339.6 397.3L338.6 396.1L337.8 394.8L337.0 393.5L336.3 392.0L335.6 390.5L335.1 388.9L334.6 387.3L334.3 385.6L334.0 383.8L333.8 382.0L333.7 380.1L333.7 378.2L333.7 376.2L333.9 374.1L334.2 372.0L334.5 369.9L334.9 367.7L335.4 365.5L336.0 363.2L336.7 360.9L337.5 358.6L338.3 356.2L339.3 353.8L340.3 351.4L341.4 348.9L342.5 346.5L343.8 344.0L345.1 341.5L346.5 339.0L348.0 336.5L349.5 334.0L351.1 331.5L352.8 329.0L354.5 326.5L356.4 324.1L358.2 321.6L360.1 319.1L362.1 316.7L364.2 314.3L366.2 311.9L368.4 309.5L370.6 307.2L372.8 304.9L375.0 302.6L377.3 300.4L379.7 298.2L382.0 296.0L384.4 293.9L386.9 291.9L389.3 289.9L391.8 287.9L394.3 286.0L396.7 284.2L399.3 282.4L401.8 280.7L404.3 279.1L406.8 277.5L409.3 276.0L411.9 274.6L414.4 273.2L416.9 271.9L419.4 270.7L421.8 269.6L424.3 268.5L426.7 267.5L429.1 266.6L431.5 265.8L433.9 265.1L436.2 264.4L438.4 263.9L440.7 263.4L442.9 263.0L445.0 262.7L447.1 262.5L449.2 262.3L451.2 262.3L453.1 262.3L455.0 262.5L456.8 262.7L458.6 263.0L460.3 263.4L461.9 263.9L463.5 264.4L465.0 265.1L466.4 265.8L467.8 266.6L469.0 267.5L470.2 268.5Z"/></clipPath><clipPath id="clD"><path d="M509.8 291.9L510.8 293.1L511.8 294.3L512.7 295.6L513.6 297.0L514.3 298.4L515.0 300.0L515.6 301.5L516.1 303.2L516.5 304.9L516.8 306.7L517.1 308.5L517.2 310.4L517.3 312.4L517.3 314.4L517.2 316.5L517.0 318.6L516.7 320.7L516.4 322.9L515.9 325.2L515.4 327.4L514.7 329.8L514.0 332.1L513.3 334.5L512.4 336.9L511.4 339.3L510.4 341.7L509.3 344.2L508.1 346.7L506.8 349.1L505.5 351.6L504.1 354.1L502.6 356.6L501.1 359.1L499.4 361.6L497.8 364.1L496.0 366.6L494.2 369.1L492.3 371.5L490.4 374.0L488.4 376.4L486.4 378.8L484.3 381.1L482.2 383.5L480.0 385.7L477.8 388.0L475.6 390.2L473.3 392.4L471.0 394.5L468.6 396.6L466.2 398.7L463.8 400.7L461.4 402.6L458.9 404.5L456.5 406.3L454.0 408.0L451.5 409.7L449.0 411.3L446.5 412.9L444.0 414.4L441.6 415.8L439.1 417.2L436.6 418.4L434.1 419.6L431.7 420.8L429.2 421.8L426.8 422.8L424.4 423.6L422.0 424.4L419.7 425.1L417.4 425.8L415.1 426.3L412.9 426.8L410.7 427.1L408.5 427.4L406.4 427.6L404.4 427.7L402.4 427.8L400.4 427.7L398.5 427.6L396.7 427.3L394.9 427.0L393.2 426.6L391.5 426.1L389.9 425.5L388.4 424.8L386.9 424.1L385.5 423.3L384.2 422.3L383.0 421.3L381.8 420.3L380.8 419.1L379.8 417.9L378.9 416.6L378.0 415.2L377.3 413.8L376.6 412.2L376.0 410.7L375.5 409.0L375.1 407.3L374.8 405.5L374.5 403.7L374.4 401.8L374.3 399.8L374.3 397.8L374.4 395.7L374.6 393.6L374.9 391.5L375.2 389.3L375.7 387.0L376.2 384.8L376.9 382.4L377.6 380.1L378.3 377.7L379.2 375.3L380.2 372.9L381.2 370.5L382.3 368.0L383.5 365.5L384.8 363.1L386.1 360.6L387.5 358.1L389.0 355.6L390.5 353.1L392.2 350.6L393.8 348.1L395.6 345.6L397.4 343.1L399.3 340.7L401.2 338.2L403.2 335.8L405.2 333.4L407.3 331.1L409.4 328.7L411.6 326.5L413.8 324.2L416.0 322.0L418.3 319.8L420.6 317.7L423.0 315.6L425.4 313.5L427.8 311.5L430.2 309.6L432.7 307.7L435.1 305.9L437.6 304.2L440.1 302.5L442.6 300.9L445.1 299.3L447.6 297.8L450.0 296.4L452.5 295.0L455.0 293.8L457.5 292.6L459.9 291.4L462.4 290.4L464.8 289.4L467.2 288.6L469.6 287.8L471.9 287.1L474.2 286.4L476.5 285.9L478.7 285.4L480.9 285.1L483.1 284.8L485.2 284.6L487.2 284.5L489.2 284.4L491.2 284.5L493.1 284.6L494.9 284.9L496.7 285.2L498.4 285.6L500.1 286.1L501.7 286.7L503.2 287.4L504.7 288.1L506.1 288.9L507.4 289.9L508.6 290.9Z"/></clipPath></defs>
<path d="M422.7 420.3L421.5 421.3L420.3 422.3L419.0 423.3L417.6 424.1L416.1 424.8L414.6 425.5L413.0 426.1L411.3 426.6L409.6 427.0L407.8 427.3L406.0 427.6L404.1 427.7L402.1 427.8L400.1 427.7L398.1 427.6L396.0 427.4L393.8 427.1L391.6 426.8L389.4 426.3L387.1 425.8L384.8 425.1L382.5 424.4L380.1 423.6L377.7 422.8L375.3 421.8L372.8 420.8L370.4 419.6L367.9 418.4L365.4 417.2L362.9 415.8L360.5 414.4L358.0 412.9L355.5 411.3L353.0 409.7L350.5 408.0L348.0 406.3L345.6 404.5L343.1 402.6L340.7 400.7L338.3 398.7L335.9 396.6L333.5 394.5L331.2 392.4L328.9 390.2L326.7 388.0L324.5 385.7L322.3 383.5L320.2 381.1L318.1 378.8L316.1 376.4L314.1 374.0L312.2 371.5L310.3 369.1L308.5 366.6L306.7 364.1L305.1 361.6L303.4 359.1L301.9 356.6L300.4 354.1L299.0 351.6L297.7 349.1L296.4 346.7L295.2 344.2L294.1 341.7L293.1 339.3L292.1 336.9L291.2 334.5L290.5 332.1L289.8 329.8L289.1 327.4L288.6 325.2L288.1 322.9L287.8 320.7L287.5 318.6L287.3 316.5L287.2 314.4L287.2 312.4L287.3 310.4L287.4 308.5L287.7 306.7L288.0 304.9L288.4 303.2L288.9 301.5L289.5 300.0L290.2 298.4L290.9 297.0L291.8 295.6L292.7 294.3L293.7 293.1L294.7 291.9L295.9 290.9L297.1 289.9L298.4 288.9L299.8 288.1L301.3 287.4L302.8 286.7L304.4 286.1L306.1 285.6L307.8 285.2L309.6 284.9L311.4 284.6L313.3 284.5L315.3 284.4L317.3 284.5L319.3 284.6L321.4 284.8L323.6 285.1L325.8 285.4L328.0 285.9L330.3 286.4L332.6 287.1L334.9 287.8L337.3 288.6L339.7 289.4L342.1 290.4L344.6 291.4L347.0 292.6L349.5 293.8L352.0 295.0L354.5 296.4L356.9 297.8L359.4 299.3L361.9 300.9L364.4 302.5L366.9 304.2L369.4 305.9L371.8 307.7L374.3 309.6L376.7 311.5L379.1 313.5L381.5 315.6L383.9 317.7L386.2 319.8L388.5 322.0L390.7 324.2L392.9 326.5L395.1 328.7L397.2 331.1L399.3 333.4L401.3 335.8L403.3 338.2L405.2 340.7L407.1 343.1L408.9 345.6L410.7 348.1L412.3 350.6L414.0 353.1L415.5 355.6L417.0 358.1L418.4 360.6L419.7 363.1L421.0 365.5L422.2 368.0L423.3 370.5L424.3 372.9L425.3 375.3L426.2 377.7L426.9 380.1L427.6 382.4L428.3 384.8L428.8 387.0L429.3 389.3L429.6 391.5L429.9 393.6L430.1 395.7L430.2 397.8L430.2 399.8L430.1 401.8L430.0 403.7L429.7 405.5L429.4 407.3L429.0 409.0L428.5 410.7L427.9 412.2L427.2 413.8L426.5 415.2L425.6 416.6L424.7 417.9L423.7 419.1Z" fill="#acb4dd"/>
<path d="M463.9 398.5L462.7 399.5L461.5 400.5L460.3 401.4L458.9 402.2L457.5 402.9L456.0 403.6L454.4 404.1L452.8 404.6L451.1 405.0L449.3 405.3L447.5 405.5L445.6 405.7L443.7 405.7L441.7 405.7L439.6 405.5L437.5 405.3L435.4 405.0L433.2 404.6L430.9 404.1L428.7 403.6L426.4 402.9L424.0 402.2L421.6 401.4L419.2 400.5L416.8 399.5L414.3 398.4L411.9 397.3L409.4 396.1L406.9 394.8L404.4 393.4L401.8 392.0L399.3 390.5L396.8 388.9L394.3 387.3L391.8 385.6L389.2 383.8L386.8 382.0L384.3 380.1L381.8 378.1L379.4 376.1L376.9 374.1L374.5 372.0L372.2 369.8L369.8 367.6L367.5 365.4L365.3 363.1L363.1 360.8L360.9 358.5L358.7 356.1L356.7 353.7L354.6 351.3L352.6 348.9L350.7 346.4L348.9 343.9L347.0 341.5L345.3 339.0L343.6 336.5L342.0 334.0L340.5 331.5L339.0 329.0L337.6 326.5L336.3 324.0L335.0 321.5L333.9 319.1L332.8 316.6L331.8 314.2L330.8 311.8L330.0 309.4L329.2 307.1L328.5 304.8L327.9 302.5L327.4 300.3L327.0 298.1L326.7 296.0L326.4 293.9L326.2 291.8L326.2 289.8L326.2 287.9L326.3 286.0L326.5 284.2L326.8 282.4L327.1 280.7L327.6 279.1L328.1 277.5L328.8 276.0L329.5 274.5L330.3 273.2L331.1 271.9L332.1 270.7L333.1 269.5L334.3 268.5L335.5 267.5L336.7 266.6L338.1 265.8L339.5 265.1L341.0 264.4L342.6 263.9L344.2 263.4L345.9 263.0L347.7 262.7L349.5 262.5L351.4 262.3L353.3 262.3L355.3 262.3L357.4 262.5L359.5 262.7L361.6 263.0L363.8 263.4L366.1 263.9L368.3 264.4L370.6 265.1L373.0 265.8L375.4 266.6L377.8 267.5L380.2 268.5L382.7 269.6L385.1 270.7L387.6 271.9L390.1 273.2L392.6 274.6L395.2 276.0L397.7 277.5L400.2 279.1L402.7 280.7L405.2 282.4L407.8 284.2L410.2 286.0L412.7 287.9L415.2 289.9L417.6 291.9L420.1 293.9L422.5 296.0L424.8 298.2L427.2 300.4L429.5 302.6L431.7 304.9L433.9 307.2L436.1 309.5L438.3 311.9L440.3 314.3L442.4 316.7L444.4 319.1L446.3 321.6L448.1 324.1L450.0 326.5L451.7 329.0L453.4 331.5L455.0 334.0L456.5 336.5L458.0 339.0L459.4 341.5L460.7 344.0L462.0 346.5L463.1 348.9L464.2 351.4L465.2 353.8L466.2 356.2L467.0 358.6L467.8 360.9L468.5 363.2L469.1 365.5L469.6 367.7L470.0 369.9L470.3 372.0L470.6 374.1L470.8 376.2L470.8 378.2L470.8 380.1L470.7 382.0L470.5 383.8L470.2 385.6L469.9 387.3L469.4 388.9L468.9 390.5L468.2 392.0L467.5 393.5L466.7 394.8L465.9 396.1L464.9 397.3Z" fill="#f5f0b8"/>
<path d="M471.4 269.5L472.4 270.7L473.4 271.9L474.2 273.2L475.0 274.5L475.7 276.0L476.4 277.5L476.9 279.1L477.4 280.7L477.7 282.4L478.0 284.2L478.2 286.0L478.3 287.9L478.3 289.8L478.3 291.8L478.1 293.9L477.8 296.0L477.5 298.1L477.1 300.3L476.6 302.5L476.0 304.8L475.3 307.1L474.5 309.4L473.7 311.8L472.7 314.2L471.7 316.6L470.6 319.1L469.5 321.5L468.2 324.0L466.9 326.5L465.5 329.0L464.0 331.5L462.5 334.0L460.9 336.5L459.2 339.0L457.5 341.5L455.6 343.9L453.8 346.4L451.9 348.9L449.9 351.3L447.8 353.7L445.8 356.1L443.6 358.5L441.4 360.8L439.2 363.1L437.0 365.4L434.7 367.6L432.3 369.8L430.0 372.0L427.6 374.1L425.1 376.1L422.7 378.1L420.2 380.1L417.7 382.0L415.3 383.8L412.7 385.6L410.2 387.3L407.7 388.9L405.2 390.5L402.7 392.0L400.1 393.4L397.6 394.8L395.1 396.1L392.6 397.3L390.2 398.4L387.7 399.5L385.3 400.5L382.9 401.4L380.5 402.2L378.1 402.9L375.8 403.6L373.6 404.1L371.3 404.6L369.1 405.0L367.0 405.3L364.9 405.5L362.8 405.7L360.8 405.7L358.9 405.7L357.0 405.5L355.2 405.3L353.4 405.0L351.7 404.6L350.1 404.1L348.5 403.6L347.0 402.9L345.6 402.2L344.2 401.4L343.0 400.5L341.8 399.5L340.6 398.5L339.6 397.3L338.6 396.1L337.8 394.8L337.0 393.5L336.3 392.0L335.6 390.5L335.1 388.9L334.6 387.3L334.3 385.6L334.0 383.8L333.8 382.0L333.7 380.1L333.7 378.2L333.7 376.2L333.9 374.1L334.2 372.0L334.5 369.9L334.9 367.7L335.4 365.5L336.0 363.2L336.7 360.9L337.5 358.6L338.3 356.2L339.3 353.8L340.3 351.4L341.4 348.9L342.5 346.5L343.8 344.0L345.1 341.5L346.5 339.0L348.0 336.5L349.5 334.0L351.1 331.5L352.8 329.0L354.5 326.5L356.4 324.1L358.2 321.6L360.1 319.1L362.1 316.7L364.2 314.3L366.2 311.9L368.4 309.5L370.6 307.2L372.8 304.9L375.0 302.6L377.3 300.4L379.7 298.2L382.0 296.0L384.4 293.9L386.9 291.9L389.3 289.9L391.8 287.9L394.3 286.0L396.7 284.2L399.3 282.4L401.8 280.7L404.3 279.1L406.8 277.5L409.3 276.0L411.9 274.6L414.4 273.2L416.9 271.9L419.4 270.7L421.8 269.6L424.3 268.5L426.7 267.5L429.1 266.6L431.5 265.8L433.9 265.1L436.2 264.4L438.4 263.9L440.7 263.4L442.9 263.0L445.0 262.7L447.1 262.5L449.2 262.3L451.2 262.3L453.1 262.3L455.0 262.5L456.8 262.7L458.6 263.0L460.3 263.4L461.9 263.9L463.5 264.4L465.0 265.1L466.4 265.8L467.8 266.6L469.0 267.5L470.2 268.5Z" fill="#a8d8b4"/>
<path d="M509.8 291.9L510.8 293.1L511.8 294.3L512.7 295.6L513.6 297.0L514.3 298.4L515.0 300.0L515.6 301.5L516.1 303.2L516.5 304.9L516.8 306.7L517.1 308.5L517.2 310.4L517.3 312.4L517.3 314.4L517.2 316.5L517.0 318.6L516.7 320.7L516.4 322.9L515.9 325.2L515.4 327.4L514.7 329.8L514.0 332.1L513.3 334.5L512.4 336.9L511.4 339.3L510.4 341.7L509.3 344.2L508.1 346.7L506.8 349.1L505.5 351.6L504.1 354.1L502.6 356.6L501.1 359.1L499.4 361.6L497.8 364.1L496.0 366.6L494.2 369.1L492.3 371.5L490.4 374.0L488.4 376.4L486.4 378.8L484.3 381.1L482.2 383.5L480.0 385.7L477.8 388.0L475.6 390.2L473.3 392.4L471.0 394.5L468.6 396.6L466.2 398.7L463.8 400.7L461.4 402.6L458.9 404.5L456.5 406.3L454.0 408.0L451.5 409.7L449.0 411.3L446.5 412.9L444.0 414.4L441.6 415.8L439.1 417.2L436.6 418.4L434.1 419.6L431.7 420.8L429.2 421.8L426.8 422.8L424.4 423.6L422.0 424.4L419.7 425.1L417.4 425.8L415.1 426.3L412.9 426.8L410.7 427.1L408.5 427.4L406.4 427.6L404.4 427.7L402.4 427.8L400.4 427.7L398.5 427.6L396.7 427.3L394.9 427.0L393.2 426.6L391.5 426.1L389.9 425.5L388.4 424.8L386.9 424.1L385.5 423.3L384.2 422.3L383.0 421.3L381.8 420.3L380.8 419.1L379.8 417.9L378.9 416.6L378.0 415.2L377.3 413.8L376.6 412.2L376.0 410.7L375.5 409.0L375.1 407.3L374.8 405.5L374.5 403.7L374.4 401.8L374.3 399.8L374.3 397.8L374.4 395.7L374.6 393.6L374.9 391.5L375.2 389.3L375.7 387.0L376.2 384.8L376.9 382.4L377.6 380.1L378.3 377.7L379.2 375.3L380.2 372.9L381.2 370.5L382.3 368.0L383.5 365.5L384.8 363.1L386.1 360.6L387.5 358.1L389.0 355.6L390.5 353.1L392.2 350.6L393.8 348.1L395.6 345.6L397.4 343.1L399.3 340.7L401.2 338.2L403.2 335.8L405.2 333.4L407.3 331.1L409.4 328.7L411.6 326.5L413.8 324.2L416.0 322.0L418.3 319.8L420.6 317.7L423.0 315.6L425.4 313.5L427.8 311.5L430.2 309.6L432.7 307.7L435.1 305.9L437.6 304.2L440.1 302.5L442.6 300.9L445.1 299.3L447.6 297.8L450.0 296.4L452.5 295.0L455.0 293.8L457.5 292.6L459.9 291.4L462.4 290.4L464.8 289.4L467.2 288.6L469.6 287.8L471.9 287.1L474.2 286.4L476.5 285.9L478.7 285.4L480.9 285.1L483.1 284.8L485.2 284.6L487.2 284.5L489.2 284.4L491.2 284.5L493.1 284.6L494.9 284.9L496.7 285.2L498.4 285.6L500.1 286.1L501.7 286.7L503.2 287.4L504.7 288.1L506.1 288.9L507.4 289.9L508.6 290.9Z" fill="#f2b8b8"/>
<g clip-path="url(#clA)"><path d="M463.9 398.5L462.7 399.5L461.5 400.5L460.3 401.4L458.9 402.2L457.5 402.9L456.0 403.6L454.4 404.1L452.8 404.6L451.1 405.0L449.3 405.3L447.5 405.5L445.6 405.7L443.7 405.7L441.7 405.7L439.6 405.5L437.5 405.3L435.4 405.0L433.2 404.6L430.9 404.1L428.7 403.6L426.4 402.9L424.0 402.2L421.6 401.4L419.2 400.5L416.8 399.5L414.3 398.4L411.9 397.3L409.4 396.1L406.9 394.8L404.4 393.4L401.8 392.0L399.3 390.5L396.8 388.9L394.3 387.3L391.8 385.6L389.2 383.8L386.8 382.0L384.3 380.1L381.8 378.1L379.4 376.1L376.9 374.1L374.5 372.0L372.2 369.8L369.8 367.6L367.5 365.4L365.3 363.1L363.1 360.8L360.9 358.5L358.7 356.1L356.7 353.7L354.6 351.3L352.6 348.9L350.7 346.4L348.9 343.9L347.0 341.5L345.3 339.0L343.6 336.5L342.0 334.0L340.5 331.5L339.0 329.0L337.6 326.5L336.3 324.0L335.0 321.5L333.9 319.1L332.8 316.6L331.8 314.2L330.8 311.8L330.0 309.4L329.2 307.1L328.5 304.8L327.9 302.5L327.4 300.3L327.0 298.1L326.7 296.0L326.4 293.9L326.2 291.8L326.2 289.8L326.2 287.9L326.3 286.0L326.5 284.2L326.8 282.4L327.1 280.7L327.6 279.1L328.1 277.5L328.8 276.0L329.5 274.5L330.3 273.2L331.1 271.9L332.1 270.7L333.1 269.5L334.3 268.5L335.5 267.5L336.7 266.6L338.1 265.8L339.5 265.1L341.0 264.4L342.6 263.9L344.2 263.4L345.9 263.0L347.7 262.7L349.5 262.5L351.4 262.3L353.3 262.3L355.3 262.3L357.4 262.5L359.5 262.7L361.6 263.0L363.8 263.4L366.1 263.9L368.3 264.4L370.6 265.1L373.0 265.8L375.4 266.6L377.8 267.5L380.2 268.5L382.7 269.6L385.1 270.7L387.6 271.9L390.1 273.2L392.6 274.6L395.2 276.0L397.7 277.5L400.2 279.1L402.7 280.7L405.2 282.4L407.8 284.2L410.2 286.0L412.7 287.9L415.2 289.9L417.6 291.9L420.1 293.9L422.5 296.0L424.8 298.2L427.2 300.4L429.5 302.6L431.7 304.9L433.9 307.2L436.1 309.5L438.3 311.9L440.3 314.3L442.4 316.7L444.4 319.1L446.3 321.6L448.1 324.1L450.0 326.5L451.7 329.0L453.4 331.5L455.0 334.0L456.5 336.5L458.0 339.0L459.4 341.5L460.7 344.0L462.0 346.5L463.1 348.9L464.2 351.4L465.2 353.8L466.2 356.2L467.0 358.6L467.8 360.9L468.5 363.2L469.1 365.5L469.6 367.7L470.0 369.9L470.3 372.0L470.6 374.1L470.8 376.2L470.8 378.2L470.8 380.1L470.7 382.0L470.5 383.8L470.2 385.6L469.9 387.3L469.4 388.9L468.9 390.5L468.2 392.0L467.5 393.5L466.7 394.8L465.9 396.1L464.9 397.3Z" fill="#cfcfc0"/></g>
<g clip-path="url(#clA)"><path d="M471.4 269.5L472.4 270.7L473.4 271.9L474.2 273.2L475.0 274.5L475.7 276.0L476.4 277.5L476.9 279.1L477.4 280.7L477.7 282.4L478.0 284.2L478.2 286.0L478.3 287.9L478.3 289.8L478.3 291.8L478.1 293.9L477.8 296.0L477.5 298.1L477.1 300.3L476.6 302.5L476.0 304.8L475.3 307.1L474.5 309.4L473.7 311.8L472.7 314.2L471.7 316.6L470.6 319.1L469.5 321.5L468.2 324.0L466.9 326.5L465.5 329.0L464.0 331.5L462.5 334.0L460.9 336.5L459.2 339.0L457.5 341.5L455.6 343.9L453.8 346.4L451.9 348.9L449.9 351.3L447.8 353.7L445.8 356.1L443.6 358.5L441.4 360.8L439.2 363.1L437.0 365.4L434.7 367.6L432.3 369.8L430.0 372.0L427.6 374.1L425.1 376.1L422.7 378.1L420.2 380.1L417.7 382.0L415.3 383.8L412.7 385.6L410.2 387.3L407.7 388.9L405.2 390.5L402.7 392.0L400.1 393.4L397.6 394.8L395.1 396.1L392.6 397.3L390.2 398.4L387.7 399.5L385.3 400.5L382.9 401.4L380.5 402.2L378.1 402.9L375.8 403.6L373.6 404.1L371.3 404.6L369.1 405.0L367.0 405.3L364.9 405.5L362.8 405.7L360.8 405.7L358.9 405.7L357.0 405.5L355.2 405.3L353.4 405.0L351.7 404.6L350.1 404.1L348.5 403.6L347.0 402.9L345.6 402.2L344.2 401.4L343.0 400.5L341.8 399.5L340.6 398.5L339.6 397.3L338.6 396.1L337.8 394.8L337.0 393.5L336.3 392.0L335.6 390.5L335.1 388.9L334.6 387.3L334.3 385.6L334.0 383.8L333.8 382.0L333.7 380.1L333.7 378.2L333.7 376.2L333.9 374.1L334.2 372.0L334.5 369.9L334.9 367.7L335.4 365.5L336.0 363.2L336.7 360.9L337.5 358.6L338.3 356.2L339.3 353.8L340.3 351.4L341.4 348.9L342.5 346.5L343.8 344.0L345.1 341.5L346.5 339.0L348.0 336.5L349.5 334.0L351.1 331.5L352.8 329.0L354.5 326.5L356.4 324.1L358.2 321.6L360.1 319.1L362.1 316.7L364.2 314.3L366.2 311.9L368.4 309.5L370.6 307.2L372.8 304.9L375.0 302.6L377.3 300.4L379.7 298.2L382.0 296.0L384.4 293.9L386.9 291.9L389.3 289.9L391.8 287.9L394.3 286.0L396.7 284.2L399.3 282.4L401.8 280.7L404.3 279.1L406.8 277.5L409.3 276.0L411.9 274.6L414.4 273.2L416.9 271.9L419.4 270.7L421.8 269.6L424.3 268.5L426.7 267.5L429.1 266.6L431.5 265.8L433.9 265.1L436.2 264.4L438.4 263.9L440.7 263.4L442.9 263.0L445.0 262.7L447.1 262.5L449.2 262.3L451.2 262.3L453.1 262.3L455.0 262.5L456.8 262.7L458.6 263.0L460.3 263.4L461.9 263.9L463.5 264.4L465.0 265.1L466.4 265.8L467.8 266.6L469.0 267.5L470.2 268.5Z" fill="#66c4bc"/></g>
<g clip-path="url(#clA)"><path d="M509.8 291.9L510.8 293.1L511.8 294.3L512.7 295.6L513.6 297.0L514.3 298.4L515.0 300.0L515.6 301.5L516.1 303.2L516.5 304.9L516.8 306.7L517.1 308.5L517.2 310.4L517.3 312.4L517.3 314.4L517.2 316.5L517.0 318.6L516.7 320.7L516.4 322.9L515.9 325.2L515.4 327.4L514.7 329.8L514.0 332.1L513.3 334.5L512.4 336.9L511.4 339.3L510.4 341.7L509.3 344.2L508.1 346.7L506.8 349.1L505.5 351.6L504.1 354.1L502.6 356.6L501.1 359.1L499.4 361.6L497.8 364.1L496.0 366.6L494.2 369.1L492.3 371.5L490.4 374.0L488.4 376.4L486.4 378.8L484.3 381.1L482.2 383.5L480.0 385.7L477.8 388.0L475.6 390.2L473.3 392.4L471.0 394.5L468.6 396.6L466.2 398.7L463.8 400.7L461.4 402.6L458.9 404.5L456.5 406.3L454.0 408.0L451.5 409.7L449.0 411.3L446.5 412.9L444.0 414.4L441.6 415.8L439.1 417.2L436.6 418.4L434.1 419.6L431.7 420.8L429.2 421.8L426.8 422.8L424.4 423.6L422.0 424.4L419.7 425.1L417.4 425.8L415.1 426.3L412.9 426.8L410.7 427.1L408.5 427.4L406.4 427.6L404.4 427.7L402.4 427.8L400.4 427.7L398.5 427.6L396.7 427.3L394.9 427.0L393.2 426.6L391.5 426.1L389.9 425.5L388.4 424.8L386.9 424.1L385.5 423.3L384.2 422.3L383.0 421.3L381.8 420.3L380.8 419.1L379.8 417.9L378.9 416.6L378.0 415.2L377.3 413.8L376.6 412.2L376.0 410.7L375.5 409.0L375.1 407.3L374.8 405.5L374.5 403.7L374.4 401.8L374.3 399.8L374.3 397.8L374.4 395.7L374.6 393.6L374.9 391.5L375.2 389.3L375.7 387.0L376.2 384.8L376.9 382.4L377.6 380.1L378.3 377.7L379.2 375.3L380.2 372.9L381.2 370.5L382.3 368.0L383.5 365.5L384.8 363.1L386.1 360.6L387.5 358.1L389.0 355.6L390.5 353.1L392.2 350.6L393.8 348.1L395.6 345.6L397.4 343.1L399.3 340.7L401.2 338.2L403.2 335.8L405.2 333.4L407.3 331.1L409.4 328.7L411.6 326.5L413.8 324.2L416.0 322.0L418.3 319.8L420.6 317.7L423.0 315.6L425.4 313.5L427.8 311.5L430.2 309.6L432.7 307.7L435.1 305.9L437.6 304.2L440.1 302.5L442.6 300.9L445.1 299.3L447.6 297.8L450.0 296.4L452.5 295.0L455.0 293.8L457.5 292.6L459.9 291.4L462.4 290.4L464.8 289.4L467.2 288.6L469.6 287.8L471.9 287.1L474.2 286.4L476.5 285.9L478.7 285.4L480.9 285.1L483.1 284.8L485.2 284.6L487.2 284.5L489.2 284.4L491.2 284.5L493.1 284.6L494.9 284.9L496.7 285.2L498.4 285.6L500.1 286.1L501.7 286.7L503.2 287.4L504.7 288.1L506.1 288.9L507.4 289.9L508.6 290.9Z" fill="#d08cc0"/></g>
<g clip-path="url(#clB)"><path d="M471.4 269.5L472.4 270.7L473.4 271.9L474.2 273.2L475.0 274.5L475.7 276.0L476.4 277.5L476.9 279.1L477.4 280.7L477.7 282.4L478.0 284.2L478.2 286.0L478.3 287.9L478.3 289.8L478.3 291.8L478.1 293.9L477.8 296.0L477.5 298.1L477.1 300.3L476.6 302.5L476.0 304.8L475.3 307.1L474.5 309.4L473.7 311.8L472.7 314.2L471.7 316.6L470.6 319.1L469.5 321.5L468.2 324.0L466.9 326.5L465.5 329.0L464.0 331.5L462.5 334.0L460.9 336.5L459.2 339.0L457.5 341.5L455.6 343.9L453.8 346.4L451.9 348.9L449.9 351.3L447.8 353.7L445.8 356.1L443.6 358.5L441.4 360.8L439.2 363.1L437.0 365.4L434.7 367.6L432.3 369.8L430.0 372.0L427.6 374.1L425.1 376.1L422.7 378.1L420.2 380.1L417.7 382.0L415.3 383.8L412.7 385.6L410.2 387.3L407.7 388.9L405.2 390.5L402.7 392.0L400.1 393.4L397.6 394.8L395.1 396.1L392.6 397.3L390.2 398.4L387.7 399.5L385.3 400.5L382.9 401.4L380.5 402.2L378.1 402.9L375.8 403.6L373.6 404.1L371.3 404.6L369.1 405.0L367.0 405.3L364.9 405.5L362.8 405.7L360.8 405.7L358.9 405.7L357.0 405.5L355.2 405.3L353.4 405.0L351.7 404.6L350.1 404.1L348.5 403.6L347.0 402.9L345.6 402.2L344.2 401.4L343.0 400.5L341.8 399.5L340.6 398.5L339.6 397.3L338.6 396.1L337.8 394.8L337.0 393.5L336.3 392.0L335.6 390.5L335.1 388.9L334.6 387.3L334.3 385.6L334.0 383.8L333.8 382.0L333.7 380.1L333.7 378.2L333.7 376.2L333.9 374.1L334.2 372.0L334.5 369.9L334.9 367.7L335.4 365.5L336.0 363.2L336.7 360.9L337.5 358.6L338.3 356.2L339.3 353.8L340.3 351.4L341.4 348.9L342.5 346.5L343.8 344.0L345.1 341.5L346.5 339.0L348.0 336.5L349.5 334.0L351.1 331.5L352.8 329.0L354.5 326.5L356.4 324.1L358.2 321.6L360.1 319.1L362.1 316.7L364.2 314.3L366.2 311.9L368.4 309.5L370.6 307.2L372.8 304.9L375.0 302.6L377.3 300.4L379.7 298.2L382.0 296.0L384.4 293.9L386.9 291.9L389.3 289.9L391.8 287.9L394.3 286.0L396.7 284.2L399.3 282.4L401.8 280.7L404.3 279.1L406.8 277.5L409.3 276.0L411.9 274.6L414.4 273.2L416.9 271.9L419.4 270.7L421.8 269.6L424.3 268.5L426.7 267.5L429.1 266.6L431.5 265.8L433.9 265.1L436.2 264.4L438.4 263.9L440.7 263.4L442.9 263.0L445.0 262.7L447.1 262.5L449.2 262.3L451.2 262.3L453.1 262.3L455.0 262.5L456.8 262.7L458.6 263.0L460.3 263.4L461.9 263.9L463.5 264.4L465.0 265.1L466.4 265.8L467.8 266.6L469.0 267.5L470.2 268.5Z" fill="#b4d890"/></g>
<g clip-path="url(#clB)"><path d="M509.8 291.9L510.8 293.1L511.8 294.3L512.7 295.6L513.6 297.0L514.3 298.4L515.0 300.0L515.6 301.5L516.1 303.2L516.5 304.9L516.8 306.7L517.1 308.5L517.2 310.4L517.3 312.4L517.3 314.4L517.2 316.5L517.0 318.6L516.7 320.7L516.4 322.9L515.9 325.2L515.4 327.4L514.7 329.8L514.0 332.1L513.3 334.5L512.4 336.9L511.4 339.3L510.4 341.7L509.3 344.2L508.1 346.7L506.8 349.1L505.5 351.6L504.1 354.1L502.6 356.6L501.1 359.1L499.4 361.6L497.8 364.1L496.0 366.6L494.2 369.1L492.3 371.5L490.4 374.0L488.4 376.4L486.4 378.8L484.3 381.1L482.2 383.5L480.0 385.7L477.8 388.0L475.6 390.2L473.3 392.4L471.0 394.5L468.6 396.6L466.2 398.7L463.8 400.7L461.4 402.6L458.9 404.5L456.5 406.3L454.0 408.0L451.5 409.7L449.0 411.3L446.5 412.9L444.0 414.4L441.6 415.8L439.1 417.2L436.6 418.4L434.1 419.6L431.7 420.8L429.2 421.8L426.8 422.8L424.4 423.6L422.0 424.4L419.7 425.1L417.4 425.8L415.1 426.3L412.9 426.8L410.7 427.1L408.5 427.4L406.4 427.6L404.4 427.7L402.4 427.8L400.4 427.7L398.5 427.6L396.7 427.3L394.9 427.0L393.2 426.6L391.5 426.1L389.9 425.5L388.4 424.8L386.9 424.1L385.5 423.3L384.2 422.3L383.0 421.3L381.8 420.3L380.8 419.1L379.8 417.9L378.9 416.6L378.0 415.2L377.3 413.8L376.6 412.2L376.0 410.7L375.5 409.0L375.1 407.3L374.8 405.5L374.5 403.7L374.4 401.8L374.3 399.8L374.3 397.8L374.4 395.7L374.6 393.6L374.9 391.5L375.2 389.3L375.7 387.0L376.2 384.8L376.9 382.4L377.6 380.1L378.3 377.7L379.2 375.3L380.2 372.9L381.2 370.5L382.3 368.0L383.5 365.5L384.8 363.1L386.1 360.6L387.5 358.1L389.0 355.6L390.5 353.1L392.2 350.6L393.8 348.1L395.6 345.6L397.4 343.1L399.3 340.7L401.2 338.2L403.2 335.8L405.2 333.4L407.3 331.1L409.4 328.7L411.6 326.5L413.8 324.2L416.0 322.0L418.3 319.8L420.6 317.7L423.0 315.6L425.4 313.5L427.8 311.5L430.2 309.6L432.7 307.7L435.1 305.9L437.6 304.2L440.1 302.5L442.6 300.9L445.1 299.3L447.6 297.8L450.0 296.4L452.5 295.0L455.0 293.8L457.5 292.6L459.9 291.4L462.4 290.4L464.8 289.4L467.2 288.6L469.6 287.8L471.9 287.1L474.2 286.4L476.5 285.9L478.7 285.4L480.9 285.1L483.1 284.8L485.2 284.6L487.2 284.5L489.2 284.4L491.2 284.5L493.1 284.6L494.9 284.9L496.7 285.2L498.4 285.6L500.1 286.1L501.7 286.7L503.2 287.4L504.7 288.1L506.1 288.9L507.4 289.9L508.6 290.9Z" fill="#f4b488"/></g>
<g clip-path="url(#clC)"><path d="M509.8 291.9L510.8 293.1L511.8 294.3L512.7 295.6L513.6 297.0L514.3 298.4L515.0 300.0L515.6 301.5L516.1 303.2L516.5 304.9L516.8 306.7L517.1 308.5L517.2 310.4L517.3 312.4L517.3 314.4L517.2 316.5L517.0 318.6L516.7 320.7L516.4 322.9L515.9 325.2L515.4 327.4L514.7 329.8L514.0 332.1L513.3 334.5L512.4 336.9L511.4 339.3L510.4 341.7L509.3 344.2L508.1 346.7L506.8 349.1L505.5 351.6L504.1 354.1L502.6 356.6L501.1 359.1L499.4 361.6L497.8 364.1L496.0 366.6L494.2 369.1L492.3 371.5L490.4 374.0L488.4 376.4L486.4 378.8L484.3 381.1L482.2 383.5L480.0 385.7L477.8 388.0L475.6 390.2L473.3 392.4L471.0 394.5L468.6 396.6L466.2 398.7L463.8 400.7L461.4 402.6L458.9 404.5L456.5 406.3L454.0 408.0L451.5 409.7L449.0 411.3L446.5 412.9L444.0 414.4L441.6 415.8L439.1 417.2L436.6 418.4L434.1 419.6L431.7 420.8L429.2 421.8L426.8 422.8L424.4 423.6L422.0 424.4L419.7 425.1L417.4 425.8L415.1 426.3L412.9 426.8L410.7 427.1L408.5 427.4L406.4 427.6L404.4 427.7L402.4 427.8L400.4 427.7L398.5 427.6L396.7 427.3L394.9 427.0L393.2 426.6L391.5 426.1L389.9 425.5L388.4 424.8L386.9 424.1L385.5 423.3L384.2 422.3L383.0 421.3L381.8 420.3L380.8 419.1L379.8 417.9L378.9 416.6L378.0 415.2L377.3 413.8L376.6 412.2L376.0 410.7L375.5 409.0L375.1 407.3L374.8 405.5L374.5 403.7L374.4 401.8L374.3 399.8L374.3 397.8L374.4 395.7L374.6 393.6L374.9 391.5L375.2 389.3L375.7 387.0L376.2 384.8L376.9 382.4L377.6 380.1L378.3 377.7L379.2 375.3L380.2 372.9L381.2 370.5L382.3 368.0L383.5 365.5L384.8 363.1L386.1 360.6L387.5 358.1L389.0 355.6L390.5 353.1L392.2 350.6L393.8 348.1L395.6 345.6L397.4 343.1L399.3 340.7L401.2 338.2L403.2 335.8L405.2 333.4L407.3 331.1L409.4 328.7L411.6 326.5L413.8 324.2L416.0 322.0L418.3 319.8L420.6 317.7L423.0 315.6L425.4 313.5L427.8 311.5L430.2 309.6L432.7 307.7L435.1 305.9L437.6 304.2L440.1 302.5L442.6 300.9L445.1 299.3L447.6 297.8L450.0 296.4L452.5 295.0L455.0 293.8L457.5 292.6L459.9 291.4L462.4 290.4L464.8 289.4L467.2 288.6L469.6 287.8L471.9 287.1L474.2 286.4L476.5 285.9L478.7 285.4L480.9 285.1L483.1 284.8L485.2 284.6L487.2 284.5L489.2 284.4L491.2 284.5L493.1 284.6L494.9 284.9L496.7 285.2L498.4 285.6L500.1 286.1L501.7 286.7L503.2 287.4L504.7 288.1L506.1 288.9L507.4 289.9L508.6 290.9Z" fill="#d4bc94"/></g>
<g clip-path="url(#clB)"><g clip-path="url(#clA)"><path d="M471.4 269.5L472.4 270.7L473.4 271.9L474.2 273.2L475.0 274.5L475.7 276.0L476.4 277.5L476.9 279.1L477.4 280.7L477.7 282.4L478.0 284.2L478.2 286.0L478.3 287.9L478.3 289.8L478.3 291.8L478.1 293.9L477.8 296.0L477.5 298.1L477.1 300.3L476.6 302.5L476.0 304.8L475.3 307.1L474.5 309.4L473.7 311.8L472.7 314.2L471.7 316.6L470.6 319.1L469.5 321.5L468.2 324.0L466.9 326.5L465.5 329.0L464.0 331.5L462.5 334.0L460.9 336.5L459.2 339.0L457.5 341.5L455.6 343.9L453.8 346.4L451.9 348.9L449.9 351.3L447.8 353.7L445.8 356.1L443.6 358.5L441.4 360.8L439.2 363.1L437.0 365.4L434.7 367.6L432.3 369.8L430.0 372.0L427.6 374.1L425.1 376.1L422.7 378.1L420.2 380.1L417.7 382.0L415.3 383.8L412.7 385.6L410.2 387.3L407.7 388.9L405.2 390.5L402.7 392.0L400.1 393.4L397.6 394.8L395.1 396.1L392.6 397.3L390.2 398.4L387.7 399.5L385.3 400.5L382.9 401.4L380.5 402.2L378.1 402.9L375.8 403.6L373.6 404.1L371.3 404.6L369.1 405.0L367.0 405.3L364.9 405.5L362.8 405.7L360.8 405.7L358.9 405.7L357.0 405.5L355.2 405.3L353.4 405.0L351.7 404.6L350.1 404.1L348.5 403.6L347.0 402.9L345.6 402.2L344.2 401.4L343.0 400.5L341.8 399.5L340.6 398.5L339.6 397.3L338.6 396.1L337.8 394.8L337.0 393.5L336.3 392.0L335.6 390.5L335.1 388.9L334.6 387.3L334.3 385.6L334.0 383.8L333.8 382.0L333.7 380.1L333.7 378.2L333.7 376.2L333.9 374.1L334.2 372.0L334.5 369.9L334.9 367.7L335.4 365.5L336.0 363.2L336.7 360.9L337.5 358.6L338.3 356.2L339.3 353.8L340.3 351.4L341.4 348.9L342.5 346.5L343.8 344.0L345.1 341.5L346.5 339.0L348.0 336.5L349.5 334.0L351.1 331.5L352.8 329.0L354.5 326.5L356.4 324.1L358.2 321.6L360.1 319.1L362.1 316.7L364.2 314.3L366.2 311.9L368.4 309.5L370.6 307.2L372.8 304.9L375.0 302.6L377.3 300.4L379.7 298.2L382.0 296.0L384.4 293.9L386.9 291.9L389.3 289.9L391.8 287.9L394.3 286.0L396.7 284.2L399.3 282.4L401.8 280.7L404.3 279.1L406.8 277.5L409.3 276.0L411.9 274.6L414.4 273.2L416.9 271.9L419.4 270.7L421.8 269.6L424.3 268.5L426.7 267.5L429.1 266.6L431.5 265.8L433.9 265.1L436.2 264.4L438.4 263.9L440.7 263.4L442.9 263.0L445.0 262.7L447.1 262.5L449.2 262.3L451.2 262.3L453.1 262.3L455.0 262.5L456.8 262.7L458.6 263.0L460.3 263.4L461.9 263.9L463.5 264.4L465.0 265.1L466.4 265.8L467.8 266.6L469.0 267.5L470.2 268.5Z" fill="#80c88c"/></g></g>
<g clip-path="url(#clB)"><g clip-path="url(#clA)"><path d="M509.8 291.9L510.8 293.1L511.8 294.3L512.7 295.6L513.6 297.0L514.3 298.4L515.0 300.0L515.6 301.5L516.1 303.2L516.5 304.9L516.8 306.7L517.1 308.5L517.2 310.4L517.3 312.4L517.3 314.4L517.2 316.5L517.0 318.6L516.7 320.7L516.4 322.9L515.9 325.2L515.4 327.4L514.7 329.8L514.0 332.1L513.3 334.5L512.4 336.9L511.4 339.3L510.4 341.7L509.3 344.2L508.1 346.7L506.8 349.1L505.5 351.6L504.1 354.1L502.6 356.6L501.1 359.1L499.4 361.6L497.8 364.1L496.0 366.6L494.2 369.1L492.3 371.5L490.4 374.0L488.4 376.4L486.4 378.8L484.3 381.1L482.2 383.5L480.0 385.7L477.8 388.0L475.6 390.2L473.3 392.4L471.0 394.5L468.6 396.6L466.2 398.7L463.8 400.7L461.4 402.6L458.9 404.5L456.5 406.3L454.0 408.0L451.5 409.7L449.0 411.3L446.5 412.9L444.0 414.4L441.6 415.8L439.1 417.2L436.6 418.4L434.1 419.6L431.7 420.8L429.2 421.8L426.8 422.8L424.4 423.6L422.0 424.4L419.7 425.1L417.4 425.8L415.1 426.3L412.9 426.8L410.7 427.1L408.5 427.4L406.4 427.6L404.4 427.7L402.4 427.8L400.4 427.7L398.5 427.6L396.7 427.3L394.9 427.0L393.2 426.6L391.5 426.1L389.9 425.5L388.4 424.8L386.9 424.1L385.5 423.3L384.2 422.3L383.0 421.3L381.8 420.3L380.8 419.1L379.8 417.9L378.9 416.6L378.0 415.2L377.3 413.8L376.6 412.2L376.0 410.7L375.5 409.0L375.1 407.3L374.8 405.5L374.5 403.7L374.4 401.8L374.3 399.8L374.3 397.8L374.4 395.7L374.6 393.6L374.9 391.5L375.2 389.3L375.7 387.0L376.2 384.8L376.9 382.4L377.6 380.1L378.3 377.7L379.2 375.3L380.2 372.9L381.2 370.5L382.3 368.0L383.5 365.5L384.8 363.1L386.1 360.6L387.5 358.1L389.0 355.6L390.5 353.1L392.2 350.6L393.8 348.1L395.6 345.6L397.4 343.1L399.3 340.7L401.2 338.2L403.2 335.8L405.2 333.4L407.3 331.1L409.4 328.7L411.6 326.5L413.8 324.2L416.0 322.0L418.3 319.8L420.6 317.7L423.0 315.6L425.4 313.5L427.8 311.5L430.2 309.6L432.7 307.7L435.1 305.9L437.6 304.2L440.1 302.5L442.6 300.9L445.1 299.3L447.6 297.8L450.0 296.4L452.5 295.0L455.0 293.8L457.5 292.6L459.9 291.4L462.4 290.4L464.8 289.4L467.2 288.6L469.6 287.8L471.9 287.1L474.2 286.4L476.5 285.9L478.7 285.4L480.9 285.1L483.1 284.8L485.2 284.6L487.2 284.5L489.2 284.4L491.2 284.5L493.1 284.6L494.9 284.9L496.7 285.2L498.4 285.6L500.1 286.1L501.7 286.7L503.2 287.4L504.7 288.1L506.1 288.9L507.4 289.9L508.6 290.9Z" fill="#dca498"/></g></g>
<g clip-path="url(#clC)"><g clip-path="url(#clA)"><path d="M509.8 291.9L510.8 293.1L511.8 294.3L512.7 295.6L513.6 297.0L514.3 298.4L515.0 300.0L515.6 301.5L516.1 303.2L516.5 304.9L516.8 306.7L517.1 308.5L517.2 310.4L517.3 312.4L517.3 314.4L517.2 316.5L517.0 318.6L516.7 320.7L516.4 322.9L515.9 325.2L515.4 327.4L514.7 329.8L514.0 332.1L513.3 334.5L512.4 336.9L511.4 339.3L510.4 341.7L509.3 344.2L508.1 346.7L506.8 349.1L505.5 351.6L504.1 354.1L502.6 356.6L501.1 359.1L499.4 361.6L497.8 364.1L496.0 366.6L494.2 369.1L492.3 371.5L490.4 374.0L488.4 376.4L486.4 378.8L484.3 381.1L482.2 383.5L480.0 385.7L477.8 388.0L475.6 390.2L473.3 392.4L471.0 394.5L468.6 396.6L466.2 398.7L463.8 400.7L461.4 402.6L458.9 404.5L456.5 406.3L454.0 408.0L451.5 409.7L449.0 411.3L446.5 412.9L444.0 414.4L441.6 415.8L439.1 417.2L436.6 418.4L434.1 419.6L431.7 420.8L429.2 421.8L426.8 422.8L424.4 423.6L422.0 424.4L419.7 425.1L417.4 425.8L415.1 426.3L412.9 426.8L410.7 427.1L408.5 427.4L406.4 427.6L404.4 427.7L402.4 427.8L400.4 427.7L398.5 427.6L396.7 427.3L394.9 427.0L393.2 426.6L391.5 426.1L389.9 425.5L388.4 424.8L386.9 424.1L385.5 423.3L384.2 422.3L383.0 421.3L381.8 420.3L380.8 419.1L379.8 417.9L378.9 416.6L378.0 415.2L377.3 413.8L376.6 412.2L376.0 410.7L375.5 409.0L375.1 407.3L374.8 405.5L374.5 403.7L374.4 401.8L374.3 399.8L374.3 397.8L374.4 395.7L374.6 393.6L374.9 391.5L375.2 389.3L375.7 387.0L376.2 384.8L376.9 382.4L377.6 380.1L378.3 377.7L379.2 375.3L380.2 372.9L381.2 370.5L382.3 368.0L383.5 365.5L384.8 363.1L386.1 360.6L387.5 358.1L389.0 355.6L390.5 353.1L392.2 350.6L393.8 348.1L395.6 345.6L397.4 343.1L399.3 340.7L401.2 338.2L403.2 335.8L405.2 333.4L407.3 331.1L409.4 328.7L411.6 326.5L413.8 324.2L416.0 322.0L418.3 319.8L420.6 317.7L423.0 315.6L425.4 313.5L427.8 311.5L430.2 309.6L432.7 307.7L435.1 305.9L437.6 304.2L440.1 302.5L442.6 300.9L445.1 299.3L447.6 297.8L450.0 296.4L452.5 295.0L455.0 293.8L457.5 292.6L459.9 291.4L462.4 290.4L464.8 289.4L467.2 288.6L469.6 287.8L471.9 287.1L474.2 286.4L476.5 285.9L478.7 285.4L480.9 285.1L483.1 284.8L485.2 284.6L487.2 284.5L489.2 284.4L491.2 284.5L493.1 284.6L494.9 284.9L496.7 285.2L498.4 285.6L500.1 286.1L501.7 286.7L503.2 287.4L504.7 288.1L506.1 288.9L507.4 289.9L508.6 290.9Z" fill="#b8a0a0"/></g></g>
<g clip-path="url(#clC)"><g clip-path="url(#clB)"><path d="M509.8 291.9L510.8 293.1L511.8 294.3L512.7 295.6L513.6 297.0L514.3 298.4L515.0 300.0L515.6 301.5L516.1 303.2L516.5 304.9L516.8 306.7L517.1 308.5L517.2 310.4L517.3 312.4L517.3 314.4L517.2 316.5L517.0 318.6L516.7 320.7L516.4 322.9L515.9 325.2L515.4 327.4L514.7 329.8L514.0 332.1L513.3 334.5L512.4 336.9L511.4 339.3L510.4 341.7L509.3 344.2L508.1 346.7L506.8 349.1L505.5 351.6L504.1 354.1L502.6 356.6L501.1 359.1L499.4 361.6L497.8 364.1L496.0 366.6L494.2 369.1L492.3 371.5L490.4 374.0L488.4 376.4L486.4 378.8L484.3 381.1L482.2 383.5L480.0 385.7L477.8 388.0L475.6 390.2L473.3 392.4L471.0 394.5L468.6 396.6L466.2 398.7L463.8 400.7L461.4 402.6L458.9 404.5L456.5 406.3L454.0 408.0L451.5 409.7L449.0 411.3L446.5 412.9L444.0 414.4L441.6 415.8L439.1 417.2L436.6 418.4L434.1 419.6L431.7 420.8L429.2 421.8L426.8 422.8L424.4 423.6L422.0 424.4L419.7 425.1L417.4 425.8L415.1 426.3L412.9 426.8L410.7 427.1L408.5 427.4L406.4 427.6L404.4 427.7L402.4 427.8L400.4 427.7L398.5 427.6L396.7 427.3L394.9 427.0L393.2 426.6L391.5 426.1L389.9 425.5L388.4 424.8L386.9 424.1L385.5 423.3L384.2 422.3L383.0 421.3L381.8 420.3L380.8 419.1L379.8 417.9L378.9 416.6L378.0 415.2L377.3 413.8L376.6 412.2L376.0 410.7L375.5 409.0L375.1 407.3L374.8 405.5L374.5 403.7L374.4 401.8L374.3 399.8L374.3 397.8L374.4 395.7L374.6 393.6L374.9 391.5L375.2 389.3L375.7 387.0L376.2 384.8L376.9 382.4L377.6 380.1L378.3 377.7L379.2 375.3L380.2 372.9L381.2 370.5L382.3 368.0L383.5 365.5L384.8 363.1L386.1 360.6L387.5 358.1L389.0 355.6L390.5 353.1L392.2 350.6L393.8 348.1L395.6 345.6L397.4 343.1L399.3 340.7L401.2 338.2L403.2 335.8L405.2 333.4L407.3 331.1L409.4 328.7L411.6 326.5L413.8 324.2L416.0 322.0L418.3 319.8L420.6 317.7L423.0 315.6L425.4 313.5L427.8 311.5L430.2 309.6L432.7 307.7L435.1 305.9L437.6 304.2L440.1 302.5L442.6 300.9L445.1 299.3L447.6 297.8L450.0 296.4L452.5 295.0L455.0 293.8L457.5 292.6L459.9 291.4L462.4 290.4L464.8 289.4L467.2 288.6L469.6 287.8L471.9 287.1L474.2 286.4L476.5 285.9L478.7 285.4L480.9 285.1L483.1 284.8L485.2 284.6L487.2 284.5L489.2 284.4L491.2 284.5L493.1 284.6L494.9 284.9L496.7 285.2L498.4 285.6L500.1 286.1L501.7 286.7L503.2 287.4L504.7 288.1L506.1 288.9L507.4 289.9L508.6 290.9Z" fill="#cdb878"/></g></g>
<g clip-path="url(#clC)"><g clip-path="url(#clB)"><g clip-path="url(#clA)"><path d="M509.8 291.9L510.8 293.1L511.8 294.3L512.7 295.6L513.6 297.0L514.3 298.4L515.0 300.0L515.6 301.5L516.1 303.2L516.5 304.9L516.8 306.7L517.1 308.5L517.2 310.4L517.3 312.4L517.3 314.4L517.2 316.5L517.0 318.6L516.7 320.7L516.4 322.9L515.9 325.2L515.4 327.4L514.7 329.8L514.0 332.1L513.3 334.5L512.4 336.9L511.4 339.3L510.4 341.7L509.3 344.2L508.1 346.7L506.8 349.1L505.5 351.6L504.1 354.1L502.6 356.6L501.1 359.1L499.4 361.6L497.8 364.1L496.0 366.6L494.2 369.1L492.3 371.5L490.4 374.0L488.4 376.4L486.4 378.8L484.3 381.1L482.2 383.5L480.0 385.7L477.8 388.0L475.6 390.2L473.3 392.4L471.0 394.5L468.6 396.6L466.2 398.7L463.8 400.7L461.4 402.6L458.9 404.5L456.5 406.3L454.0 408.0L451.5 409.7L449.0 411.3L446.5 412.9L444.0 414.4L441.6 415.8L439.1 417.2L436.6 418.4L434.1 419.6L431.7 420.8L429.2 421.8L426.8 422.8L424.4 423.6L422.0 424.4L419.7 425.1L417.4 425.8L415.1 426.3L412.9 426.8L410.7 427.1L408.5 427.4L406.4 427.6L404.4 427.7L402.4 427.8L400.4 427.7L398.5 427.6L396.7 427.3L394.9 427.0L393.2 426.6L391.5 426.1L389.9 425.5L388.4 424.8L386.9 424.1L385.5 423.3L384.2 422.3L383.0 421.3L381.8 420.3L380.8 419.1L379.8 417.9L378.9 416.6L378.0 415.2L377.3 413.8L376.6 412.2L376.0 410.7L375.5 409.0L375.1 407.3L374.8 405.5L374.5 403.7L374.4 401.8L374.3 399.8L374.3 397.8L374.4 395.7L374.6 393.6L374.9 391.5L375.2 389.3L375.7 387.0L376.2 384.8L376.9 382.4L377.6 380.1L378.3 377.7L379.2 375.3L380.2 372.9L381.2 370.5L382.3 368.0L383.5 365.5L384.8 363.1L386.1 360.6L387.5 358.1L389.0 355.6L390.5 353.1L392.2 350.6L393.8 348.1L395.6 345.6L397.4 343.1L399.3 340.7L401.2 338.2L403.2 335.8L405.2 333.4L407.3 331.1L409.4 328.7L411.6 326.5L413.8 324.2L416.0 322.0L418.3 319.8L420.6 317.7L423.0 315.6L425.4 313.5L427.8 311.5L430.2 309.6L432.7 307.7L435.1 305.9L437.6 304.2L440.1 302.5L442.6 300.9L445.1 299.3L447.6 297.8L450.0 296.4L452.5 295.0L455.0 293.8L457.5 292.6L459.9 291.4L462.4 290.4L464.8 289.4L467.2 288.6L469.6 287.8L471.9 287.1L474.2 286.4L476.5 285.9L478.7 285.4L480.9 285.1L483.1 284.8L485.2 284.6L487.2 284.5L489.2 284.4L491.2 284.5L493.1 284.6L494.9 284.9L496.7 285.2L498.4 285.6L500.1 286.1L501.7 286.7L503.2 287.4L504.7 288.1L506.1 288.9L507.4 289.9L508.6 290.9Z" fill="#b8a070"/></g></g></g>
<path d="M422.7 420.3L421.5 421.3L420.3 422.3L419.0 423.3L417.6 424.1L416.1 424.8L414.6 425.5L413.0 426.1L411.3 426.6L409.6 427.0L407.8 427.3L406.0 427.6L404.1 427.7L402.1 427.8L400.1 427.7L398.1 427.6L396.0 427.4L393.8 427.1L391.6 426.8L389.4 426.3L387.1 425.8L384.8 425.1L382.5 424.4L380.1 423.6L377.7 422.8L375.3 421.8L372.8 420.8L370.4 419.6L367.9 418.4L365.4 417.2L362.9 415.8L360.5 414.4L358.0 412.9L355.5 411.3L353.0 409.7L350.5 408.0L348.0 406.3L345.6 404.5L343.1 402.6L340.7 400.7L338.3 398.7L335.9 396.6L333.5 394.5L331.2 392.4L328.9 390.2L326.7 388.0L324.5 385.7L322.3 383.5L320.2 381.1L318.1 378.8L316.1 376.4L314.1 374.0L312.2 371.5L310.3 369.1L308.5 366.6L306.7 364.1L305.1 361.6L303.4 359.1L301.9 356.6L300.4 354.1L299.0 351.6L297.7 349.1L296.4 346.7L295.2 344.2L294.1 341.7L293.1 339.3L292.1 336.9L291.2 334.5L290.5 332.1L289.8 329.8L289.1 327.4L288.6 325.2L288.1 322.9L287.8 320.7L287.5 318.6L287.3 316.5L287.2 314.4L287.2 312.4L287.3 310.4L287.4 308.5L287.7 306.7L288.0 304.9L288.4 303.2L288.9 301.5L289.5 300.0L290.2 298.4L290.9 297.0L291.8 295.6L292.7 294.3L293.7 293.1L294.7 291.9L295.9 290.9L297.1 289.9L298.4 288.9L299.8 288.1L301.3 287.4L302.8 286.7L304.4 286.1L306.1 285.6L307.8 285.2L309.6 284.9L311.4 284.6L313.3 284.5L315.3 284.4L317.3 284.5L319.3 284.6L321.4 284.8L323.6 285.1L325.8 285.4L328.0 285.9L330.3 286.4L332.6 287.1L334.9 287.8L337.3 288.6L339.7 289.4L342.1 290.4L344.6 291.4L347.0 292.6L349.5 293.8L352.0 295.0L354.5 296.4L356.9 297.8L359.4 299.3L361.9 300.9L364.4 302.5L366.9 304.2L369.4 305.9L371.8 307.7L374.3 309.6L376.7 311.5L379.1 313.5L381.5 315.6L383.9 317.7L386.2 319.8L388.5 322.0L390.7 324.2L392.9 326.5L395.1 328.7L397.2 331.1L399.3 333.4L401.3 335.8L403.3 338.2L405.2 340.7L407.1 343.1L408.9 345.6L410.7 348.1L412.3 350.6L414.0 353.1L415.5 355.6L417.0 358.1L418.4 360.6L419.7 363.1L421.0 365.5L422.2 368.0L423.3 370.5L424.3 372.9L425.3 375.3L426.2 377.7L426.9 380.1L427.6 382.4L428.3 384.8L428.8 387.0L429.3 389.3L429.6 391.5L429.9 393.6L430.1 395.7L430.2 397.8L430.2 399.8L430.1 401.8L430.0 403.7L429.7 405.5L429.4 407.3L429.0 409.0L428.5 410.7L427.9 412.2L427.2 413.8L426.5 415.2L425.6 416.6L424.7 417.9L423.7 419.1Z" fill="none" stroke="#3c3c38" stroke-width="1.05"/>
<path d="M463.9 398.5L462.7 399.5L461.5 400.5L460.3 401.4L458.9 402.2L457.5 402.9L456.0 403.6L454.4 404.1L452.8 404.6L451.1 405.0L449.3 405.3L447.5 405.5L445.6 405.7L443.7 405.7L441.7 405.7L439.6 405.5L437.5 405.3L435.4 405.0L433.2 404.6L430.9 404.1L428.7 403.6L426.4 402.9L424.0 402.2L421.6 401.4L419.2 400.5L416.8 399.5L414.3 398.4L411.9 397.3L409.4 396.1L406.9 394.8L404.4 393.4L401.8 392.0L399.3 390.5L396.8 388.9L394.3 387.3L391.8 385.6L389.2 383.8L386.8 382.0L384.3 380.1L381.8 378.1L379.4 376.1L376.9 374.1L374.5 372.0L372.2 369.8L369.8 367.6L367.5 365.4L365.3 363.1L363.1 360.8L360.9 358.5L358.7 356.1L356.7 353.7L354.6 351.3L352.6 348.9L350.7 346.4L348.9 343.9L347.0 341.5L345.3 339.0L343.6 336.5L342.0 334.0L340.5 331.5L339.0 329.0L337.6 326.5L336.3 324.0L335.0 321.5L333.9 319.1L332.8 316.6L331.8 314.2L330.8 311.8L330.0 309.4L329.2 307.1L328.5 304.8L327.9 302.5L327.4 300.3L327.0 298.1L326.7 296.0L326.4 293.9L326.2 291.8L326.2 289.8L326.2 287.9L326.3 286.0L326.5 284.2L326.8 282.4L327.1 280.7L327.6 279.1L328.1 277.5L328.8 276.0L329.5 274.5L330.3 273.2L331.1 271.9L332.1 270.7L333.1 269.5L334.3 268.5L335.5 267.5L336.7 266.6L338.1 265.8L339.5 265.1L341.0 264.4L342.6 263.9L344.2 263.4L345.9 263.0L347.7 262.7L349.5 262.5L351.4 262.3L353.3 262.3L355.3 262.3L357.4 262.5L359.5 262.7L361.6 263.0L363.8 263.4L366.1 263.9L368.3 264.4L370.6 265.1L373.0 265.8L375.4 266.6L377.8 267.5L380.2 268.5L382.7 269.6L385.1 270.7L387.6 271.9L390.1 273.2L392.6 274.6L395.2 276.0L397.7 277.5L400.2 279.1L402.7 280.7L405.2 282.4L407.8 284.2L410.2 286.0L412.7 287.9L415.2 289.9L417.6 291.9L420.1 293.9L422.5 296.0L424.8 298.2L427.2 300.4L429.5 302.6L431.7 304.9L433.9 307.2L436.1 309.5L438.3 311.9L440.3 314.3L442.4 316.7L444.4 319.1L446.3 321.6L448.1 324.1L450.0 326.5L451.7 329.0L453.4 331.5L455.0 334.0L456.5 336.5L458.0 339.0L459.4 341.5L460.7 344.0L462.0 346.5L463.1 348.9L464.2 351.4L465.2 353.8L466.2 356.2L467.0 358.6L467.8 360.9L468.5 363.2L469.1 365.5L469.6 367.7L470.0 369.9L470.3 372.0L470.6 374.1L470.8 376.2L470.8 378.2L470.8 380.1L470.7 382.0L470.5 383.8L470.2 385.6L469.9 387.3L469.4 388.9L468.9 390.5L468.2 392.0L467.5 393.5L466.7 394.8L465.9 396.1L464.9 397.3Z" fill="none" stroke="#3c3c38" stroke-width="1.05"/>
<path d="M471.4 269.5L472.4 270.7L473.4 271.9L474.2 273.2L475.0 274.5L475.7 276.0L476.4 277.5L476.9 279.1L477.4 280.7L477.7 282.4L478.0 284.2L478.2 286.0L478.3 287.9L478.3 289.8L478.3 291.8L478.1 293.9L477.8 296.0L477.5 298.1L477.1 300.3L476.6 302.5L476.0 304.8L475.3 307.1L474.5 309.4L473.7 311.8L472.7 314.2L471.7 316.6L470.6 319.1L469.5 321.5L468.2 324.0L466.9 326.5L465.5 329.0L464.0 331.5L462.5 334.0L460.9 336.5L459.2 339.0L457.5 341.5L455.6 343.9L453.8 346.4L451.9 348.9L449.9 351.3L447.8 353.7L445.8 356.1L443.6 358.5L441.4 360.8L439.2 363.1L437.0 365.4L434.7 367.6L432.3 369.8L430.0 372.0L427.6 374.1L425.1 376.1L422.7 378.1L420.2 380.1L417.7 382.0L415.3 383.8L412.7 385.6L410.2 387.3L407.7 388.9L405.2 390.5L402.7 392.0L400.1 393.4L397.6 394.8L395.1 396.1L392.6 397.3L390.2 398.4L387.7 399.5L385.3 400.5L382.9 401.4L380.5 402.2L378.1 402.9L375.8 403.6L373.6 404.1L371.3 404.6L369.1 405.0L367.0 405.3L364.9 405.5L362.8 405.7L360.8 405.7L358.9 405.7L357.0 405.5L355.2 405.3L353.4 405.0L351.7 404.6L350.1 404.1L348.5 403.6L347.0 402.9L345.6 402.2L344.2 401.4L343.0 400.5L341.8 399.5L340.6 398.5L339.6 397.3L338.6 396.1L337.8 394.8L337.0 393.5L336.3 392.0L335.6 390.5L335.1 388.9L334.6 387.3L334.3 385.6L334.0 383.8L333.8 382.0L333.7 380.1L333.7 378.2L333.7 376.2L333.9 374.1L334.2 372.0L334.5 369.9L334.9 367.7L335.4 365.5L336.0 363.2L336.7 360.9L337.5 358.6L338.3 356.2L339.3 353.8L340.3 351.4L341.4 348.9L342.5 346.5L343.8 344.0L345.1 341.5L346.5 339.0L348.0 336.5L349.5 334.0L351.1 331.5L352.8 329.0L354.5 326.5L356.4 324.1L358.2 321.6L360.1 319.1L362.1 316.7L364.2 314.3L366.2 311.9L368.4 309.5L370.6 307.2L372.8 304.9L375.0 302.6L377.3 300.4L379.7 298.2L382.0 296.0L384.4 293.9L386.9 291.9L389.3 289.9L391.8 287.9L394.3 286.0L396.7 284.2L399.3 282.4L401.8 280.7L404.3 279.1L406.8 277.5L409.3 276.0L411.9 274.6L414.4 273.2L416.9 271.9L419.4 270.7L421.8 269.6L424.3 268.5L426.7 267.5L429.1 266.6L431.5 265.8L433.9 265.1L436.2 264.4L438.4 263.9L440.7 263.4L442.9 263.0L445.0 262.7L447.1 262.5L449.2 262.3L451.2 262.3L453.1 262.3L455.0 262.5L456.8 262.7L458.6 263.0L460.3 263.4L461.9 263.9L463.5 264.4L465.0 265.1L466.4 265.8L467.8 266.6L469.0 267.5L470.2 268.5Z" fill="none" stroke="#3c3c38" stroke-width="1.05"/>
<path d="M509.8 291.9L510.8 293.1L511.8 294.3L512.7 295.6L513.6 297.0L514.3 298.4L515.0 300.0L515.6 301.5L516.1 303.2L516.5 304.9L516.8 306.7L517.1 308.5L517.2 310.4L517.3 312.4L517.3 314.4L517.2 316.5L517.0 318.6L516.7 320.7L516.4 322.9L515.9 325.2L515.4 327.4L514.7 329.8L514.0 332.1L513.3 334.5L512.4 336.9L511.4 339.3L510.4 341.7L509.3 344.2L508.1 346.7L506.8 349.1L505.5 351.6L504.1 354.1L502.6 356.6L501.1 359.1L499.4 361.6L497.8 364.1L496.0 366.6L494.2 369.1L492.3 371.5L490.4 374.0L488.4 376.4L486.4 378.8L484.3 381.1L482.2 383.5L480.0 385.7L477.8 388.0L475.6 390.2L473.3 392.4L471.0 394.5L468.6 396.6L466.2 398.7L463.8 400.7L461.4 402.6L458.9 404.5L456.5 406.3L454.0 408.0L451.5 409.7L449.0 411.3L446.5 412.9L444.0 414.4L441.6 415.8L439.1 417.2L436.6 418.4L434.1 419.6L431.7 420.8L429.2 421.8L426.8 422.8L424.4 423.6L422.0 424.4L419.7 425.1L417.4 425.8L415.1 426.3L412.9 426.8L410.7 427.1L408.5 427.4L406.4 427.6L404.4 427.7L402.4 427.8L400.4 427.7L398.5 427.6L396.7 427.3L394.9 427.0L393.2 426.6L391.5 426.1L389.9 425.5L388.4 424.8L386.9 424.1L385.5 423.3L384.2 422.3L383.0 421.3L381.8 420.3L380.8 419.1L379.8 417.9L378.9 416.6L378.0 415.2L377.3 413.8L376.6 412.2L376.0 410.7L375.5 409.0L375.1 407.3L374.8 405.5L374.5 403.7L374.4 401.8L374.3 399.8L374.3 397.8L374.4 395.7L374.6 393.6L374.9 391.5L375.2 389.3L375.7 387.0L376.2 384.8L376.9 382.4L377.6 380.1L378.3 377.7L379.2 375.3L380.2 372.9L381.2 370.5L382.3 368.0L383.5 365.5L384.8 363.1L386.1 360.6L387.5 358.1L389.0 355.6L390.5 353.1L392.2 350.6L393.8 348.1L395.6 345.6L397.4 343.1L399.3 340.7L401.2 338.2L403.2 335.8L405.2 333.4L407.3 331.1L409.4 328.7L411.6 326.5L413.8 324.2L416.0 322.0L418.3 319.8L420.6 317.7L423.0 315.6L425.4 313.5L427.8 311.5L430.2 309.6L432.7 307.7L435.1 305.9L437.6 304.2L440.1 302.5L442.6 300.9L445.1 299.3L447.6 297.8L450.0 296.4L452.5 295.0L455.0 293.8L457.5 292.6L459.9 291.4L462.4 290.4L464.8 289.4L467.2 288.6L469.6 287.8L471.9 287.1L474.2 286.4L476.5 285.9L478.7 285.4L480.9 285.1L483.1 284.8L485.2 284.6L487.2 284.5L489.2 284.4L491.2 284.5L493.1 284.6L494.9 284.9L496.7 285.2L498.4 285.6L500.1 286.1L501.7 286.7L503.2 287.4L504.7 288.1L506.1 288.9L507.4 289.9L508.6 290.9Z" fill="none" stroke="#3c3c38" stroke-width="1.05"/>
<text x="318.8" y="336.3" font-size="8.4" text-anchor="middle" fill="#1e1e1e" stroke="#1e1e1e" stroke-width="0.235" >100</text>
<text x="363.8" y="281.8" font-size="8.4" text-anchor="middle" fill="#1e1e1e" stroke="#1e1e1e" stroke-width="0.235" >5</text>
<text x="441.2" y="281.8" font-size="8.4" text-anchor="middle" fill="#1e1e1e" stroke="#1e1e1e" stroke-width="0.235" >6</text>
<text x="485.8" y="336.1" font-size="8.4" text-anchor="middle" fill="#1e1e1e" stroke="#1e1e1e" stroke-width="0.235" >994</text>
<text x="344.4" y="310.2" font-size="8.4" text-anchor="middle" fill="#1e1e1e" stroke="#1e1e1e" stroke-width="0.235" >6</text>
<text x="402.3" y="308.3" font-size="8.4" text-anchor="middle" fill="#1e1e1e" stroke="#1e1e1e" stroke-width="0.235" >5</text>
<text x="460.5" y="309.9" font-size="8.4" text-anchor="middle" fill="#1e1e1e" stroke="#1e1e1e" stroke-width="0.235" >1</text>
<text x="370.5" y="342.4" font-size="8.4" text-anchor="middle" fill="#1e1e1e" stroke="#1e1e1e" stroke-width="0.235" >23</text>
<text x="433.8" y="342.1" font-size="8.4" text-anchor="middle" fill="#1e1e1e" stroke="#1e1e1e" stroke-width="0.235" >0</text>
<text x="353.8" y="377.5" font-size="8.4" text-anchor="middle" fill="#1e1e1e" stroke="#1e1e1e" stroke-width="0.235" >6</text>
<text x="402.0" y="371.8" font-size="8.4" text-anchor="middle" fill="#1e1e1e" stroke="#1e1e1e" stroke-width="0.235" >1</text>
<text x="450.0" y="377.7" font-size="8.4" text-anchor="middle" fill="#1e1e1e" stroke="#1e1e1e" stroke-width="0.235" >3</text>
<text x="382.2" y="394.2" font-size="8.4" text-anchor="middle" fill="#1e1e1e" stroke="#1e1e1e" stroke-width="0.235" >0</text>
<text x="421.8" y="394.2" font-size="8.4" text-anchor="middle" fill="#1e1e1e" stroke="#1e1e1e" stroke-width="0.235" >1</text>
<text x="402.3" y="413.2" font-size="8.4" text-anchor="middle" fill="#1e1e1e" stroke="#1e1e1e" stroke-width="0.235" >2</text>
<text x="315.5" y="236.0" font-size="8.8" text-anchor="start" fill="#8c8a58" stroke="#8c8a58" stroke-width="0.246" >MLL-AF9 D546R</text>
<text x="315.5" y="246.8" font-size="8.8" text-anchor="start" fill="#8c8a58" stroke="#8c8a58" stroke-width="0.246" >H3K79me2 loss</text>
<text x="315.5" y="257.6" font-size="8.8" text-anchor="start" fill="#8c8a58" stroke="#8c8a58" stroke-width="0.246" >Kuntimaddi et al.</text>
<text x="428.8" y="236.0" font-size="8.8" text-anchor="start" fill="#5fb070" stroke="#5fb070" stroke-width="0.246" >MLL-AF9 D546R</text>
<text x="428.8" y="246.8" font-size="8.8" text-anchor="start" fill="#5fb070" stroke="#5fb070" stroke-width="0.246" >H3K79me3 loss</text>
<text x="428.8" y="257.6" font-size="8.8" text-anchor="start" fill="#5fb070" stroke="#5fb070" stroke-width="0.246" >Kuntimaddi et al.</text>
<text x="291.2" y="406.5" font-size="8.8" text-anchor="start" fill="#4a5ba6" stroke="#4a5ba6" stroke-width="0.246" >MLL-AF9</text>
<text x="291.2" y="417.3" font-size="8.8" text-anchor="start" fill="#4a5ba6" stroke="#4a5ba6" stroke-width="0.246" >ChIP targets</text>
<text x="291.2" y="428.1" font-size="8.8" text-anchor="start" fill="#4a5ba6" stroke="#4a5ba6" stroke-width="0.246" >Bernt et al.</text>
<text x="468.0" y="407.6" font-size="8.8" text-anchor="start" fill="#d44a8a" stroke="#d44a8a" stroke-width="0.246" >MLL-AF9</text>
<text x="468.0" y="417.8" font-size="8.8" text-anchor="start" fill="#d44a8a" stroke="#d44a8a" stroke-width="0.246" >E531R</text>
<path d="M357.4 443.0L394.9 381.1" stroke="#111" stroke-width="1.1"/><path d="M398.0 376.0L397.1 382.5L392.7 379.8Z" fill="#111"/>
<path d="M402.4 446.0L402.4 426.3" stroke="#111" stroke-width="1.1"/><path d="M402.4 420.3L405.0 426.3L399.8 426.3Z" fill="#111"/>
<path d="M452.6 446.0L426.5 401.2" stroke="#111" stroke-width="1.1"/><path d="M423.5 396.0L428.8 399.9L424.3 402.5Z" fill="#111"/>
<text x="344.4" y="455.5" font-size="9.1" text-anchor="start" fill="#222" stroke="#222" stroke-width="0.255" font-style="italic">Hoxa10</text>
<text x="402.8" y="455.5" font-size="9.1" text-anchor="middle" fill="#222" stroke="#222" stroke-width="0.255" font-style="italic">Hpgd</text>
<text x="402.8" y="465.9" font-size="9.1" text-anchor="middle" fill="#222" stroke="#222" stroke-width="0.255" font-style="italic">St8sia4</text>
<text x="444.0" y="455.5" font-size="9.1" text-anchor="start" fill="#222" stroke="#222" stroke-width="0.255" font-style="italic">Eya1</text>
<text x="0.0" y="478.8" font-size="11" text-anchor="start" fill="#222" font-weight="bold">D</text>
<rect x="35.8" y="478.5" width="171.7" height="172.5" fill="#f1f1f3"/>
<rect x="56.6" y="489.3" width="148.70000000000002" height="64.4" fill="#fff" stroke="#d8d8dc" stroke-width="0.5"/>
<rect x="56.6" y="553.7" width="148.70000000000002" height="30" fill="#fff" stroke="#d8d8dc" stroke-width="0.5"/>
<rect x="56.6" y="583.7" width="148.70000000000002" height="44.3" fill="#fff" stroke="#d8d8dc" stroke-width="0.5"/>
<path d="M85.4 489.3V553.7M85.4 583.7V628" stroke="#eeeef2" stroke-width="0.6"/>
<path d="M116.3 489.3V553.7M116.3 583.7V628" stroke="#eeeef2" stroke-width="0.6"/>
<path d="M148.0 489.3V553.7M148.0 583.7V628" stroke="#eeeef2" stroke-width="0.6"/>
<path d="M179.0 489.3V553.7M179.0 583.7V628" stroke="#eeeef2" stroke-width="0.6"/>
<path d="M56.6 502.6H205.3" stroke="#f2f2f5" stroke-width="0.5"/>
<path d="M56.6 514.6H205.3" stroke="#f2f2f5" stroke-width="0.5"/>
<path d="M56.6 526.6H205.3" stroke="#f2f2f5" stroke-width="0.5"/>
<path d="M56.6 538.7H205.3" stroke="#f2f2f5" stroke-width="0.5"/>
<path d="M56.6 550.8H205.3" stroke="#f2f2f5" stroke-width="0.5"/>
<text x="47.0" y="485.2" font-size="6.55" text-anchor="start" fill="#222" stroke="#222" stroke-width="0.052" >Enrichment plot: HALLMARK_MYC_TARGETS_V1</text>
<text x="54.4" y="492.2" font-size="4.9" text-anchor="end" fill="#555" stroke="#555" stroke-width="0.039" >0.0</text>
<text x="54.4" y="504.2" font-size="4.9" text-anchor="end" fill="#555" stroke="#555" stroke-width="0.039" >-0.1</text>
<text x="54.4" y="516.3" font-size="4.9" text-anchor="end" fill="#555" stroke="#555" stroke-width="0.039" >-0.2</text>
<text x="54.4" y="528.3" font-size="4.9" text-anchor="end" fill="#555" stroke="#555" stroke-width="0.039" >-0.3</text>
<text x="54.4" y="540.4" font-size="4.9" text-anchor="end" fill="#555" stroke="#555" stroke-width="0.039" >-0.4</text>
<text x="54.4" y="552.4" font-size="4.9" text-anchor="end" fill="#555" stroke="#555" stroke-width="0.039" >-0.5</text>
<g transform="translate(43.2,520.6) rotate(-90)"><text x="0.0" y="0.0" font-size="5.4" text-anchor="middle" fill="#555" stroke="#555" stroke-width="0.043" >Enrichment score (ES)</text></g>
<g transform="translate(43.8,605.3) rotate(-90)"><text x="0.0" y="0.0" font-size="5.5" text-anchor="middle" fill="#555" stroke="#555" stroke-width="0.044" >Ranked list metric (PreRanked)</text></g>
<path d="M56.8 490.6L62 494.5L68 499L73 504L76.2 507.1L79 507.5L82 509.5L86.9 510.6L90 510L95 512.5L100 516L105.4 519.8L112 523.5L118 527.5L123.8 530.8L131 535.5L139.2 541.5L146 545.5L151.5 548.3L156.2 550.5L158.5 549.8L160.8 550.5L163 548L165.4 545.2L168 543L170 541.5L173.1 540L176.2 536.9L178 534.5L179.2 532.3L181 527L182.3 518.5L184 518L185.4 510.8L186.5 510L187.8 503.1L191.5 504.8L193 503.5L194.6 504.5L196 505.5L198.6 507.7L199.2 490.8" fill="none" stroke="#1f9650" stroke-width="1.35" stroke-linejoin="round"/>
<text x="61.2" y="536.0" font-size="8.7" text-anchor="start" fill="#222" stroke="#222" stroke-width="0.244" >NES= &#8722;1.80</text>
<text x="61.2" y="549.6" font-size="8.7" text-anchor="start" fill="#222" stroke="#222" stroke-width="0.244" >FDR <tspan font-style="italic">q</tspan> = 0.006</text>
<rect x="75.6" y="555.7" width="1.9" height="21.3" fill="rgb(121,121,121)"/>
<rect x="79.4" y="555.7" width="1.2" height="21.3" fill="rgb(170,170,170)"/>
<rect x="86.3" y="555.7" width="2.5" height="21.3" fill="rgb(49,49,49)"/>
<rect x="90.6" y="555.7" width="1.9" height="21.3" fill="rgb(73,73,73)"/>
<rect x="94.4" y="555.7" width="1.2" height="21.3" fill="rgb(158,158,158)"/>
<rect x="96.3" y="555.7" width="1.8" height="21.3" fill="rgb(73,73,73)"/>
<rect x="100.0" y="555.7" width="1.9" height="21.3" fill="rgb(109,109,109)"/>
<rect x="102.5" y="555.7" width="1.9" height="21.3" fill="rgb(85,85,85)"/>
<rect x="105.0" y="555.7" width="2.5" height="21.3" fill="rgb(121,121,121)"/>
<rect x="113.1" y="555.7" width="1.3" height="21.3" fill="rgb(133,133,133)"/>
<rect x="118.1" y="555.7" width="3.2" height="21.3" fill="rgb(109,109,109)"/>
<rect x="122.5" y="555.7" width="1.3" height="21.3" fill="rgb(158,158,158)"/>
<rect x="125.6" y="555.7" width="1.9" height="21.3" fill="rgb(49,49,49)"/>
<rect x="130.0" y="555.7" width="1.9" height="21.3" fill="rgb(61,61,61)"/>
<rect x="132.5" y="555.7" width="1.1" height="21.3" fill="rgb(109,109,109)"/>
<rect x="133.7" y="555.7" width="2.0" height="21.3" fill="rgb(61,61,61)"/>
<rect x="137.0" y="555.7" width="2.7" height="21.3" fill="rgb(97,97,97)"/>
<rect x="139.7" y="555.7" width="2.7" height="21.3" fill="rgb(121,121,121)"/>
<rect x="142.4" y="555.7" width="2.7" height="21.3" fill="rgb(73,73,73)"/>
<rect x="147.8" y="555.7" width="1.4" height="21.3" fill="rgb(85,85,85)"/>
<rect x="150.5" y="555.7" width="1.3" height="21.3" fill="rgb(145,145,145)"/>
<rect x="153.9" y="555.7" width="2.7" height="21.3" fill="rgb(49,49,49)"/>
<rect x="157.9" y="555.7" width="3.4" height="21.3" fill="rgb(61,61,61)"/>
<rect x="161.3" y="555.7" width="4.7" height="21.3" fill="rgb(109,109,109)"/>
<rect x="167.3" y="555.7" width="1.4" height="21.3" fill="rgb(61,61,61)"/>
<rect x="169.3" y="555.7" width="4.1" height="21.3" fill="rgb(121,121,121)"/>
<rect x="174.0" y="555.7" width="2.1" height="21.3" fill="rgb(73,73,73)"/>
<rect x="176.7" y="555.7" width="4.8" height="21.3" fill="rgb(85,85,85)"/>
<rect x="183.5" y="555.7" width="1.3" height="21.3" fill="rgb(133,133,133)"/>
<rect x="186.2" y="555.7" width="2.0" height="21.3" fill="rgb(61,61,61)"/>
<rect x="193.6" y="555.7" width="0.6" height="21.3" fill="rgb(170,170,170)"/>
<rect x="197.6" y="555.7" width="0.7" height="21.3" fill="rgb(182,182,182)"/>
<defs><linearGradient id="rb" x1="0" x2="1"><stop offset="0" stop-color="#ee6068"/><stop offset="0.32" stop-color="#f07a82"/><stop offset="0.33" stop-color="#f2c0d0"/><stop offset="0.47" stop-color="#ecd0e0"/><stop offset="0.48" stop-color="#d4d4ee"/><stop offset="0.75" stop-color="#bcbce6"/><stop offset="0.76" stop-color="#9090d4"/><stop offset="0.93" stop-color="#7474c6"/><stop offset="0.94" stop-color="#4a4aaa"/><stop offset="1" stop-color="#4242a2"/></linearGradient></defs>
<rect x="56.6" y="577.7" width="141.9" height="5.7" fill="url(#rb)"/>
<text x="58.8" y="586.8" font-size="3.3" text-anchor="start" fill="#e05050" stroke="#e05050" stroke-width="0.026" >na_pos (positively correlated)</text>
<text x="54.6" y="591.5" font-size="4.5" text-anchor="end" fill="#555" stroke="#555" stroke-width="0.036" >4</text>
<text x="54.6" y="598.5" font-size="4.5" text-anchor="end" fill="#555" stroke="#555" stroke-width="0.036" >2</text>
<text x="54.6" y="605.5" font-size="4.5" text-anchor="end" fill="#555" stroke="#555" stroke-width="0.036" >0</text>
<text x="54.6" y="612.5" font-size="4.5" text-anchor="end" fill="#555" stroke="#555" stroke-width="0.036" >-2</text>
<text x="54.6" y="619.5" font-size="4.5" text-anchor="end" fill="#555" stroke="#555" stroke-width="0.036" >-4</text>
<text x="54.6" y="626.5" font-size="4.5" text-anchor="end" fill="#555" stroke="#555" stroke-width="0.036" >-6</text>
<path d="M57 603.5L57 590L58 597L60 600.5L63 602L70 602.8L100 603.2L130 603.5L160 604.2L180 604.8L190 605.8L194 607.5L196.5 611L197.5 627.5L198.3 627.5L198.3 603.5Z" fill="#a8a8ac"/>
<text x="129.6" y="606.9" font-size="3.3" text-anchor="middle" fill="#444" stroke="#444" stroke-width="0.026" >Zero cross at 12546</text>
<text x="131.3" y="625.6" font-size="3.3" text-anchor="start" fill="#5050c0" stroke="#5050c0" stroke-width="0.026" >na_pos (negatively correlated)</text>
<text x="57.6" y="634.0" font-size="4.3" text-anchor="middle" fill="#555" stroke="#555" stroke-width="0.034" >0</text>
<text x="86.5" y="634.0" font-size="4.3" text-anchor="middle" fill="#555" stroke="#555" stroke-width="0.034" >5,000</text>
<text x="115.4" y="634.0" font-size="4.3" text-anchor="middle" fill="#555" stroke="#555" stroke-width="0.034" >10,000</text>
<text x="144.3" y="634.0" font-size="4.3" text-anchor="middle" fill="#555" stroke="#555" stroke-width="0.034" >15,000</text>
<text x="173.2" y="634.0" font-size="4.3" text-anchor="middle" fill="#555" stroke="#555" stroke-width="0.034" >20,000</text>
<text x="202.1" y="634.0" font-size="4.3" text-anchor="middle" fill="#555" stroke="#555" stroke-width="0.034" >25,000</text>
<text x="131.0" y="639.6" font-size="5.45" text-anchor="middle" fill="#444" stroke="#444" stroke-width="0.044" >Ranked in ordered dataset</text>
<rect x="61" y="642.5" width="124.7" height="9" fill="#fff" stroke="#555" stroke-width="0.6"/>
<path d="M62.5 647.2H67.5" stroke="#40b070" stroke-width="1"/><path d="M103 647.2H110" stroke="#666" stroke-width="0.5"/><path d="M124 647.2H135" stroke="#ccc" stroke-width="0.6"/>
<text x="68.5" y="648.7" font-size="4.5" text-anchor="start" fill="#444" stroke="#444" stroke-width="0.036" >Enrichment profile</text>
<text x="112.1" y="648.7" font-size="4.5" text-anchor="start" fill="#444" stroke="#444" stroke-width="0.036" >Hits</text>
<text x="137.2" y="648.7" font-size="4.5" text-anchor="start" fill="#444" stroke="#444" stroke-width="0.036" >Ranking metric scores</text>
<text x="264.2" y="504.8" font-size="11" text-anchor="start" fill="#222" font-weight="bold">E</text>
<rect x="289.3" y="570" width="78.8" height="35.7" fill="#e3e3e5"/>
<rect x="289.3" y="605.7" width="78.8" height="33.4" fill="#f3f3f3"/>
<defs><filter id="bl" x="-30%" y="-200%" width="160%" height="500%"><feGaussianBlur stdDeviation="1.0"/></filter></defs>
<g filter="url(#bl)">
<path d="M298.4 588 Q312 587.4 324 587.4 L324 589.2 Q312 589.4 298.4 589.1Z" fill="#7c7c82"/>
<path d="M331 587 L358.5 586.8 L358.5 588.4 L331 588.6Z" fill="#b8b8bc"/>
<ellipse cx="299" cy="622.5" rx="2.6" ry="1.6" fill="#666"/>
<path d="M304.5 622.8 C308 621 314 619.2 318 619.2 C322 619.2 323 620.5 323 622.6 C323 625 321.5 626 317.5 626 C313 626 308 624.5 304.5 623.2Z" fill="#0c0c0c"/>
<ellipse cx="332.5" cy="623" rx="3.2" ry="2.2" fill="#222"/>
<path d="M333 621.8 Q340 622.6 346 621.8 L346 624.4 Q340 624 333 624.3Z" fill="#888"/>
<path d="M345 622.8 C348 621 352 620 355 620 C358 620 359 621.2 359 622.8 C359 624.6 358 625.6 355 625.6 C352 625.6 348 624.6 345 623.4Z" fill="#111"/>
</g>
<rect x="289.3" y="570" width="78.8" height="69.1" fill="none" stroke="#111" stroke-width="1.1"/>
<path d="M289.3 605.7H368.1" stroke="#111" stroke-width="1.1"/>
<text x="286.6" y="591.1" font-size="8.9" text-anchor="end" fill="#222" stroke="#222" stroke-width="0.249" >c-Myc</text>
<text x="286.6" y="625.2" font-size="8.9" text-anchor="end" fill="#222" stroke="#222" stroke-width="0.249" >Actin</text>
<g transform="translate(307.5,567.5) rotate(-60)"><text x="0.0" y="0.0" font-size="8.5" text-anchor="start" fill="#222" stroke="#222" stroke-width="0.238" >MLL-AF9</text></g>
<g transform="translate(343.5,567.5) rotate(-60)"><text x="0.0" y="0.0" font-size="8.5" text-anchor="start" fill="#222" stroke="#222" stroke-width="0.238" >MLL-AF9</text></g>
<g transform="translate(355.5,567.5) rotate(-60)"><text x="0.0" y="0.0" font-size="8.5" text-anchor="start" fill="#222" stroke="#222" stroke-width="0.238" >E531R</text></g>
<rect x="412" y="498.8" width="8" height="6.8" fill="#2c3c9c" stroke="#111" stroke-width="0.5"/>
<rect x="412" y="510.5" width="8" height="7" fill="#e8202a" stroke="#111" stroke-width="0.5"/>
<text x="423.5" y="505.2" font-size="8.9" text-anchor="start" fill="#222" stroke="#222" stroke-width="0.249" font-style="italic">MLL-AF9</text>
<text x="423.5" y="517.0" font-size="8.9" text-anchor="start" fill="#222" stroke="#222" stroke-width="0.249" font-style="italic">MLL-AF9 E531R</text>
<path d="M459.6 530.5V637.1H497.3" stroke="#222" stroke-width="0.9" fill="none"/>
<path d="M456.2 637.1H459.6" stroke="#222" stroke-width="0.9"/>
<text x="452.0" y="640.1" font-size="8.6" text-anchor="end" fill="#222" stroke="#222" stroke-width="0.241" >0.0</text>
<path d="M456.2 619.4H459.6" stroke="#222" stroke-width="0.9"/>
<path d="M456.2 601.7H459.6" stroke="#222" stroke-width="0.9"/>
<text x="452.0" y="604.7" font-size="8.6" text-anchor="end" fill="#222" stroke="#222" stroke-width="0.241" >0.4</text>
<path d="M456.2 584.1H459.6" stroke="#222" stroke-width="0.9"/>
<path d="M456.2 566.4H459.6" stroke="#222" stroke-width="0.9"/>
<text x="452.0" y="569.3" font-size="8.6" text-anchor="end" fill="#222" stroke="#222" stroke-width="0.241" >0.8</text>
<path d="M456.2 548.7H459.6" stroke="#222" stroke-width="0.9"/>
<path d="M456.2 531.0H459.6" stroke="#222" stroke-width="0.9"/>
<text x="452.0" y="534.0" font-size="8.6" text-anchor="end" fill="#222" stroke="#222" stroke-width="0.241" >1.2</text>
<rect x="466.0" y="548.7" width="12.5" height="88.4" fill="#2c3c9c" stroke="#111" stroke-width="0.5"/>
<rect x="478.5" y="607.9" width="13.1" height="29.2" fill="#e8202a" stroke="#111" stroke-width="0.5"/>
<path d="M484.9 600.8V615.6M483 600.8H486.8M483 615.6H486.8" stroke="#222" stroke-width="0.8"/>
<g transform="translate(424.0,584.2) rotate(-90)"><text x="0.0" y="0.0" font-size="8.7" text-anchor="middle" fill="#222" stroke="#222" stroke-width="0.244" >Relative c-Myc</text></g>
<g transform="translate(432.3,584.2) rotate(-90)"><text x="0.0" y="0.0" font-size="8.7" text-anchor="middle" fill="#222" stroke="#222" stroke-width="0.244" >protein (AUC)</text></g></svg></div></body></html>
